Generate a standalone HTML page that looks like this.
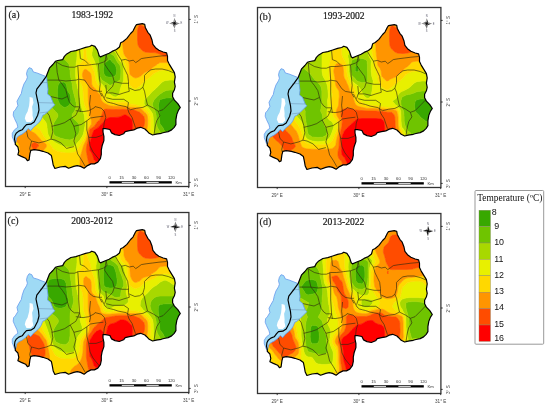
<!DOCTYPE html>
<html><head><meta charset="utf-8"><style>
html,body{margin:0;padding:0;background:#fff;}
svg{display:block;}
</style></head><body>
<svg width="550" height="407" viewBox="0 0 550 407">
<rect width="550" height="407" fill="#fff"/>
<g transform="translate(0,0)">
<clipPath id="clipa"><polygon points="136.5,24.6 138.0,24.3 142.3,23.7 144.7,24.3 145.3,27.4 147.8,32.3 150.0,34.8 152.0,40.0 152.9,44.3 155.5,47.7 158.9,50.3 163.2,52.0 166.6,52.9 167.5,56.3 167.5,60.6 169.2,64.1 171.8,68.4 174.4,72.6 175.2,76.9 174.4,82.1 175.2,86.4 174.4,89.8 172.6,93.3 172.6,96.7 174.4,100.1 177.8,103.6 180.3,107.5 178.5,110.1 176.8,114.4 175.9,119.6 175.9,124.7 174.2,127.3 171.6,129.9 168.2,131.6 163.9,132.5 161.3,133.3 156.1,134.2 152.7,135.0 149.2,133.3 146.7,130.7 144.9,129.0 140.6,127.3 137.2,128.2 133.8,129.9 129.5,130.7 125.2,131.6 123.6,133.8 119.3,135.5 115.0,134.6 111.6,132.9 109.9,129.5 105.6,128.6 103.0,128.6 103.0,132.0 103.9,136.3 103.9,140.6 102.1,145.8 101.3,150.1 101.3,154.4 100.4,158.7 97.8,162.1 94.4,163.9 91.0,163.9 87.5,165.6 84.1,168.2 80.6,166.4 77.2,165.6 73.8,166.4 68.6,168.2 65.2,166.4 60.0,167.0 54.9,168.5 53.2,165.0 52.3,159.9 51.4,155.6 48.0,153.0 42.8,151.3 39.4,150.4 34.2,149.6 30.8,150.4 29.9,153.9 29.1,159.9 27.4,160.7 25.6,158.2 21.3,156.4 17.9,154.7 18.8,151.3 17.9,147.0 15.3,144.4 15.3,142.7 14.5,139.2 14.9,135.8 16.2,133.2 18.8,131.1 22.2,129.8 24.4,126.8 26.5,124.6 30.8,124.2 34.2,122.0 37.7,115.2 39.0,110.0 38.5,104.7 37.0,97.8 36.0,93.0 36.8,89.2 42.0,82.4 46.3,76.3 49.6,67.8 52.9,64.5 55.4,61.3 57.8,60.5 62.7,59.6 64.4,56.4 66.8,53.9 70.9,51.5 75.8,50.6 80.7,49.0 85.6,47.4 89.7,46.5 91.8,45.2 94.9,46.4 97.4,50.1 99.2,55.7 100.5,56.9 104.8,55.0 109.1,53.2 112.1,51.4 116.4,49.5 119.5,47.0 120.7,42.7 123.2,41.5 126.9,38.4 130.6,33.5 133.0,31.1 135.5,26.0"/></clipPath>
<g clip-path="url(#clipa)">
<path fill="#38a800" stroke="#38a800" stroke-width="0.6" d="M110.0 59.3L110.7 60.0L112.0 61.8L112.2 62.0L114.0 63.4L114.5 64.0L115.7 66.0L116.0 66.9L116.2 68.0L116.6 70.0L116.4 72.0L116.2 74.0L116.0 74.4L114.8 76.0L114.0 76.5L112.0 76.9L110.0 77.3L108.0 76.9L106.0 76.4L105.4 76.0L104.0 74.0L104.0 74.0L103.7 72.0L103.5 70.0L103.6 68.0L103.8 66.0L104.0 65.0L104.4 64.0L106.0 62.1L106.1 62.0L108.0 60.6L108.6 60.0ZM60.0 82.3L62.0 82.2L64.0 82.0L66.0 83.8L66.1 84.0L66.7 86.0L67.0 88.0L67.4 90.0L68.0 91.5L68.3 92.0L69.7 94.0L70.0 94.5L70.4 96.0L70.6 98.0L70.9 100.0L70.5 102.0L70.0 104.0L70.0 104.0L68.0 105.9L67.9 106.0L66.0 107.3L64.0 107.4L62.0 106.0L62.0 106.0L60.0 104.4L59.7 104.0L58.8 102.0L58.0 100.2L57.9 100.0L57.8 98.0L57.6 96.0L57.5 94.0L57.5 92.0L57.5 90.0L57.7 88.0L57.9 86.0L58.0 85.7L58.6 84.0ZM166.0 98.0L168.0 97.9L170.0 97.8L172.0 97.9L174.0 98.0L174.0 98.0L176.0 98.3L178.0 98.8L180.0 99.5L182.0 99.7L184.0 99.9L185.9 100.0L186.0 100.0L188.0 100.0L190.0 100.0L192.0 100.0L192.0 102.0L192.0 104.0L192.0 106.0L192.0 108.0L192.0 110.0L192.0 112.0L192.0 114.0L192.0 116.0L192.0 118.0L192.0 120.0L190.0 120.0L190.0 120.0L188.0 120.0L186.0 120.0L184.0 120.2L182.0 120.7L180.0 121.2L179.4 122.0L178.3 124.0L178.0 124.8L177.6 126.0L177.2 128.0L176.7 130.0L176.0 130.7L174.0 131.6L172.0 131.7L170.0 131.8L168.0 131.9L166.7 132.0L166.0 132.1L165.9 132.0L164.1 130.0L164.0 129.9L163.2 128.0L162.0 126.4L161.7 126.0L160.0 124.0L160.0 124.0L159.7 122.0L159.5 120.0L159.5 118.0L159.4 116.0L159.3 114.0L159.2 112.0L158.9 110.0L158.7 108.0L158.5 106.0L158.6 104.0L159.2 102.0L159.7 100.0L160.0 99.7L162.0 99.1L164.0 98.4L166.0 98.0Z"/>
<path fill="#6fc400" stroke="#6fc400" stroke-width="0.6" d="M10.0 18.0L12.0 18.0L14.0 18.0L16.0 18.0L18.0 18.0L20.0 18.0L22.0 18.0L24.0 18.0L26.0 18.0L28.0 18.0L30.0 18.0L30.0 18.0L30.0 20.0L30.2 22.0L30.4 24.0L31.2 26.0L32.0 27.1L32.7 28.0L34.0 29.2L35.0 30.0L36.0 30.8L37.4 32.0L38.0 32.6L39.2 34.0L40.0 35.0L40.8 36.0L42.0 37.4L42.6 38.0L44.0 39.2L45.0 40.0L46.0 40.8L47.4 42.0L48.0 42.6L49.2 44.0L50.0 45.0L50.8 46.0L52.0 47.4L52.6 48.0L54.0 49.2L55.0 50.0L56.0 50.8L57.4 52.0L58.0 52.6L59.2 54.0L60.0 55.0L60.8 56.0L62.0 57.4L62.6 58.0L64.0 59.2L65.0 60.0L66.0 60.8L67.2 62.0L68.0 62.9L68.8 64.0L69.5 66.0L69.7 68.0L69.9 70.0L70.0 70.6L70.1 72.0L70.2 74.0L70.5 76.0L70.9 78.0L71.3 80.0L71.7 82.0L72.0 83.3L72.1 84.0L72.4 86.0L72.7 88.0L72.9 90.0L73.5 92.0L73.9 94.0L74.0 94.3L74.4 96.0L75.0 98.0L75.5 100.0L75.9 102.0L76.0 102.5L76.3 104.0L76.3 106.0L76.0 107.4L75.8 108.0L75.0 110.0L74.0 111.7L73.8 112.0L72.4 114.0L72.0 116.0L73.2 118.0L74.0 119.0L75.0 120.0L76.0 120.8L77.2 122.0L78.0 122.9L78.8 124.0L79.5 126.0L79.7 128.0L79.8 130.0L79.1 132.0L78.5 134.0L78.0 134.5L76.9 136.0L76.0 136.9L74.6 138.0L74.0 138.5L72.0 139.2L70.0 139.9L68.0 139.8L66.0 139.6L64.0 139.1L62.0 138.5L60.2 138.0L60.0 138.0L58.0 137.1L56.0 136.4L55.3 136.0L54.0 134.5L53.7 134.0L53.4 132.0L53.0 130.0L53.1 128.0L53.2 126.0L53.5 124.0L54.0 122.7L54.4 122.0L55.8 120.0L56.0 119.6L57.0 118.0L58.0 116.0L58.0 116.0L58.0 116.0L57.6 114.0L56.0 112.1L55.9 112.0L54.2 110.0L54.0 109.8L52.1 108.0L52.0 107.9L50.6 106.0L50.0 105.0L49.2 104.0L48.0 102.7L47.2 102.0L46.0 101.2L44.0 100.4L42.0 100.2L40.1 100.0L40.0 100.0L38.0 99.8L36.0 99.6L34.0 99.1L32.0 98.5L30.1 98.0L30.0 98.0L28.0 97.2L26.0 96.6L25.0 96.0L24.0 95.1L23.1 94.0L22.0 92.1L21.9 92.0L20.0 90.0L20.0 90.0L18.0 88.5L17.0 88.0L16.0 87.6L14.0 87.2L12.0 87.1L10.0 87.0L8.0 87.0L8.0 86.0L8.0 84.0L8.0 82.0L8.0 80.0L8.0 78.0L8.0 76.0L8.0 74.0L8.0 72.0L8.0 70.0L8.0 68.0L8.0 66.0L8.0 64.0L8.0 62.0L8.0 60.0L8.0 58.0L8.0 56.0L8.0 54.0L8.0 52.0L8.0 50.0L8.0 48.0L8.0 46.0L8.0 44.0L8.0 42.0L8.0 40.0L8.0 38.0L8.0 36.0L8.0 34.0L8.0 32.0L8.0 30.0L8.0 28.0L8.0 26.0L8.0 24.0L8.0 22.0L8.0 20.0L8.0 18.0ZM58.6 84.0L58.0 85.7L57.9 86.0L57.7 88.0L57.5 90.0L57.5 92.0L57.5 94.0L57.6 96.0L57.8 98.0L57.9 100.0L58.0 100.2L58.8 102.0L59.7 104.0L60.0 104.4L62.0 106.0L62.0 106.0L64.0 107.4L66.0 107.3L67.9 106.0L68.0 105.9L70.0 104.0L70.0 104.0L70.5 102.0L70.9 100.0L70.6 98.0L70.4 96.0L70.0 94.5L69.7 94.0L68.3 92.0L68.0 91.5L67.4 90.0L67.0 88.0L66.7 86.0L66.1 84.0L66.0 83.8L64.0 82.0L62.0 82.2L60.0 82.3ZM98.0 54.0L100.0 52.7L102.0 52.7L104.0 52.7L106.0 52.9L108.0 53.2L110.0 53.4L111.2 54.0L112.0 54.5L114.0 55.9L114.1 56.0L115.2 58.0L116.0 59.5L116.2 60.0L117.4 62.0L118.0 62.8L119.0 64.0L120.0 65.5L120.2 66.0L120.6 68.0L120.9 70.0L120.9 72.0L120.8 74.0L120.7 76.0L120.4 78.0L120.0 79.9L119.9 80.0L118.0 81.2L116.7 82.0L116.0 82.4L114.0 83.5L112.7 84.0L112.0 84.4L110.0 85.4L108.2 84.0L108.0 83.8L106.0 82.7L104.9 82.0L104.0 81.5L102.0 80.0L101.9 80.0L100.7 78.0L100.0 76.7L99.9 76.0L99.6 74.0L99.5 72.0L99.4 70.0L99.3 68.0L99.1 66.0L99.0 64.0L98.8 62.0L98.6 60.0L98.2 58.0L98.0 57.3L97.5 56.0L97.9 54.0ZM108.6 60.0L108.0 60.6L106.1 62.0L106.0 62.1L104.4 64.0L104.0 65.0L103.8 66.0L103.6 68.0L103.5 70.0L103.7 72.0L104.0 74.0L104.0 74.0L105.4 76.0L106.0 76.4L108.0 76.9L110.0 77.3L112.0 76.9L114.0 76.5L114.8 76.0L116.0 74.4L116.2 74.0L116.4 72.0L116.6 70.0L116.2 68.0L116.0 66.9L115.7 66.0L114.5 64.0L114.0 63.4L112.2 62.0L112.0 61.8L110.7 60.0L110.0 59.3ZM170.0 90.0L172.0 90.0L174.0 90.0L176.0 90.0L178.0 90.0L180.0 90.0L182.0 90.0L184.0 90.0L186.0 90.0L188.0 90.0L190.0 90.0L192.0 90.0L192.0 90.0L192.0 92.0L192.0 94.0L192.0 96.0L192.0 98.0L192.0 100.0L192.0 100.0L190.0 100.0L188.0 100.0L186.0 100.0L185.9 100.0L184.0 99.9L182.0 99.7L180.0 99.5L178.0 98.8L176.0 98.3L174.0 98.0L174.0 98.0L172.0 97.9L170.0 97.8L168.0 97.9L166.0 98.0L166.0 98.0L164.0 98.4L162.0 99.1L160.0 99.7L159.7 100.0L159.2 102.0L158.6 104.0L158.5 106.0L158.7 108.0L158.9 110.0L159.2 112.0L159.3 114.0L159.4 116.0L159.5 118.0L159.5 120.0L159.7 122.0L160.0 124.0L160.0 124.0L161.7 126.0L162.0 126.4L163.2 128.0L164.0 129.9L164.1 130.0L165.9 132.0L166.0 132.1L166.7 132.0L168.0 131.9L170.0 131.8L172.0 131.7L174.0 131.6L176.0 130.7L176.7 130.0L177.2 128.0L177.6 126.0L178.0 124.8L178.3 124.0L179.4 122.0L180.0 121.2L182.0 120.7L184.0 120.2L186.0 120.0L188.0 120.0L190.0 120.0L190.0 120.0L192.0 120.0L192.0 120.0L192.0 122.0L192.0 124.0L192.0 126.0L192.0 128.0L192.0 130.0L192.0 132.0L192.0 134.0L192.0 136.0L192.0 138.0L192.0 140.0L192.0 142.0L192.0 144.0L192.0 146.0L192.0 148.0L192.0 150.0L192.0 152.0L192.0 154.0L192.0 156.0L192.0 158.0L192.0 160.0L192.0 162.0L192.0 164.0L192.0 166.0L192.0 168.0L192.0 170.0L190.0 170.0L188.0 169.8L186.0 169.6L184.0 168.8L183.0 168.0L182.0 167.0L181.2 166.0L180.4 164.0L180.2 162.0L180.0 160.0L180.0 160.0L179.8 158.0L179.6 156.0L178.8 154.0L178.0 152.9L177.3 152.0L176.0 150.8L175.0 150.0L174.0 149.2L172.7 148.0L172.0 147.1L171.2 146.0L170.3 144.0L170.0 142.9L169.7 142.0L168.8 140.0L168.0 139.7L166.0 139.1L164.0 138.5L163.3 138.0L162.0 136.7L161.5 136.0L160.6 134.0L160.0 132.3L159.9 132.0L159.0 130.0L158.0 128.5L157.7 128.0L156.9 126.0L156.6 124.0L156.5 122.0L156.3 120.0L156.2 118.0L156.2 116.0L156.0 114.8L155.9 114.0L155.3 112.0L154.6 110.0L154.0 108.4L153.8 108.0L152.7 106.0L152.3 104.0L153.1 102.0L154.0 100.0L154.0 100.0L155.7 98.0L156.0 97.7L157.6 96.0L158.0 95.7L160.0 94.0L160.0 94.0L162.0 92.7L163.1 92.0L164.0 91.4L166.0 90.6L168.0 90.3L170.0 90.0Z"/>
<path fill="#a8d800" stroke="#a8d800" stroke-width="0.6" d="M32.0 18.0L34.0 18.0L36.0 18.0L38.0 18.0L40.0 18.0L42.0 18.0L44.0 18.0L46.0 18.0L48.0 18.0L50.0 18.0L52.0 18.0L54.0 18.0L56.0 18.0L58.0 18.0L60.0 18.0L62.0 18.0L64.0 18.0L66.0 18.0L68.0 18.0L70.0 18.0L72.0 18.0L74.0 18.0L76.0 18.0L78.0 18.0L80.0 18.0L82.0 18.0L84.0 18.0L86.0 18.0L88.0 18.0L90.0 18.0L92.0 18.0L94.0 18.0L96.0 18.0L98.0 18.0L100.0 18.0L102.0 18.0L104.0 18.0L106.0 18.0L106.0 20.0L106.0 22.0L106.0 24.0L106.0 26.0L106.0 28.0L106.0 30.0L106.0 30.8L106.0 32.0L106.1 34.0L106.2 36.0L106.6 38.0L107.0 40.0L107.6 42.0L108.0 43.0L108.5 44.0L109.8 46.0L110.0 46.3L111.0 48.0L112.0 49.7L112.2 50.0L114.0 50.9L115.2 52.0L116.0 52.9L116.6 54.0L117.4 56.0L118.0 57.4L118.2 58.0L119.1 60.0L120.0 61.1L120.8 62.0L122.0 63.5L122.4 64.0L123.1 66.0L123.4 68.0L123.6 70.0L123.6 72.0L123.7 74.0L123.7 76.0L123.7 78.0L123.7 80.0L123.1 82.0L122.2 84.0L122.0 84.6L121.3 86.0L120.7 88.0L120.0 90.0L120.0 90.2L119.8 92.0L119.4 94.0L118.0 95.7L117.7 96.0L116.0 96.9L114.0 96.8L112.6 96.0L112.0 95.6L110.0 94.3L109.8 94.0L108.4 92.0L108.0 91.5L106.8 90.0L106.0 89.4L104.9 88.0L104.0 86.9L103.5 86.0L102.0 84.3L101.7 84.0L100.0 82.7L99.4 82.0L98.2 80.0L98.0 79.0L97.8 78.0L97.6 76.0L97.3 74.0L97.1 72.0L96.8 70.0L96.5 68.0L96.1 66.0L96.0 65.3L95.6 64.0L94.8 62.0L94.0 60.2L93.9 60.0L92.9 58.0L92.0 56.0L92.0 55.6L91.8 54.0L92.0 52.7L92.1 52.0L92.5 50.0L92.6 48.0L92.7 46.0L92.4 44.0L92.0 43.0L91.5 42.0L90.0 40.0L90.0 40.0L88.0 38.7L86.2 38.0L86.0 37.9L84.0 37.9L83.8 38.0L82.0 38.7L80.0 40.0L80.0 40.0L78.5 42.0L78.0 43.0L77.6 44.0L77.2 46.0L77.1 48.0L77.0 50.0L77.0 52.0L77.0 54.0L77.0 56.0L76.9 58.0L76.8 60.0L76.4 62.0L76.1 64.0L76.0 65.4L75.9 66.0L75.8 68.0L75.7 70.0L75.7 72.0L75.7 74.0L75.7 76.0L75.9 78.0L76.0 79.5L76.0 80.0L76.4 82.0L76.9 84.0L77.3 86.0L77.7 88.0L78.0 89.3L78.1 90.0L78.6 92.0L79.0 94.0L79.4 96.0L79.9 98.0L80.0 98.2L80.3 100.0L80.6 102.0L80.9 104.0L81.3 106.0L81.8 108.0L82.0 108.7L82.6 110.0L83.2 112.0L84.0 114.0L84.0 114.0L84.4 116.0L84.6 118.0L84.8 120.0L85.0 122.0L85.2 124.0L85.0 126.0L84.5 128.0L84.2 130.0L84.0 131.3L83.8 132.0L83.4 134.0L82.5 136.0L82.0 136.8L81.2 138.0L80.0 139.9L79.9 140.0L78.0 142.0L78.0 142.0L76.5 144.0L76.0 144.7L74.5 146.0L74.0 146.3L72.0 146.8L70.0 147.2L68.0 147.1L66.0 147.0L64.0 146.6L62.4 146.0L62.0 145.8L60.0 145.0L58.2 144.0L58.0 143.9L56.0 142.9L54.6 142.0L54.0 141.6L52.1 140.0L52.0 139.9L50.2 138.0L50.0 137.7L48.8 136.0L48.0 134.2L47.9 134.0L47.6 132.0L47.3 130.0L47.1 128.0L46.9 126.0L46.5 124.0L46.0 122.6L45.6 122.0L44.2 120.0L44.0 119.7L42.3 118.0L42.0 117.6L40.7 116.0L40.0 115.0L39.3 114.0L38.0 112.5L37.5 112.0L36.0 110.7L35.0 110.0L34.0 109.4L32.0 108.0L32.0 108.0L30.0 106.3L29.7 106.0L28.0 104.8L26.9 104.0L26.0 103.5L24.0 102.6L22.8 102.0L22.0 101.5L20.0 100.0L20.0 100.0L18.1 98.0L18.0 97.9L16.8 96.0L16.0 94.9L14.8 94.0L14.0 93.6L12.0 93.3L10.0 93.0L8.0 93.0L8.0 92.0L8.0 90.0L8.0 88.0L8.0 87.0L10.0 87.0L12.0 87.1L14.0 87.2L16.0 87.6L17.0 88.0L18.0 88.5L20.0 90.0L20.0 90.0L21.9 92.0L22.0 92.1L23.1 94.0L24.0 95.1L25.0 96.0L26.0 96.6L28.0 97.2L30.0 98.0L30.1 98.0L32.0 98.5L34.0 99.1L36.0 99.6L38.0 99.8L40.0 100.0L40.1 100.0L42.0 100.2L44.0 100.4L46.0 101.2L47.2 102.0L48.0 102.7L49.2 104.0L50.0 105.0L50.6 106.0L52.0 107.9L52.1 108.0L54.0 109.8L54.2 110.0L55.9 112.0L56.0 112.1L57.6 114.0L58.0 116.0L58.0 116.0L58.0 116.0L57.0 118.0L56.0 119.6L55.8 120.0L54.4 122.0L54.0 122.7L53.5 124.0L53.2 126.0L53.1 128.0L53.0 130.0L53.4 132.0L53.7 134.0L54.0 134.5L55.3 136.0L56.0 136.4L58.0 137.1L60.0 138.0L60.2 138.0L62.0 138.5L64.0 139.1L66.0 139.6L68.0 139.8L70.0 139.9L72.0 139.2L74.0 138.5L74.6 138.0L76.0 136.9L76.9 136.0L78.0 134.5L78.5 134.0L79.1 132.0L79.8 130.0L79.7 128.0L79.5 126.0L78.8 124.0L78.0 122.9L77.2 122.0L76.0 120.8L75.0 120.0L74.0 119.0L73.2 118.0L72.0 116.0L72.4 114.0L73.8 112.0L74.0 111.7L75.0 110.0L75.8 108.0L76.0 107.4L76.3 106.0L76.3 104.0L76.0 102.5L75.9 102.0L75.5 100.0L75.0 98.0L74.4 96.0L74.0 94.3L73.9 94.0L73.5 92.0L72.9 90.0L72.7 88.0L72.4 86.0L72.1 84.0L72.0 83.3L71.7 82.0L71.3 80.0L70.9 78.0L70.5 76.0L70.2 74.0L70.1 72.0L70.0 70.6L69.9 70.0L69.7 68.0L69.5 66.0L68.8 64.0L68.0 62.9L67.2 62.0L66.0 60.8L65.0 60.0L64.0 59.2L62.6 58.0L62.0 57.4L60.8 56.0L60.0 55.0L59.2 54.0L58.0 52.6L57.4 52.0L56.0 50.8L55.0 50.0L54.0 49.2L52.6 48.0L52.0 47.4L50.8 46.0L50.0 45.0L49.2 44.0L48.0 42.6L47.4 42.0L46.0 40.8L45.0 40.0L44.0 39.2L42.6 38.0L42.0 37.4L40.8 36.0L40.0 35.0L39.2 34.0L38.0 32.6L37.4 32.0L36.0 30.8L35.0 30.0L34.0 29.2L32.7 28.0L32.0 27.1L31.2 26.0L30.4 24.0L30.2 22.0L30.0 20.0L30.0 18.0ZM97.9 54.0L97.5 56.0L98.0 57.3L98.2 58.0L98.6 60.0L98.8 62.0L99.0 64.0L99.1 66.0L99.3 68.0L99.4 70.0L99.5 72.0L99.6 74.0L99.9 76.0L100.0 76.7L100.7 78.0L101.9 80.0L102.0 80.0L104.0 81.5L104.9 82.0L106.0 82.7L108.0 83.8L108.2 84.0L110.0 85.4L112.0 84.4L112.7 84.0L114.0 83.5L116.0 82.4L116.7 82.0L118.0 81.2L119.9 80.0L120.0 79.9L120.4 78.0L120.7 76.0L120.8 74.0L120.9 72.0L120.9 70.0L120.6 68.0L120.2 66.0L120.0 65.5L119.0 64.0L118.0 62.8L117.4 62.0L116.2 60.0L116.0 59.5L115.2 58.0L114.1 56.0L114.0 55.9L112.0 54.5L111.2 54.0L110.0 53.4L108.0 53.2L106.0 52.9L104.0 52.7L102.0 52.7L100.0 52.7L98.0 54.0ZM176.0 80.0L178.0 80.0L180.0 80.0L182.0 80.0L184.0 80.0L186.0 80.0L188.0 80.0L190.0 80.0L192.0 80.0L192.0 80.0L192.0 82.0L192.0 84.0L192.0 86.0L192.0 88.0L192.0 90.0L190.0 90.0L188.0 90.0L186.0 90.0L184.0 90.0L182.0 90.0L180.0 90.0L178.0 90.0L176.0 90.0L174.0 90.0L172.0 90.0L170.0 90.0L170.0 90.0L168.0 90.3L166.0 90.6L164.0 91.4L163.1 92.0L162.0 92.7L160.0 94.0L160.0 94.0L158.0 95.7L157.6 96.0L156.0 97.7L155.7 98.0L154.0 100.0L154.0 100.0L153.1 102.0L152.3 104.0L152.7 106.0L153.8 108.0L154.0 108.4L154.6 110.0L155.3 112.0L155.9 114.0L156.0 114.8L156.2 116.0L156.2 118.0L156.3 120.0L156.5 122.0L156.6 124.0L156.9 126.0L157.7 128.0L158.0 128.5L159.0 130.0L159.9 132.0L160.0 132.3L160.6 134.0L161.5 136.0L162.0 136.7L163.3 138.0L164.0 138.5L166.0 139.1L168.0 139.7L168.8 140.0L169.7 142.0L170.0 142.9L170.3 144.0L171.2 146.0L172.0 147.1L172.7 148.0L174.0 149.2L175.0 150.0L176.0 150.8L177.3 152.0L178.0 152.9L178.8 154.0L179.6 156.0L179.8 158.0L180.0 160.0L180.0 160.0L180.2 162.0L180.4 164.0L181.2 166.0L182.0 167.0L183.0 168.0L184.0 168.8L186.0 169.6L188.0 169.8L190.0 170.0L192.0 170.0L192.0 170.0L192.0 172.0L192.0 174.0L192.0 176.0L192.0 178.0L192.0 180.0L192.0 182.0L190.0 182.0L188.0 182.0L186.0 182.0L184.0 182.0L182.0 182.0L180.0 182.0L178.0 182.0L176.0 182.0L174.0 182.0L172.0 182.0L170.0 182.0L168.0 182.0L166.0 182.0L164.0 182.0L162.0 182.0L160.0 182.0L158.0 182.0L156.0 182.0L154.0 182.0L152.0 182.0L150.0 182.0L148.0 182.0L146.0 182.0L144.9 182.0L144.9 180.0L144.9 178.0L144.9 176.0L145.0 174.0L145.1 172.0L145.1 170.0L145.2 168.0L145.3 166.0L145.3 164.0L145.4 162.0L145.4 160.0L145.4 158.0L145.3 156.0L145.3 154.0L145.2 152.0L145.2 150.0L145.4 148.0L145.7 146.0L146.0 145.5L147.6 144.0L148.0 143.7L150.0 142.0L150.1 142.0L152.0 140.0L152.0 140.0L153.0 138.0L153.6 136.0L153.8 134.0L153.8 132.0L153.8 130.0L153.6 128.0L153.5 126.0L153.4 124.0L153.4 122.0L153.3 120.0L153.2 118.0L153.0 116.0L152.6 114.0L152.0 112.8L151.5 112.0L150.1 110.0L150.0 109.8L148.6 108.0L148.0 107.4L146.0 106.0L146.0 106.0L144.1 104.0L144.2 102.0L144.3 100.0L146.0 98.4L146.4 98.0L148.0 96.3L148.3 96.0L150.0 94.2L150.2 94.0L151.8 92.0L152.0 91.8L154.0 90.2L154.2 90.0L156.0 88.3L156.3 88.0L158.0 86.3L158.3 86.0L160.0 84.2L160.2 84.0L162.0 82.3L162.4 82.0L164.0 81.0L166.0 80.4L168.0 80.2L170.0 80.0L172.0 80.0L174.0 80.0L174.3 80.0Z"/>
<path fill="#e8f000" stroke="#e8f000" stroke-width="0.6" d="M106.0 18.0L108.0 18.0L110.0 18.0L110.0 20.0L110.0 22.0L110.0 24.0L110.0 24.0L110.0 26.0L110.0 28.0L110.0 30.0L110.1 32.0L110.3 34.0L110.7 36.0L111.6 38.0L112.0 38.7L112.7 40.0L114.0 41.8L114.2 42.0L115.9 44.0L116.0 44.2L117.0 46.0L117.5 48.0L118.0 49.9L118.0 50.0L118.9 52.0L119.5 54.0L120.0 55.5L120.3 56.0L121.6 58.0L122.0 58.5L122.9 60.0L124.0 61.4L124.4 62.0L125.6 64.0L126.0 65.4L126.2 66.0L126.3 68.0L126.5 70.0L126.6 72.0L126.7 74.0L126.9 76.0L127.5 78.0L128.0 79.5L128.2 80.0L128.7 82.0L129.4 84.0L130.0 85.2L130.8 86.0L132.0 87.1L133.2 88.0L134.0 88.5L136.0 88.5L136.9 88.0L138.0 87.3L139.7 86.0L140.0 85.8L141.7 84.0L142.0 83.8L143.8 82.0L144.0 81.8L146.0 80.0L146.0 80.0L148.0 78.7L148.9 78.0L150.0 77.0L151.0 76.0L152.0 75.2L153.3 74.0L154.0 73.4L156.0 72.2L156.5 72.0L158.0 71.4L160.0 70.3L162.0 70.2L164.0 70.1L166.0 70.0L168.0 70.0L170.0 70.0L170.1 70.0L172.0 69.9L174.0 69.7L176.0 69.2L178.0 68.3L178.5 68.0L180.0 67.0L181.4 66.0L182.0 65.7L184.0 64.9L186.0 64.4L188.0 64.2L190.0 64.0L192.0 64.0L192.0 66.0L192.0 68.0L192.0 70.0L192.0 72.0L192.0 74.0L192.0 76.0L192.0 78.0L192.0 80.0L190.0 80.0L188.0 80.0L186.0 80.0L184.0 80.0L182.0 80.0L180.0 80.0L178.0 80.0L176.0 80.0L174.3 80.0L174.0 80.0L172.0 80.0L170.0 80.0L168.0 80.2L166.0 80.4L164.0 81.0L162.4 82.0L162.0 82.3L160.2 84.0L160.0 84.2L158.3 86.0L158.0 86.3L156.3 88.0L156.0 88.3L154.2 90.0L154.0 90.2L152.0 91.8L151.8 92.0L150.2 94.0L150.0 94.2L148.3 96.0L148.0 96.3L146.4 98.0L146.0 98.4L144.3 100.0L144.2 102.0L144.1 104.0L146.0 106.0L146.0 106.0L148.0 107.4L148.6 108.0L150.0 109.8L150.1 110.0L151.5 112.0L152.0 112.8L152.6 114.0L153.0 116.0L153.2 118.0L153.3 120.0L153.4 122.0L153.4 124.0L153.5 126.0L153.6 128.0L153.8 130.0L153.8 132.0L153.8 134.0L153.6 136.0L153.0 138.0L152.0 140.0L152.0 140.0L150.1 142.0L150.0 142.0L148.0 143.7L147.6 144.0L146.0 145.5L145.7 146.0L145.4 148.0L145.2 150.0L145.2 152.0L145.3 154.0L145.3 156.0L145.4 158.0L145.4 160.0L145.4 162.0L145.3 164.0L145.3 166.0L145.2 168.0L145.1 170.0L145.1 172.0L145.0 174.0L144.9 176.0L144.9 178.0L144.9 180.0L144.9 182.0L144.0 182.0L142.0 182.0L141.5 182.0L141.5 180.0L141.5 178.0L141.6 176.0L141.7 174.0L141.9 172.0L142.0 170.1L142.0 170.0L142.2 168.0L142.3 166.0L142.4 164.0L142.4 162.0L142.4 160.0L142.4 158.0L142.4 156.0L142.3 154.0L142.2 152.0L142.0 150.0L142.0 148.0L142.1 146.0L142.6 144.0L143.8 142.0L144.0 141.7L145.6 140.0L146.0 139.6L147.5 138.0L148.0 137.4L148.9 136.0L149.6 134.0L149.9 132.0L150.0 130.9L150.1 130.0L150.2 128.0L150.4 126.0L150.4 124.0L150.4 122.0L150.5 120.0L150.2 118.0L150.0 116.0L150.0 116.0L149.3 114.0L148.0 112.1L148.0 112.0L146.1 110.0L146.0 109.9L144.0 108.2L143.7 108.0L142.0 107.0L140.0 106.1L139.7 106.0L138.0 105.5L136.0 104.9L134.0 104.5L132.0 104.2L130.0 104.0L130.0 104.0L128.0 103.0L126.0 102.3L124.0 102.2L122.0 102.3L120.0 102.4L118.0 102.5L116.0 102.6L114.0 102.5L112.0 102.1L111.6 102.0L110.0 101.6L108.0 100.5L107.2 100.0L106.0 98.6L105.6 98.0L104.5 96.0L104.0 95.1L103.6 94.0L102.7 92.0L102.0 90.5L101.8 90.0L100.5 88.0L100.0 87.3L98.9 86.0L98.0 85.0L97.3 84.0L96.3 82.0L96.0 81.3L95.5 80.0L95.3 78.0L95.0 76.0L94.7 74.0L94.2 72.0L94.0 71.3L93.4 70.0L92.6 68.0L92.0 66.4L91.8 66.0L90.9 64.0L90.0 62.3L89.7 62.0L88.0 60.5L87.6 60.0L86.8 58.0L86.3 56.0L86.1 54.0L86.1 52.0L86.1 50.0L86.0 49.2L84.0 49.1L83.8 50.0L83.8 52.0L83.8 54.0L83.6 56.0L83.4 58.0L83.1 60.0L82.0 61.7L81.8 62.0L80.1 64.0L80.0 64.2L79.5 66.0L79.2 68.0L79.0 70.0L78.9 72.0L78.8 74.0L78.8 76.0L79.0 78.0L79.3 80.0L80.0 81.8L80.1 82.0L81.3 84.0L82.0 85.7L82.1 86.0L82.6 88.0L83.0 90.0L83.1 92.0L83.3 94.0L83.4 96.0L83.6 98.0L83.7 100.0L84.0 101.9L84.0 102.0L84.3 104.0L85.0 106.0L85.9 108.0L86.0 108.2L86.7 110.0L87.0 112.0L87.3 114.0L87.5 116.0L87.7 118.0L87.8 120.0L88.0 122.0L88.0 122.0L88.2 124.0L88.0 124.7L87.7 126.0L86.9 128.0L86.4 130.0L86.2 132.0L86.0 133.5L85.9 134.0L85.4 136.0L84.6 138.0L84.0 139.3L83.5 140.0L82.2 142.0L82.0 142.3L80.9 144.0L80.0 145.8L79.8 146.0L78.6 148.0L78.0 148.8L77.0 150.0L76.0 151.2L74.7 152.0L74.0 152.4L72.0 152.7L70.0 153.0L68.0 153.0L66.0 152.9L64.0 152.7L62.0 152.4L60.0 152.0L59.9 152.0L58.0 151.4L56.0 150.6L55.1 150.0L54.0 149.4L52.6 148.0L52.0 147.2L51.4 146.0L50.0 144.3L49.9 144.0L48.4 142.0L48.0 141.5L46.5 140.0L46.0 139.3L45.0 138.0L44.0 136.7L43.5 136.0L42.3 134.0L42.0 133.2L41.4 132.0L40.0 130.0L40.0 130.0L38.0 128.2L37.7 128.0L36.0 127.0L34.7 126.0L34.0 125.3L33.0 124.0L32.0 122.3L31.8 122.0L30.0 120.0L30.0 120.0L28.0 118.2L27.7 118.0L26.0 117.0L24.7 116.0L24.0 115.3L23.0 114.0L22.0 112.3L21.8 112.0L20.0 110.0L20.0 110.0L18.0 108.6L16.7 108.0L16.0 107.7L14.0 107.2L12.0 107.1L10.0 107.0L8.0 107.0L8.0 106.0L8.0 104.0L8.0 102.0L8.0 100.0L8.0 98.0L8.0 96.0L8.0 94.0L8.0 93.0L10.0 93.0L12.0 93.3L14.0 93.6L14.8 94.0L16.0 94.9L16.8 96.0L18.0 97.9L18.1 98.0L20.0 100.0L20.0 100.0L22.0 101.5L22.8 102.0L24.0 102.6L26.0 103.5L26.9 104.0L28.0 104.8L29.7 106.0L30.0 106.3L32.0 108.0L32.0 108.0L34.0 109.4L35.0 110.0L36.0 110.7L37.5 112.0L38.0 112.5L39.3 114.0L40.0 115.0L40.7 116.0L42.0 117.6L42.3 118.0L44.0 119.7L44.2 120.0L45.6 122.0L46.0 122.6L46.5 124.0L46.9 126.0L47.1 128.0L47.3 130.0L47.6 132.0L47.9 134.0L48.0 134.2L48.8 136.0L50.0 137.7L50.2 138.0L52.0 139.9L52.1 140.0L54.0 141.6L54.6 142.0L56.0 142.9L58.0 143.9L58.2 144.0L60.0 145.0L62.0 145.8L62.4 146.0L64.0 146.6L66.0 147.0L68.0 147.1L70.0 147.2L72.0 146.8L74.0 146.3L74.5 146.0L76.0 144.7L76.5 144.0L78.0 142.0L78.0 142.0L79.9 140.0L80.0 139.9L81.2 138.0L82.0 136.8L82.5 136.0L83.4 134.0L83.8 132.0L84.0 131.3L84.2 130.0L84.5 128.0L85.0 126.0L85.2 124.0L85.0 122.0L84.8 120.0L84.6 118.0L84.4 116.0L84.0 114.0L84.0 114.0L83.2 112.0L82.6 110.0L82.0 108.7L81.8 108.0L81.3 106.0L80.9 104.0L80.6 102.0L80.3 100.0L80.0 98.2L79.9 98.0L79.4 96.0L79.0 94.0L78.6 92.0L78.1 90.0L78.0 89.3L77.7 88.0L77.3 86.0L76.9 84.0L76.4 82.0L76.0 80.0L76.0 79.5L75.9 78.0L75.7 76.0L75.7 74.0L75.7 72.0L75.7 70.0L75.8 68.0L75.9 66.0L76.0 65.4L76.1 64.0L76.4 62.0L76.8 60.0L76.9 58.0L77.0 56.0L77.0 54.0L77.0 52.0L77.0 50.0L77.1 48.0L77.2 46.0L77.6 44.0L78.0 43.0L78.5 42.0L80.0 40.0L80.0 40.0L82.0 38.7L83.8 38.0L84.0 37.9L86.0 37.9L86.2 38.0L88.0 38.7L90.0 40.0L90.0 40.0L91.5 42.0L92.0 43.0L92.4 44.0L92.7 46.0L92.6 48.0L92.5 50.0L92.1 52.0L92.0 52.7L91.8 54.0L92.0 55.6L92.0 56.0L92.9 58.0L93.9 60.0L94.0 60.2L94.8 62.0L95.6 64.0L96.0 65.3L96.1 66.0L96.5 68.0L96.8 70.0L97.1 72.0L97.3 74.0L97.6 76.0L97.8 78.0L98.0 79.0L98.2 80.0L99.4 82.0L100.0 82.7L101.7 84.0L102.0 84.3L103.5 86.0L104.0 86.9L104.9 88.0L106.0 89.4L106.8 90.0L108.0 91.5L108.4 92.0L109.8 94.0L110.0 94.3L112.0 95.6L112.6 96.0L114.0 96.8L116.0 96.9L117.7 96.0L118.0 95.7L119.4 94.0L119.8 92.0L120.0 90.2L120.0 90.0L120.7 88.0L121.3 86.0L122.0 84.6L122.2 84.0L123.1 82.0L123.7 80.0L123.7 78.0L123.7 76.0L123.7 74.0L123.6 72.0L123.6 70.0L123.4 68.0L123.1 66.0L122.4 64.0L122.0 63.5L120.8 62.0L120.0 61.1L119.1 60.0L118.2 58.0L118.0 57.4L117.4 56.0L116.6 54.0L116.0 52.9L115.2 52.0L114.0 50.9L112.2 50.0L112.0 49.7L111.0 48.0L110.0 46.3L109.8 46.0L108.5 44.0L108.0 43.0L107.6 42.0L107.0 40.0L106.6 38.0L106.2 36.0L106.1 34.0L106.0 32.0L106.0 30.8L106.0 30.0L106.0 28.0L106.0 26.0L106.0 24.0L106.0 22.0L106.0 20.0L106.0 18.0Z"/>
<path fill="#ffd800" stroke="#ffd800" stroke-width="0.6" d="M110.0 18.0L112.0 18.0L114.0 18.0L114.0 18.0L114.0 20.0L114.0 22.0L114.0 24.0L114.0 26.0L114.0 28.0L114.0 30.0L114.4 32.0L114.7 34.0L115.7 36.0L116.0 36.3L118.0 37.7L118.3 38.0L120.0 40.0L120.0 40.0L121.5 42.0L122.0 43.0L122.4 44.0L122.8 46.0L123.0 48.0L123.2 50.0L123.6 52.0L124.0 54.0L124.0 54.1L125.1 56.0L126.0 57.1L126.9 58.0L128.0 59.9L128.0 60.0L128.8 62.0L129.2 64.0L129.4 66.0L129.5 68.0L129.5 70.0L129.7 72.0L129.9 74.0L130.0 74.4L131.6 76.0L132.0 76.2L134.0 77.6L136.0 78.0L136.0 78.0L136.0 78.0L138.0 77.3L140.0 76.6L140.8 76.0L142.0 74.7L142.8 74.0L144.0 73.0L145.9 72.0L146.0 72.0L148.0 71.1L150.0 70.4L150.5 70.0L152.0 68.0L152.0 68.0L154.0 66.5L154.9 66.0L156.0 65.2L157.7 64.0L158.0 63.7L160.0 62.5L162.0 62.6L164.0 62.6L166.0 62.6L168.0 62.7L170.0 62.7L172.0 62.6L174.0 62.5L176.0 62.1L176.5 62.0L178.0 61.6L180.0 61.2L182.0 60.7L184.0 60.4L186.0 60.1L188.0 60.1L190.0 60.0L192.0 60.0L192.0 62.0L192.0 64.0L192.0 64.0L190.0 64.0L188.0 64.2L186.0 64.4L184.0 64.9L182.0 65.7L181.4 66.0L180.0 67.0L178.5 68.0L178.0 68.3L176.0 69.2L174.0 69.7L172.0 69.9L170.1 70.0L170.0 70.0L168.0 70.0L166.0 70.0L164.0 70.1L162.0 70.2L160.0 70.3L158.0 71.4L156.5 72.0L156.0 72.2L154.0 73.4L153.3 74.0L152.0 75.2L151.0 76.0L150.0 77.0L148.9 78.0L148.0 78.7L146.0 80.0L146.0 80.0L144.0 81.8L143.8 82.0L142.0 83.8L141.7 84.0L140.0 85.8L139.7 86.0L138.0 87.3L136.9 88.0L136.0 88.5L134.0 88.5L133.2 88.0L132.0 87.1L130.8 86.0L130.0 85.2L129.4 84.0L128.7 82.0L128.2 80.0L128.0 79.5L127.5 78.0L126.9 76.0L126.7 74.0L126.6 72.0L126.5 70.0L126.3 68.0L126.2 66.0L126.0 65.4L125.6 64.0L124.4 62.0L124.0 61.4L122.9 60.0L122.0 58.5L121.6 58.0L120.3 56.0L120.0 55.5L119.5 54.0L118.9 52.0L118.0 50.0L118.0 49.9L117.5 48.0L117.0 46.0L116.0 44.2L115.9 44.0L114.2 42.0L114.0 41.8L112.7 40.0L112.0 38.7L111.6 38.0L110.7 36.0L110.3 34.0L110.1 32.0L110.0 30.0L110.0 28.0L110.0 26.0L110.0 24.0L110.0 24.0L110.0 22.0L110.0 20.0L110.0 18.0ZM84.0 49.1L86.0 49.2L86.1 50.0L86.1 52.0L86.1 54.0L86.3 56.0L86.8 58.0L87.6 60.0L88.0 60.5L89.7 62.0L90.0 62.3L90.9 64.0L91.8 66.0L92.0 66.4L92.6 68.0L93.4 70.0L94.0 71.3L94.2 72.0L94.7 74.0L95.0 76.0L95.3 78.0L95.5 80.0L96.0 81.3L96.3 82.0L97.3 84.0L98.0 85.0L98.9 86.0L100.0 87.3L100.5 88.0L101.8 90.0L102.0 90.5L102.7 92.0L103.6 94.0L104.0 95.1L104.5 96.0L105.6 98.0L106.0 98.6L107.2 100.0L108.0 100.5L110.0 101.6L111.6 102.0L112.0 102.1L114.0 102.5L116.0 102.6L118.0 102.5L120.0 102.4L122.0 102.3L124.0 102.2L126.0 102.3L128.0 103.0L130.0 104.0L130.0 104.0L132.0 104.2L134.0 104.5L136.0 104.9L138.0 105.5L139.7 106.0L140.0 106.1L142.0 107.0L143.7 108.0L144.0 108.2L146.0 109.9L146.1 110.0L148.0 112.0L148.0 112.1L149.3 114.0L150.0 116.0L150.0 116.0L150.2 118.0L150.5 120.0L150.4 122.0L150.4 124.0L150.4 126.0L150.2 128.0L150.1 130.0L150.0 130.9L149.9 132.0L149.6 134.0L148.9 136.0L148.0 137.4L147.5 138.0L146.0 139.6L145.6 140.0L144.0 141.7L143.8 142.0L142.6 144.0L142.1 146.0L142.0 148.0L142.0 150.0L142.2 152.0L142.3 154.0L142.4 156.0L142.4 158.0L142.4 160.0L142.4 162.0L142.4 164.0L142.3 166.0L142.2 168.0L142.0 170.0L142.0 170.1L141.9 172.0L141.7 174.0L141.6 176.0L141.5 178.0L141.5 180.0L141.5 182.0L140.0 182.0L138.5 182.0L138.5 180.0L138.6 178.0L138.6 176.0L138.8 174.0L139.1 172.0L139.3 170.0L139.6 168.0L139.8 166.0L139.9 164.0L140.0 162.0L140.0 160.0L140.0 158.0L139.9 156.0L139.8 154.0L139.6 152.0L139.4 150.0L139.2 148.0L139.1 146.0L139.3 144.0L140.0 142.2L140.1 142.0L141.1 140.0L142.0 138.7L142.6 138.0L144.0 136.5L144.5 136.0L145.7 134.0L146.0 133.2L146.3 132.0L146.7 130.0L147.1 128.0L147.5 126.0L147.7 124.0L147.7 122.0L147.8 120.0L147.5 118.0L147.3 116.0L146.4 114.0L146.0 113.5L144.3 112.0L144.0 111.7L142.3 110.0L142.0 109.8L140.0 108.5L138.0 108.1L137.3 108.0L136.0 107.8L134.0 107.5L132.0 107.4L130.0 107.3L128.0 106.9L126.0 106.5L124.0 106.3L122.0 106.3L120.0 106.2L118.0 106.2L116.0 106.3L114.0 106.2L112.1 106.0L112.0 106.0L110.0 105.8L108.0 105.0L106.0 104.0L105.9 104.0L104.0 103.0L102.7 102.0L102.0 101.1L101.4 100.0L100.8 98.0L100.4 96.0L100.0 94.9L99.3 94.0L98.0 92.7L97.5 92.0L96.4 90.0L96.0 89.5L94.4 88.0L94.0 87.5L92.4 86.0L92.0 84.9L91.7 84.0L91.6 82.0L91.5 80.0L91.4 78.0L91.3 76.0L90.8 74.0L90.0 72.5L89.3 72.0L88.0 71.0L86.8 70.0L86.0 69.3L84.0 69.9L83.9 70.0L83.0 72.0L82.4 74.0L82.4 76.0L83.0 78.0L83.6 80.0L84.0 80.6L85.4 82.0L86.0 82.7L87.5 84.0L88.0 85.3L88.2 86.0L88.2 88.0L88.2 90.0L88.2 92.0L88.2 94.0L88.2 96.0L88.3 98.0L88.3 100.0L88.5 102.0L88.6 104.0L89.0 106.0L89.4 108.0L89.7 110.0L89.8 112.0L89.9 114.0L90.0 115.0L90.3 116.0L90.8 118.0L91.2 120.0L91.4 122.0L91.5 124.0L90.3 126.0L90.0 126.2L88.9 128.0L88.0 130.0L88.0 130.1L87.8 132.0L87.5 134.0L87.2 136.0L86.7 138.0L86.2 140.0L86.0 140.5L85.3 142.0L84.3 144.0L84.0 144.7L83.4 146.0L82.9 148.0L82.2 150.0L82.0 151.0L81.7 152.0L81.1 154.0L80.5 156.0L80.3 158.0L80.0 160.0L80.0 160.0L80.0 162.0L80.0 164.0L80.0 166.0L80.0 168.0L80.0 170.0L80.0 172.0L80.0 174.0L80.0 176.0L80.0 178.0L80.0 180.0L80.0 182.0L78.0 182.0L76.0 182.0L74.0 182.0L72.0 182.0L70.0 182.0L68.0 182.0L66.0 182.0L64.0 182.0L62.0 182.0L60.0 182.0L58.0 182.0L56.0 182.0L54.0 182.0L52.0 182.0L50.0 182.0L48.0 182.0L46.0 182.0L44.0 182.0L42.0 182.0L40.0 182.0L40.0 182.0L40.0 180.0L40.0 178.0L40.0 176.0L40.0 174.0L40.0 172.0L40.0 170.0L40.0 168.0L40.0 166.0L40.0 166.0L40.0 164.0L40.0 162.0L40.0 160.0L40.3 158.0L40.5 156.0L41.4 154.0L42.0 153.1L42.7 152.0L43.7 150.0L44.0 149.7L45.5 148.0L46.0 147.2L46.5 146.0L46.0 144.2L45.9 144.0L44.0 142.4L43.4 142.0L42.0 140.9L40.9 140.0L40.0 138.8L39.3 138.0L38.0 136.6L37.5 136.0L36.0 134.2L35.7 134.0L34.0 132.8L32.4 132.0L32.0 131.7L30.0 130.0L30.0 130.0L28.1 128.0L28.0 127.9L26.9 126.0L26.0 124.8L25.2 124.0L24.0 123.1L22.1 122.0L22.0 121.9L20.0 120.0L20.0 120.0L18.1 118.0L18.0 117.9L16.8 116.0L16.0 114.9L14.8 114.0L14.0 113.6L12.0 113.3L10.0 113.0L8.0 113.0L8.0 112.0L8.0 110.0L8.0 108.0L8.0 107.0L10.0 107.0L12.0 107.1L14.0 107.2L16.0 107.7L16.7 108.0L18.0 108.6L20.0 110.0L20.0 110.0L21.8 112.0L22.0 112.3L23.0 114.0L24.0 115.3L24.7 116.0L26.0 117.0L27.7 118.0L28.0 118.2L30.0 120.0L30.0 120.0L31.8 122.0L32.0 122.3L33.0 124.0L34.0 125.3L34.7 126.0L36.0 127.0L37.7 128.0L38.0 128.2L40.0 130.0L40.0 130.0L41.4 132.0L42.0 133.2L42.3 134.0L43.5 136.0L44.0 136.7L45.0 138.0L46.0 139.3L46.5 140.0L48.0 141.5L48.4 142.0L49.9 144.0L50.0 144.3L51.4 146.0L52.0 147.2L52.6 148.0L54.0 149.4L55.1 150.0L56.0 150.6L58.0 151.4L59.9 152.0L60.0 152.0L62.0 152.4L64.0 152.7L66.0 152.9L68.0 153.0L70.0 153.0L72.0 152.7L74.0 152.4L74.7 152.0L76.0 151.2L77.0 150.0L78.0 148.8L78.6 148.0L79.8 146.0L80.0 145.8L80.9 144.0L82.0 142.3L82.2 142.0L83.5 140.0L84.0 139.3L84.6 138.0L85.4 136.0L85.9 134.0L86.0 133.5L86.2 132.0L86.4 130.0L86.9 128.0L87.7 126.0L88.0 124.7L88.2 124.0L88.0 122.0L88.0 122.0L87.8 120.0L87.7 118.0L87.5 116.0L87.3 114.0L87.0 112.0L86.7 110.0L86.0 108.2L85.9 108.0L85.0 106.0L84.3 104.0L84.0 102.0L84.0 101.9L83.7 100.0L83.6 98.0L83.4 96.0L83.3 94.0L83.1 92.0L83.0 90.0L82.6 88.0L82.1 86.0L82.0 85.7L81.3 84.0L80.1 82.0L80.0 81.8L79.3 80.0L79.0 78.0L78.8 76.0L78.8 74.0L78.9 72.0L79.0 70.0L79.2 68.0L79.5 66.0L80.0 64.2L80.1 64.0L81.8 62.0L82.0 61.7L83.1 60.0L83.4 58.0L83.6 56.0L83.8 54.0L83.8 52.0L83.8 50.0ZM10.0 140.0L12.0 140.2L14.0 140.4L16.0 141.2L17.0 142.0L18.0 143.0L18.8 144.0L19.5 146.0L19.8 148.0L20.0 150.0L19.8 152.0L19.6 154.0L18.8 156.0L18.0 157.0L17.0 158.0L16.0 158.8L14.0 159.6L12.0 159.8L10.0 160.0L8.0 160.0L8.0 158.0L8.0 156.0L8.0 154.0L8.0 152.0L8.0 150.0L8.0 148.0L8.0 146.0L8.0 144.0L8.0 142.0L8.0 140.0Z"/>
<path fill="#ff9500" stroke="#ff9500" stroke-width="0.6" d="M116.0 18.0L118.0 18.0L120.0 18.0L122.0 18.0L124.0 18.0L126.0 18.0L128.0 18.0L130.0 18.0L132.0 18.0L134.0 18.0L136.0 18.0L138.0 18.0L140.0 18.0L142.0 18.0L144.0 18.0L146.0 18.0L148.0 18.0L150.0 18.0L152.0 18.0L154.0 18.0L156.0 18.0L158.0 18.0L160.0 18.0L162.0 18.0L164.0 18.0L166.0 18.0L168.0 18.0L170.0 18.0L170.0 20.0L169.8 22.0L169.6 24.0L168.8 26.0L168.0 27.0L167.0 28.0L166.0 28.8L164.0 29.6L162.0 29.8L160.0 30.0L158.0 30.0L156.0 30.0L154.0 29.9L152.0 29.6L150.0 29.4L148.0 28.4L147.0 28.0L146.0 27.6L144.0 26.8L142.5 26.0L142.0 25.7L140.0 24.2L138.7 26.0L138.1 28.0L138.0 28.4L137.6 30.0L137.6 32.0L137.5 34.0L137.5 36.0L137.5 38.0L137.5 40.0L137.7 42.0L137.8 44.0L138.0 44.6L138.4 46.0L139.8 48.0L140.0 48.2L141.8 50.0L142.0 50.2L144.0 51.6L145.4 52.0L146.0 52.2L148.0 52.3L150.0 52.5L152.0 52.5L154.0 52.6L156.0 52.8L158.0 53.4L159.6 54.0L160.0 54.2L162.0 55.3L163.2 56.0L164.0 56.3L166.0 56.7L168.0 56.8L170.0 57.0L172.0 56.9L174.0 56.9L176.0 56.7L178.0 56.6L180.0 56.4L182.0 56.2L184.0 56.1L186.0 56.0L188.0 56.0L188.4 56.0L190.0 56.0L192.0 56.0L192.0 56.0L192.0 58.0L192.0 60.0L192.0 60.0L190.0 60.0L188.0 60.1L186.0 60.1L184.0 60.4L182.0 60.7L180.0 61.2L178.0 61.6L176.5 62.0L176.0 62.1L174.0 62.5L172.0 62.6L170.0 62.7L168.0 62.7L166.0 62.6L164.0 62.6L162.0 62.6L160.0 62.5L158.0 63.7L157.7 64.0L156.0 65.2L154.9 66.0L154.0 66.5L152.0 68.0L152.0 68.0L150.5 70.0L150.0 70.4L148.0 71.1L146.0 72.0L145.9 72.0L144.0 73.0L142.8 74.0L142.0 74.7L140.8 76.0L140.0 76.6L138.0 77.3L136.0 78.0L136.0 78.0L136.0 78.0L134.0 77.6L132.0 76.2L131.6 76.0L130.0 74.4L129.9 74.0L129.7 72.0L129.5 70.0L129.5 68.0L129.4 66.0L129.2 64.0L128.8 62.0L128.0 60.0L128.0 59.9L126.9 58.0L126.0 57.1L125.1 56.0L124.0 54.1L124.0 54.0L123.6 52.0L123.2 50.0L123.0 48.0L122.8 46.0L122.4 44.0L122.0 43.0L121.5 42.0L120.0 40.0L120.0 40.0L118.3 38.0L118.0 37.7L116.0 36.3L115.7 36.0L114.7 34.0L114.4 32.0L114.0 30.0L114.0 28.0L114.0 26.0L114.0 24.0L114.0 22.0L114.0 20.0L114.0 18.0ZM84.0 69.9L86.0 69.3L86.8 70.0L88.0 71.0L89.3 72.0L90.0 72.5L90.8 74.0L91.3 76.0L91.4 78.0L91.5 80.0L91.6 82.0L91.7 84.0L92.0 84.9L92.4 86.0L94.0 87.5L94.4 88.0L96.0 89.5L96.4 90.0L97.5 92.0L98.0 92.7L99.3 94.0L100.0 94.9L100.4 96.0L100.8 98.0L101.4 100.0L102.0 101.1L102.7 102.0L104.0 103.0L105.9 104.0L106.0 104.0L108.0 105.0L110.0 105.8L112.0 106.0L112.1 106.0L114.0 106.2L116.0 106.3L118.0 106.2L120.0 106.2L122.0 106.3L124.0 106.3L126.0 106.5L128.0 106.9L130.0 107.3L132.0 107.4L134.0 107.5L136.0 107.8L137.3 108.0L138.0 108.1L140.0 108.5L142.0 109.8L142.3 110.0L144.0 111.7L144.3 112.0L146.0 113.5L146.4 114.0L147.3 116.0L147.5 118.0L147.8 120.0L147.7 122.0L147.7 124.0L147.5 126.0L147.1 128.0L146.7 130.0L146.3 132.0L146.0 133.2L145.7 134.0L144.5 136.0L144.0 136.5L142.6 138.0L142.0 138.7L141.1 140.0L140.1 142.0L140.0 142.2L139.3 144.0L139.1 146.0L139.2 148.0L139.4 150.0L139.6 152.0L139.8 154.0L139.9 156.0L140.0 158.0L140.0 160.0L140.0 162.0L139.9 164.0L139.8 166.0L139.6 168.0L139.3 170.0L139.1 172.0L138.8 174.0L138.6 176.0L138.6 178.0L138.5 180.0L138.5 182.0L138.0 182.0L136.0 182.0L135.1 182.0L135.1 180.0L135.3 178.0L135.4 176.0L135.8 174.0L136.0 173.5L136.3 172.0L136.7 170.0L137.0 168.0L137.3 166.0L137.5 164.0L137.5 162.0L137.6 160.0L137.5 158.0L137.5 156.0L137.3 154.0L137.0 152.0L136.7 150.0L136.5 148.0L136.2 146.0L136.1 144.0L136.3 142.0L136.7 140.0L137.4 138.0L138.0 136.7L138.5 136.0L140.0 134.0L140.0 134.0L140.9 132.0L141.9 130.0L142.0 129.7L142.7 128.0L143.9 126.0L144.0 125.7L144.4 124.0L144.5 122.0L144.7 120.0L144.2 118.0L144.0 117.0L143.6 116.0L142.0 114.5L141.6 114.0L140.0 112.4L138.9 112.0L138.0 111.7L136.0 110.8L134.0 110.1L133.6 110.0L132.0 109.9L130.0 109.9L128.0 109.6L126.0 109.4L124.0 109.3L122.0 109.3L120.0 109.4L118.0 109.4L116.0 109.5L114.0 109.4L112.0 109.4L110.0 109.3L108.0 109.2L106.0 109.1L104.0 109.6L103.4 110.0L102.7 112.0L102.2 114.0L102.0 114.4L101.4 116.0L100.5 118.0L100.0 119.5L99.7 120.0L98.0 121.2L97.2 122.0L96.0 123.9L96.0 124.0L94.5 126.0L94.0 126.4L92.0 128.0L92.0 128.0L90.0 129.3L89.6 130.0L89.3 132.0L89.1 134.0L88.8 136.0L88.5 138.0L88.2 140.0L88.0 140.8L87.7 142.0L87.1 144.0L86.7 146.0L86.5 148.0L86.3 150.0L86.5 152.0L86.9 154.0L87.2 156.0L87.6 158.0L88.0 160.0L88.0 160.0L88.5 162.0L89.1 164.0L89.6 166.0L89.8 168.0L90.0 170.0L90.0 170.0L90.0 172.0L90.0 174.0L90.0 176.0L90.0 178.0L90.0 180.0L90.0 182.0L90.0 182.0L88.0 182.0L86.0 182.0L84.0 182.0L82.0 182.0L80.0 182.0L80.0 182.0L80.0 180.0L80.0 178.0L80.0 176.0L80.0 174.0L80.0 172.0L80.0 170.0L80.0 168.0L80.0 166.0L80.0 164.0L80.0 162.0L80.0 160.0L80.0 160.0L80.3 158.0L80.5 156.0L81.1 154.0L81.7 152.0L82.0 151.0L82.2 150.0L82.9 148.0L83.4 146.0L84.0 144.7L84.3 144.0L85.3 142.0L86.0 140.5L86.2 140.0L86.7 138.0L87.2 136.0L87.5 134.0L87.8 132.0L88.0 130.1L88.0 130.0L88.9 128.0L90.0 126.2L90.3 126.0L91.5 124.0L91.4 122.0L91.2 120.0L90.8 118.0L90.3 116.0L90.0 115.0L89.9 114.0L89.8 112.0L89.7 110.0L89.4 108.0L89.0 106.0L88.6 104.0L88.5 102.0L88.3 100.0L88.3 98.0L88.2 96.0L88.2 94.0L88.2 92.0L88.2 90.0L88.2 88.0L88.2 86.0L88.0 85.3L87.5 84.0L86.0 82.7L85.4 82.0L84.0 80.6L83.6 80.0L83.0 78.0L82.4 76.0L82.4 74.0L83.0 72.0L83.9 70.0ZM10.0 113.0L12.0 113.3L14.0 113.6L14.8 114.0L16.0 114.9L16.8 116.0L18.0 117.9L18.1 118.0L20.0 120.0L20.0 120.0L22.0 121.9L22.1 122.0L24.0 123.1L25.2 124.0L26.0 124.8L26.9 126.0L28.0 127.9L28.1 128.0L30.0 130.0L30.0 130.0L32.0 131.7L32.4 132.0L34.0 132.8L35.7 134.0L36.0 134.2L37.5 136.0L38.0 136.6L39.3 138.0L40.0 138.8L40.9 140.0L42.0 140.9L43.4 142.0L44.0 142.4L45.9 144.0L46.0 144.2L46.5 146.0L46.0 147.2L45.5 148.0L44.0 149.7L43.7 150.0L42.7 152.0L42.0 153.1L41.4 154.0L40.5 156.0L40.3 158.0L40.0 160.0L40.0 162.0L40.0 164.0L40.0 166.0L40.0 166.0L40.0 168.0L40.0 170.0L40.0 172.0L40.0 174.0L40.0 176.0L40.0 178.0L40.0 180.0L40.0 182.0L38.0 182.0L36.0 182.0L34.0 182.0L32.0 182.0L30.0 182.0L28.0 182.0L26.0 182.0L24.0 182.0L22.0 182.0L20.0 182.0L18.0 182.0L16.0 182.0L14.0 182.0L12.0 182.0L10.0 182.0L8.0 182.0L8.0 180.0L8.0 178.0L8.0 176.0L8.0 174.0L8.0 172.0L8.0 170.0L8.0 168.0L8.0 166.0L8.0 164.0L8.0 162.0L8.0 160.0L8.0 160.0L10.0 160.0L12.0 159.8L14.0 159.6L16.0 158.8L17.0 158.0L18.0 157.0L18.8 156.0L19.6 154.0L19.8 152.0L20.0 150.0L19.8 148.0L19.5 146.0L18.8 144.0L18.0 143.0L17.0 142.0L16.0 141.2L14.0 140.4L12.0 140.2L10.0 140.0L8.0 140.0L8.0 140.0L8.0 138.0L8.0 136.0L8.0 134.0L8.0 132.0L8.0 130.0L8.0 128.0L8.0 126.0L8.0 124.0L8.0 122.0L8.0 120.0L8.0 118.0L8.0 116.0L8.0 114.0L8.0 113.0ZM31.9 144.0L31.5 146.0L32.0 147.0L32.5 148.0L33.6 150.0L34.0 150.2L34.6 150.0L36.0 149.1L36.7 148.0L38.0 146.6L38.8 146.0L38.0 144.4L37.8 144.0L36.0 143.0L34.0 142.5L32.0 143.9Z"/>
<path fill="#ff4c00" stroke="#ff4c00" stroke-width="0.6" d="M170.0 18.0L172.0 18.0L174.0 18.0L176.0 18.0L178.0 18.0L180.0 18.0L182.0 18.0L184.0 18.0L186.0 18.0L188.0 18.0L190.0 18.0L192.0 18.0L192.0 20.0L192.0 22.0L192.0 24.0L192.0 26.0L192.0 28.0L192.0 30.0L192.0 32.0L192.0 34.0L192.0 36.0L192.0 38.0L192.0 40.0L192.0 42.0L192.0 44.0L192.0 46.0L192.0 48.0L192.0 50.0L192.0 52.0L192.0 54.0L192.0 56.0L190.0 56.0L188.4 56.0L188.0 56.0L186.0 56.0L184.0 56.1L182.0 56.2L180.0 56.4L178.0 56.6L176.0 56.7L174.0 56.9L172.0 56.9L170.0 57.0L168.0 56.8L166.0 56.7L164.0 56.3L163.2 56.0L162.0 55.3L160.0 54.2L159.6 54.0L158.0 53.4L156.0 52.8L154.0 52.6L152.0 52.5L150.0 52.5L148.0 52.3L146.0 52.2L145.4 52.0L144.0 51.6L142.0 50.2L141.8 50.0L140.0 48.2L139.8 48.0L138.4 46.0L138.0 44.6L137.8 44.0L137.7 42.0L137.5 40.0L137.5 38.0L137.5 36.0L137.5 34.0L137.6 32.0L137.6 30.0L138.0 28.4L138.1 28.0L138.7 26.0L140.0 24.2L142.0 25.7L142.5 26.0L144.0 26.8L146.0 27.6L147.0 28.0L148.0 28.4L150.0 29.4L152.0 29.6L154.0 29.9L156.0 30.0L158.0 30.0L160.0 30.0L162.0 29.8L164.0 29.6L166.0 28.8L167.0 28.0L168.0 27.0L168.8 26.0L169.6 24.0L169.8 22.0L170.0 20.0L170.0 18.0ZM104.0 109.6L106.0 109.1L108.0 109.2L110.0 109.3L112.0 109.4L114.0 109.4L116.0 109.5L118.0 109.4L120.0 109.4L122.0 109.3L124.0 109.3L126.0 109.4L128.0 109.6L130.0 109.9L132.0 109.9L133.6 110.0L134.0 110.1L136.0 110.8L138.0 111.7L138.9 112.0L140.0 112.4L141.6 114.0L142.0 114.5L143.6 116.0L144.0 117.0L144.2 118.0L144.7 120.0L144.5 122.0L144.4 124.0L144.0 125.7L143.9 126.0L142.7 128.0L142.0 129.7L141.9 130.0L140.9 132.0L140.0 134.0L140.0 134.0L138.5 136.0L138.0 136.7L137.4 138.0L136.7 140.0L136.3 142.0L136.1 144.0L136.2 146.0L136.5 148.0L136.7 150.0L137.0 152.0L137.3 154.0L137.5 156.0L137.5 158.0L137.6 160.0L137.5 162.0L137.5 164.0L137.3 166.0L137.0 168.0L136.7 170.0L136.3 172.0L136.0 173.5L135.8 174.0L135.4 176.0L135.3 178.0L135.1 180.0L135.1 182.0L134.0 182.0L132.0 182.0L130.0 182.0L128.0 182.0L126.0 182.0L124.0 182.0L122.0 182.0L120.0 182.0L118.0 182.0L116.0 182.0L114.0 182.0L112.0 182.0L110.0 182.0L108.0 182.0L106.0 182.0L104.0 182.0L102.0 182.0L100.0 182.0L98.0 182.0L96.0 182.0L94.0 182.0L92.0 182.0L90.0 182.0L90.0 180.0L90.0 178.0L90.0 176.0L90.0 174.0L90.0 172.0L90.0 170.0L90.0 170.0L89.8 168.0L89.6 166.0L89.1 164.0L88.5 162.0L88.0 160.0L88.0 160.0L87.6 158.0L87.2 156.0L86.9 154.0L86.5 152.0L86.3 150.0L86.5 148.0L86.7 146.0L87.1 144.0L87.7 142.0L88.0 140.8L88.2 140.0L88.5 138.0L88.8 136.0L89.1 134.0L89.3 132.0L89.6 130.0L90.0 129.3L92.0 128.0L92.0 128.0L94.0 126.4L94.5 126.0L96.0 124.0L96.0 123.9L97.2 122.0L98.0 121.2L99.7 120.0L100.0 119.5L100.5 118.0L101.4 116.0L102.0 114.4L102.2 114.0L102.7 112.0L103.4 110.0ZM122.0 116.0L120.0 116.9L118.0 117.2L116.0 117.4L114.0 117.5L112.0 117.5L110.0 117.5L108.6 118.0L108.0 118.2L106.0 119.0L105.0 120.0L104.0 121.4L103.6 122.0L102.0 123.8L101.8 124.0L100.0 125.4L99.6 126.0L98.0 127.9L97.8 128.0L96.0 129.0L94.2 130.0L94.0 130.3L93.3 132.0L92.4 134.0L92.0 135.3L91.8 136.0L91.3 138.0L90.8 140.0L90.1 142.0L90.0 142.2L89.8 144.0L89.7 146.0L89.8 148.0L89.8 150.0L90.0 150.5L91.2 152.0L92.0 153.3L92.3 154.0L93.0 156.0L93.6 158.0L94.0 159.5L94.2 160.0L96.0 161.5L98.0 161.8L98.9 162.0L100.0 162.2L100.8 162.0L102.0 161.7L104.0 161.0L106.0 160.5L108.0 160.3L110.0 160.0L112.0 160.2L114.0 160.4L116.0 161.2L117.1 162.0L118.0 162.7L119.2 164.0L120.0 165.0L120.8 166.0L122.0 167.3L122.9 168.0L124.0 168.8L126.0 169.5L128.0 169.7L130.0 169.9L132.0 168.0L132.0 168.0L134.0 166.0L134.0 166.0L134.4 164.0L134.5 162.0L134.6 160.0L134.5 158.0L134.4 156.0L134.1 154.0L134.0 153.5L133.1 152.0L132.1 150.0L132.0 149.8L131.3 148.0L130.6 146.0L130.2 144.0L130.1 142.0L130.0 140.2L130.0 140.0L130.0 139.8L130.2 138.0L130.4 136.0L130.9 134.0L131.6 132.0L132.0 130.6L132.2 130.0L132.3 128.0L132.4 126.0L132.4 124.0L132.2 122.0L132.0 120.8L131.9 120.0L130.3 118.0L130.0 117.7L128.0 116.3L127.6 116.0L126.0 115.1L124.0 115.0L122.0 116.0ZM32.0 143.9L34.0 142.5L36.0 143.0L37.8 144.0L38.0 144.4L38.8 146.0L38.0 146.6L36.7 148.0L36.0 149.1L34.6 150.0L34.0 150.2L33.6 150.0L32.5 148.0L32.0 147.0L31.5 146.0L31.9 144.0Z"/>
<path fill="#ff0000" stroke="#ff0000" stroke-width="0.6" d="M122.0 116.0L124.0 115.0L126.0 115.1L127.6 116.0L128.0 116.3L130.0 117.7L130.3 118.0L131.9 120.0L132.0 120.8L132.2 122.0L132.4 124.0L132.4 126.0L132.3 128.0L132.2 130.0L132.0 130.6L131.6 132.0L130.9 134.0L130.4 136.0L130.2 138.0L130.0 139.8L130.0 140.0L130.0 140.2L130.1 142.0L130.2 144.0L130.6 146.0L131.3 148.0L132.0 149.8L132.1 150.0L133.1 152.0L134.0 153.5L134.1 154.0L134.4 156.0L134.5 158.0L134.6 160.0L134.5 162.0L134.4 164.0L134.0 166.0L134.0 166.0L132.0 168.0L132.0 168.0L130.0 169.9L128.0 169.7L126.0 169.5L124.0 168.8L122.9 168.0L122.0 167.3L120.8 166.0L120.0 165.0L119.2 164.0L118.0 162.7L117.1 162.0L116.0 161.2L114.0 160.4L112.0 160.2L110.0 160.0L108.0 160.3L106.0 160.5L104.0 161.0L102.0 161.7L100.8 162.0L100.0 162.2L98.9 162.0L98.0 161.8L96.0 161.5L94.2 160.0L94.0 159.5L93.6 158.0L93.0 156.0L92.3 154.0L92.0 153.3L91.2 152.0L90.0 150.5L89.8 150.0L89.8 148.0L89.7 146.0L89.8 144.0L90.0 142.2L90.1 142.0L90.8 140.0L91.3 138.0L91.8 136.0L92.0 135.3L92.4 134.0L93.3 132.0L94.0 130.3L94.2 130.0L96.0 129.0L97.8 128.0L98.0 127.9L99.6 126.0L100.0 125.4L101.8 124.0L102.0 123.8L103.6 122.0L104.0 121.4L105.0 120.0L106.0 119.0L108.0 118.2L108.6 118.0L110.0 117.5L112.0 117.5L114.0 117.5L116.0 117.4L118.0 117.2L120.0 116.9L122.0 116.0Z"/>
<path d="M56.3 62.0 L62.4 65.5 L69.2 67.2 L74.4 67.2 L78.7 65.5 L84.7 65.5 L91.6 64.6 L98.5 63.8 L103.6 62.0 L107.1 59.5 L106.2 54.6 M79.6 50.0 L80.4 58.6 L84.7 60.3 L88.2 63.8 M56.3 62.0 L57.2 72.4 L58.9 80.1 M46.9 80.1 L58.9 80.1 L65.8 81.0 L76.1 80.1 L78.7 79.2 M77.8 65.5 L78.7 79.2 L78.7 93.0 L79.6 106.8 L80.4 112.0 M58.9 80.1 L62.4 84.4 L65.8 89.6 L67.5 96.4 L69.2 101.6 L71.8 105.0 L74.4 106.8 L79.6 106.8 M78.7 79.2 L84.7 80.1 L89.9 87.8 L93.3 90.4 L98.5 91.3 L101.9 91.3 M98.5 63.8 L99.3 75.8 L100.2 84.4 L99.3 91.3 L101.9 96.4 M50.6 96.5 L57.2 98.0 L62.0 99.0 L67.5 96.4 M115.5 50.5 L118.0 55.0 L121.4 60.2 L125.4 59.4 L129.3 61.0 L133.3 60.2 L135.7 62.6 L138.1 61.0 L141.3 58.6 L146.1 57.8 L152.5 57.0 L158.9 56.2 L166.5 55.5 M121.4 60.2 L123.0 65.8 L125.4 70.6 L127.7 75.4 L128.5 81.7 L128.5 86.5 L129.3 91.3 M129.3 88.1 L134.9 90.5 L139.7 89.7 L142.9 87.3 L144.5 81.7 L144.5 75.4 L147.7 72.2 L150.9 69.8 L155.7 69.0 L162.1 69.0 L168.5 70.6 L174.0 73.0 M142.9 87.3 L144.5 91.2 L146.0 98.9 L147.5 105.1 L153.7 108.2 L158.4 111.3 L163.0 109.7 L169.2 103.5 L173.6 98.9 M158.4 111.3 L159.9 115.9 L156.8 120.5 L155.3 126.0 L154.0 134.5 M106.2 54.6 L104.6 64.2 L107.8 69.0 L112.6 75.4 L114.2 81.7 L112.6 86.5 L109.4 89.7 L106.2 92.9 L104.6 97.7 M114.2 81.7 L122.2 83.3 L128.5 83.3 M106.2 92.9 L112.6 92.9 L119.0 94.5 L123.8 92.9 L129.3 91.3 M106.2 97.7 L112.6 99.3 L123.8 99.3 L128.5 102.5 L127.5 108.2 M95.0 106.6 L101.2 108.2 L104.3 111.3 L105.8 117.5 L104.3 122.1 L103.5 128.6 M107.4 102.0 L110.5 102.8 L113.5 103.5 L118.2 105.1 L125.9 106.6 L130.5 109.7 L136.7 108.2 L142.9 107.4 L147.5 105.1 M127.5 108.2 L129.0 112.8 L132.1 117.5 L133.6 122.1 L135.2 126.7 L136.7 128.5 M105.8 85.0 L106.6 92.7 M101.4 92.9 L105.0 100.0 L107.4 102.0 M46.3 111.6 L49.1 115.3 L51.8 124.5 L52.8 131.8 L50.9 139.2 M51.8 126.3 L59.2 124.5 L64.7 122.6 L70.2 119.0 L75.8 115.3 L77.6 111.6 L79.6 106.8 M75.8 110.7 L83.1 111.6 L88.7 110.7 L94.2 107.9 L95.0 106.6 M90.5 95.0 L89.6 104.2 L90.5 111.6 L89.5 116.0 M70.2 119.0 L73.9 126.3 L75.8 133.7 L73.9 141.0 L75.8 146.6 L77.6 153.9 L81.3 159.5 L85.0 166.0 M73.9 126.3 L81.3 124.5 L86.8 120.8 L90.5 118.0 L96.0 117.1 L103.4 116.2 M50.9 139.2 L55.0 140.0 L61.0 142.9 L66.6 148.4 L73.9 146.6 M26.0 128.1 L27.9 137.4 L31.6 141.0 L38.9 142.9 L46.3 141.0 L50.9 139.2 M31.6 141.0 L29.7 148.4 L30.3 151.0 M88.7 137.4 L96.0 137.4 L101.6 135.5 L103.5 134.0 M88.7 137.4 L86.8 130.0 L86.8 120.8 M88.7 137.4 L90.0 146.0 L93.0 152.0 L97.0 157.0 L99.5 160.0" fill="none" stroke="#2e2a10" stroke-opacity="0.85" stroke-width="0.75" stroke-linejoin="round"/>
</g>
<polygon points="29.1,67.7 31.7,68.6 33.4,72.0 36.8,72.9 41.1,74.6 45.4,76.3 46.6,76.5 47.1,82.4 48.0,89.2 47.5,93.9 50.6,96.5 53.2,103.0 54.9,104.7 51.4,108.2 48.0,111.6 44.6,114.5 42.8,115.2 41.1,119.3 39.4,122.0 36.8,124.6 33.4,127.2 30.8,130.6 28.2,128.4 25.6,131.5 22.2,134.1 18.8,135.8 16.5,138.0 15.8,142.7 14.5,142.7 13.6,140.1 12.3,136.7 12.3,133.2 14.5,129.8 17.9,127.2 17.0,123.8 14.5,118.6 13.2,115.2 13.6,111.7 15.3,109.9 17.9,105.6 17.0,101.3 18.8,97.8 21.3,93.5 22.2,89.2 23.9,84.1 26.5,79.8 27.4,77.2 26.5,73.8 27.4,70.3" fill="#9fdaf5" stroke="#6499ee" stroke-width="0.8"/>
<polygon points="29.6,96.9 32.6,97.8 33.5,102.7 32.1,106.7 32.6,112.6 32.5,115.2 33.4,119.5 30.8,122.0 26.5,122.0 24.8,118.6 25.6,115.2 26.2,114.0 27.6,111.6 29.1,105.7 29.6,100.8" fill="#ffffff"/>
<path d="M40.0 82.8 L47.0 82.5 M38.4 102.6 L53.0 103.0 M39.0 113.0 L47.0 112.0" fill="none" stroke="#6a8fb0" stroke-width="0.5"/>
<polygon points="136.5,24.6 138.0,24.3 142.3,23.7 144.7,24.3 145.3,27.4 147.8,32.3 150.0,34.8 152.0,40.0 152.9,44.3 155.5,47.7 158.9,50.3 163.2,52.0 166.6,52.9 167.5,56.3 167.5,60.6 169.2,64.1 171.8,68.4 174.4,72.6 175.2,76.9 174.4,82.1 175.2,86.4 174.4,89.8 172.6,93.3 172.6,96.7 174.4,100.1 177.8,103.6 180.3,107.5 178.5,110.1 176.8,114.4 175.9,119.6 175.9,124.7 174.2,127.3 171.6,129.9 168.2,131.6 163.9,132.5 161.3,133.3 156.1,134.2 152.7,135.0 149.2,133.3 146.7,130.7 144.9,129.0 140.6,127.3 137.2,128.2 133.8,129.9 129.5,130.7 125.2,131.6 123.6,133.8 119.3,135.5 115.0,134.6 111.6,132.9 109.9,129.5 105.6,128.6 103.0,128.6 103.0,132.0 103.9,136.3 103.9,140.6 102.1,145.8 101.3,150.1 101.3,154.4 100.4,158.7 97.8,162.1 94.4,163.9 91.0,163.9 87.5,165.6 84.1,168.2 80.6,166.4 77.2,165.6 73.8,166.4 68.6,168.2 65.2,166.4 60.0,167.0 54.9,168.5 53.2,165.0 52.3,159.9 51.4,155.6 48.0,153.0 42.8,151.3 39.4,150.4 34.2,149.6 30.8,150.4 29.9,153.9 29.1,159.9 27.4,160.7 25.6,158.2 21.3,156.4 17.9,154.7 18.8,151.3 17.9,147.0 15.3,144.4 15.3,142.7 14.5,139.2 14.9,135.8 16.2,133.2 18.8,131.1 22.2,129.8 24.4,126.8 26.5,124.6 30.8,124.2 34.2,122.0 37.7,115.2 39.0,110.0 38.5,104.7 37.0,97.8 36.0,93.0 36.8,89.2 42.0,82.4 46.3,76.3 49.6,67.8 52.9,64.5 55.4,61.3 57.8,60.5 62.7,59.6 64.4,56.4 66.8,53.9 70.9,51.5 75.8,50.6 80.7,49.0 85.6,47.4 89.7,46.5 91.8,45.2 94.9,46.4 97.4,50.1 99.2,55.7 100.5,56.9 104.8,55.0 109.1,53.2 112.1,51.4 116.4,49.5 119.5,47.0 120.7,42.7 123.2,41.5 126.9,38.4 130.6,33.5 133.0,31.1 135.5,26.0" fill="none" stroke="#000" stroke-width="1.2" stroke-linejoin="round"/>
<rect x="5.5" y="6.5" width="183.4" height="180" fill="none" stroke="#333" stroke-width="1.3"/>
<text x="8.5" y="18.0" font-family="Liberation Serif, serif" font-size="10" fill="#1a1a1a" stroke="#1a1a1a" stroke-width="0.15">(a)</text>
<text x="92.3" y="17.5" font-family="Liberation Serif, serif" font-size="9.6" fill="#1a1a1a" stroke="#1a1a1a" stroke-width="0.2" text-anchor="middle">1983-1992</text>
<g>
<polygon points="174.5,18.1 175.9,22.0 174.5,23.4" fill="#222"/>
<polygon points="174.5,18.1 173.1,22.0 174.5,23.4" fill="#999"/>
<polygon points="179.8,23.4 175.9,24.8 174.5,23.4" fill="#222"/>
<polygon points="179.8,23.4 175.9,22.0 174.5,23.4" fill="#888"/>
<polygon points="174.5,28.7 173.1,24.8 174.5,23.4" fill="#222"/>
<polygon points="174.5,28.7 175.9,24.8 174.5,23.4" fill="#888"/>
<polygon points="169.2,23.4 173.1,22.0 174.5,23.4" fill="#222"/>
<polygon points="169.2,23.4 173.1,24.8 174.5,23.4" fill="#999"/>
<circle cx="174.5" cy="23.4" r="1.3" fill="#111"/>
</g>
<text x="174.5" y="17.1" font-family="Liberation Sans, sans-serif" font-size="2.6" fill="#556" text-anchor="middle">N</text>
<text x="174.5" y="32.0" font-family="Liberation Sans, sans-serif" font-size="2.6" fill="#556" text-anchor="middle">S</text>
<text x="167.2" y="24.4" font-family="Liberation Sans, sans-serif" font-size="2.6" fill="#556" text-anchor="middle">W</text>
<text x="181.3" y="24.4" font-family="Liberation Sans, sans-serif" font-size="2.6" fill="#556" text-anchor="middle">E</text>
<g transform="translate(0,0)">
<rect x="109.5" y="181.2" width="62.3" height="2.3" fill="#000"/>
<rect x="121.8" y="181.9" width="12.2" height="0.9" fill="#fff"/>
<rect x="146.4" y="181.9" width="12.3" height="0.9" fill="#fff"/>
<text x="109.6" y="179.2" font-family="Liberation Sans, sans-serif" font-size="4.2" fill="#333" text-anchor="middle">0</text>
<text x="121.6" y="179.2" font-family="Liberation Sans, sans-serif" font-size="4.2" fill="#333" text-anchor="middle">15</text>
<text x="134.0" y="179.2" font-family="Liberation Sans, sans-serif" font-size="4.2" fill="#333" text-anchor="middle">30</text>
<text x="146.4" y="179.2" font-family="Liberation Sans, sans-serif" font-size="4.2" fill="#333" text-anchor="middle">60</text>
<text x="158.7" y="179.2" font-family="Liberation Sans, sans-serif" font-size="4.2" fill="#333" text-anchor="middle">90</text>
<text x="171.4" y="179.2" font-family="Liberation Sans, sans-serif" font-size="4.2" fill="#333" text-anchor="middle">120</text>
<text x="175.4" y="183.8" font-family="Liberation Sans, sans-serif" font-size="4.2" fill="#333">Km</text>
</g>
<path d="M188.9 19.4 h1.8 M188.9 101 h1.8 M188.9 182.4 h1.8 M25.2 186.5 v1.6 M106.9 186.5 v1.6 M188.7 186.5 v1.6" stroke="#222" stroke-width="0.9"/>
<text x="0" y="0" font-family="Liberation Sans, sans-serif" font-size="4.6" fill="#444" text-anchor="middle" transform="translate(197.6,19.2) rotate(-90)">1° S</text>
<text x="0" y="0" font-family="Liberation Sans, sans-serif" font-size="4.6" fill="#444" text-anchor="middle" transform="translate(197.6,101.2) rotate(-90)">2° S</text>
<text x="0" y="0" font-family="Liberation Sans, sans-serif" font-size="4.6" fill="#444" text-anchor="middle" transform="translate(197.6,182.6) rotate(-90)">3° S</text>
<text x="25.2" y="195.8" font-family="Liberation Sans, sans-serif" font-size="4.6" fill="#444" text-anchor="middle">29° E</text>
<text x="106.9" y="195.8" font-family="Liberation Sans, sans-serif" font-size="4.6" fill="#444" text-anchor="middle">30° E</text>
<text x="188.7" y="195.8" font-family="Liberation Sans, sans-serif" font-size="4.6" fill="#444" text-anchor="middle">31° E</text>
</g>
<g transform="translate(252,1)">
<clipPath id="clipb"><polygon points="136.5,24.6 138.0,24.3 142.3,23.7 144.7,24.3 145.3,27.4 147.8,32.3 150.0,34.8 152.0,40.0 152.9,44.3 155.5,47.7 158.9,50.3 163.2,52.0 166.6,52.9 167.5,56.3 167.5,60.6 169.2,64.1 171.8,68.4 174.4,72.6 175.2,76.9 174.4,82.1 175.2,86.4 174.4,89.8 172.6,93.3 172.6,96.7 174.4,100.1 177.8,103.6 180.3,107.5 178.5,110.1 176.8,114.4 175.9,119.6 175.9,124.7 174.2,127.3 171.6,129.9 168.2,131.6 163.9,132.5 161.3,133.3 156.1,134.2 152.7,135.0 149.2,133.3 146.7,130.7 144.9,129.0 140.6,127.3 137.2,128.2 133.8,129.9 129.5,130.7 125.2,131.6 123.6,133.8 119.3,135.5 115.0,134.6 111.6,132.9 109.9,129.5 105.6,128.6 103.0,128.6 103.0,132.0 103.9,136.3 103.9,140.6 102.1,145.8 101.3,150.1 101.3,154.4 100.4,158.7 97.8,162.1 94.4,163.9 91.0,163.9 87.5,165.6 84.1,168.2 80.6,166.4 77.2,165.6 73.8,166.4 68.6,168.2 65.2,166.4 60.0,167.0 54.9,168.5 53.2,165.0 52.3,159.9 51.4,155.6 48.0,153.0 42.8,151.3 39.4,150.4 34.2,149.6 30.8,150.4 29.9,153.9 29.1,159.9 27.4,160.7 25.6,158.2 21.3,156.4 17.9,154.7 18.8,151.3 17.9,147.0 15.3,144.4 15.3,142.7 14.5,139.2 14.9,135.8 16.2,133.2 18.8,131.1 22.2,129.8 24.4,126.8 26.5,124.6 30.8,124.2 34.2,122.0 37.7,115.2 39.0,110.0 38.5,104.7 37.0,97.8 36.0,93.0 36.8,89.2 42.0,82.4 46.3,76.3 49.6,67.8 52.9,64.5 55.4,61.3 57.8,60.5 62.7,59.6 64.4,56.4 66.8,53.9 70.9,51.5 75.8,50.6 80.7,49.0 85.6,47.4 89.7,46.5 91.8,45.2 94.9,46.4 97.4,50.1 99.2,55.7 100.5,56.9 104.8,55.0 109.1,53.2 112.1,51.4 116.4,49.5 119.5,47.0 120.7,42.7 123.2,41.5 126.9,38.4 130.6,33.5 133.0,31.1 135.5,26.0"/></clipPath>
<g clip-path="url(#clipb)">
<path fill="#38a800" stroke="#38a800" stroke-width="0.6" d="M104.0 64.8L106.0 64.9L106.6 66.0L106.6 68.0L106.6 70.0L106.0 70.7L104.0 70.7L103.2 70.0L103.2 68.0L103.2 66.0ZM170.0 97.8L172.0 97.9L174.0 98.0L174.0 98.0L176.0 98.3L178.0 98.8L180.0 99.5L182.0 99.7L184.0 99.9L185.9 100.0L186.0 100.0L188.0 100.0L190.0 100.0L192.0 100.0L192.0 102.0L192.0 104.0L192.0 106.0L192.0 108.0L192.0 110.0L192.0 112.0L192.0 114.0L192.0 116.0L192.0 118.0L192.0 120.0L190.0 120.0L188.0 119.7L186.0 119.5L184.0 119.2L182.0 118.8L180.0 118.5L178.0 119.4L177.0 120.0L176.0 120.6L174.0 120.4L173.5 120.0L172.0 118.8L170.9 118.0L170.0 117.5L168.3 116.0L168.0 115.6L166.7 114.0L166.0 113.2L164.7 112.0L164.0 111.3L163.1 110.0L162.9 108.0L162.6 106.0L162.6 104.0L162.9 102.0L163.3 100.0L164.0 99.3L166.0 98.4L168.0 98.1L168.5 98.0Z"/>
<path fill="#6fc400" stroke="#6fc400" stroke-width="0.6" d="M10.0 30.0L12.0 30.2L14.0 30.4L16.0 31.2L17.1 32.0L18.0 32.7L19.2 34.0L20.0 35.0L20.8 36.0L22.0 37.4L22.6 38.0L24.0 39.2L25.0 40.0L26.0 40.8L27.4 42.0L28.0 42.6L29.2 44.0L30.0 45.0L30.8 46.0L32.0 47.4L32.6 48.0L34.0 49.2L35.0 50.0L36.0 50.8L37.4 52.0L38.0 52.6L39.2 54.0L40.0 55.0L40.8 56.0L42.0 57.4L42.6 58.0L44.0 59.2L45.0 60.0L46.0 60.8L47.4 62.0L48.0 62.6L49.2 64.0L50.0 65.0L50.8 66.0L52.0 67.4L52.6 68.0L54.0 69.2L55.0 70.0L56.0 70.8L57.4 72.0L58.0 72.6L59.2 74.0L60.0 75.0L60.6 76.0L62.0 77.8L62.1 78.0L64.0 79.8L64.2 80.0L66.0 81.7L66.2 82.0L68.0 84.0L68.0 84.0L69.1 86.0L69.5 88.0L69.9 90.0L69.9 92.0L69.9 94.0L69.9 96.0L69.9 98.0L69.9 100.0L69.7 102.0L69.6 104.0L69.3 106.0L68.9 108.0L68.6 110.0L69.5 112.0L70.0 112.8L70.3 114.0L70.6 116.0L70.9 118.0L71.2 120.0L71.7 122.0L72.0 123.2L72.3 124.0L73.1 126.0L74.0 127.4L74.4 128.0L75.5 130.0L74.9 132.0L74.3 134.0L74.0 134.4L72.0 135.4L70.9 136.0L70.0 136.3L68.0 136.3L66.0 136.4L64.0 136.3L62.0 136.1L60.5 136.0L60.0 135.9L58.0 134.6L57.0 134.0L56.0 132.5L55.9 132.0L55.3 130.0L55.1 128.0L54.9 126.0L54.6 124.0L54.2 122.0L54.0 120.9L53.9 120.0L53.6 118.0L53.3 116.0L53.1 114.0L53.1 112.0L53.2 110.0L52.0 108.1L51.9 108.0L50.6 106.0L50.0 105.1L49.3 104.0L48.0 102.7L47.2 102.0L46.0 101.1L44.0 100.4L42.0 100.2L40.4 100.0L40.0 100.0L38.0 99.4L36.0 98.9L34.1 98.0L34.0 98.0L32.0 97.0L30.0 96.4L29.2 96.0L28.0 95.3L26.0 94.3L25.7 94.0L24.4 92.0L24.0 91.5L23.0 90.0L22.0 88.5L21.5 88.0L20.0 87.0L18.0 86.2L17.1 86.0L16.0 85.6L14.0 85.3L12.0 85.2L10.0 85.1L8.0 85.1L8.0 84.0L8.0 82.0L8.0 80.0L8.0 78.0L8.0 76.0L8.0 74.0L8.0 72.0L8.0 70.0L8.0 68.0L8.0 66.0L8.0 64.0L8.0 62.0L8.0 60.0L8.0 58.0L8.0 56.0L8.0 54.0L8.0 52.0L8.0 50.0L8.0 48.0L8.0 46.0L8.0 44.0L8.0 42.0L8.0 40.0L8.0 38.0L8.0 36.0L8.0 34.0L8.0 32.0L8.0 30.0ZM104.0 57.4L106.0 57.2L108.0 57.3L110.0 57.4L111.7 58.0L112.0 58.1L114.0 58.8L115.1 60.0L115.2 62.0L115.4 64.0L115.4 66.0L115.4 68.0L115.4 70.0L115.5 72.0L115.6 74.0L115.6 76.0L115.6 78.0L115.7 80.0L114.0 81.4L112.0 81.6L110.0 81.8L108.0 81.0L106.0 80.4L105.2 80.0L104.0 78.8L103.4 78.0L102.0 76.5L101.5 76.0L100.0 74.8L99.7 74.0L99.2 72.0L98.7 70.0L98.7 68.0L98.7 66.0L98.8 64.0L99.2 62.0L99.7 60.0L100.0 59.1L102.0 58.2L102.4 58.0ZM103.2 66.0L103.2 68.0L103.2 70.0L104.0 70.7L106.0 70.7L106.6 70.0L106.6 68.0L106.6 66.0L106.0 64.9L104.0 64.8ZM170.0 90.0L172.0 90.0L174.0 90.0L176.0 90.0L178.0 90.0L180.0 90.0L182.0 90.0L184.0 90.0L186.0 90.0L188.0 90.0L190.0 90.0L192.0 90.0L192.0 90.0L192.0 92.0L192.0 94.0L192.0 96.0L192.0 98.0L192.0 100.0L192.0 100.0L190.0 100.0L188.0 100.0L186.0 100.0L185.9 100.0L184.0 99.9L182.0 99.7L180.0 99.5L178.0 98.8L176.0 98.3L174.0 98.0L174.0 98.0L172.0 97.9L170.0 97.8L168.5 98.0L168.0 98.1L166.0 98.4L164.0 99.3L163.3 100.0L162.9 102.0L162.6 104.0L162.6 106.0L162.9 108.0L163.1 110.0L164.0 111.3L164.7 112.0L166.0 113.2L166.7 114.0L168.0 115.6L168.3 116.0L170.0 117.5L170.9 118.0L172.0 118.8L173.5 120.0L174.0 120.4L176.0 120.6L177.0 120.0L178.0 119.4L180.0 118.5L182.0 118.8L184.0 119.2L186.0 119.5L188.0 119.7L190.0 120.0L192.0 120.0L192.0 120.0L192.0 122.0L192.0 124.0L192.0 126.0L192.0 128.0L192.0 130.0L192.0 132.0L192.0 134.0L192.0 136.0L192.0 138.0L192.0 140.0L192.0 142.0L192.0 144.0L192.0 146.0L192.0 148.0L192.0 150.0L192.0 152.0L192.0 154.0L192.0 156.0L192.0 158.0L192.0 160.0L192.0 162.0L192.0 164.0L192.0 166.0L192.0 167.0L190.0 167.0L188.0 166.7L186.0 166.3L185.4 166.0L184.0 164.6L183.7 164.0L183.3 162.0L183.0 160.0L182.9 158.0L182.8 156.0L182.4 154.0L182.0 153.0L181.5 152.0L180.0 150.0L180.0 150.0L178.0 148.1L177.9 148.0L176.0 146.8L174.9 146.0L174.0 144.9L173.5 144.0L173.0 142.0L172.4 140.0L172.0 139.4L170.7 138.0L170.0 137.5L168.0 136.6L166.1 136.0L166.0 136.0L164.0 135.3L162.0 134.8L160.0 134.2L159.8 134.0L158.5 132.0L158.0 131.5L156.1 130.0L156.0 129.9L155.1 128.0L154.0 126.4L153.7 126.0L152.9 124.0L152.5 122.0L152.1 120.0L152.1 118.0L152.1 116.0L152.0 114.7L152.0 114.0L151.8 112.0L151.6 110.0L150.5 108.0L150.0 107.4L149.6 106.0L149.1 104.0L148.9 102.0L148.8 100.0L149.4 98.0L150.0 96.0L150.0 96.0L152.0 95.1L154.0 94.1L154.4 94.0L156.0 93.6L158.0 93.2L160.0 92.7L161.9 92.0L162.0 92.0L164.0 91.1L166.0 90.5L168.0 90.2L170.0 90.0Z"/>
<path fill="#a8d800" stroke="#a8d800" stroke-width="0.6" d="M10.0 18.0L12.0 18.0L14.0 18.0L16.0 18.0L18.0 18.0L20.0 18.0L22.0 18.0L24.0 18.0L26.0 18.0L28.0 18.0L30.0 18.0L32.0 18.0L34.0 18.0L36.0 18.0L38.0 18.0L40.0 18.0L42.0 18.0L44.0 18.0L46.0 18.0L48.0 18.0L50.0 18.0L52.0 18.0L54.0 18.0L56.0 18.0L58.0 18.0L60.0 18.0L62.0 18.0L64.0 18.0L66.0 18.0L68.0 18.0L70.0 18.0L70.0 20.0L70.0 22.0L70.0 24.0L70.0 26.0L70.0 28.0L70.0 30.0L70.0 32.0L70.0 34.0L70.0 36.0L70.0 38.0L70.0 40.0L70.0 42.0L70.0 44.0L70.0 46.0L70.0 48.0L70.0 50.0L70.0 52.0L70.0 54.0L70.0 56.0L70.0 58.0L70.0 60.0L70.0 62.0L70.0 64.0L70.0 66.0L70.0 68.0L70.0 70.0L70.0 70.0L70.3 72.0L70.6 74.0L71.4 76.0L72.0 77.0L72.6 78.0L73.7 80.0L74.0 80.5L74.5 82.0L75.2 84.0L75.6 86.0L75.8 88.0L76.0 89.9L76.0 90.0L76.2 92.0L76.3 94.0L76.2 96.0L76.0 97.0L75.8 98.0L75.4 100.0L75.6 102.0L75.8 104.0L75.8 106.0L75.5 108.0L75.1 110.0L75.0 112.0L75.0 114.0L75.3 116.0L76.0 117.5L76.4 118.0L78.0 119.4L79.0 120.0L80.0 120.8L80.7 122.0L81.8 124.0L81.8 126.0L81.1 128.0L80.5 130.0L80.0 131.3L79.7 132.0L78.9 134.0L78.0 136.0L78.0 136.0L76.4 138.0L76.0 138.4L74.0 139.6L72.6 140.0L72.0 140.1L70.0 140.5L68.0 140.6L66.0 140.7L64.0 140.6L62.0 140.3L60.1 140.0L60.0 140.0L58.0 139.2L56.0 138.4L55.4 138.0L54.0 136.7L53.6 136.0L52.9 134.0L52.5 132.0L52.1 130.0L52.0 129.7L51.7 128.0L51.3 126.0L50.8 124.0L50.1 122.0L50.0 121.7L48.9 120.0L48.0 118.8L47.3 118.0L46.0 116.7L45.4 116.0L44.1 114.0L44.0 113.8L43.2 112.0L42.0 110.1L41.9 110.0L40.0 108.2L39.7 108.0L38.0 106.9L36.1 106.0L36.0 106.0L34.0 104.5L33.5 104.0L32.0 102.5L31.4 102.0L30.0 101.1L28.4 100.0L28.0 99.7L26.0 98.6L25.1 98.0L24.0 97.3L22.7 96.0L22.0 95.1L21.2 94.0L20.0 92.5L19.5 92.0L18.0 90.7L17.0 90.0L16.0 89.4L14.0 88.8L12.0 88.7L10.0 88.5L8.0 88.5L8.0 88.0L8.0 86.0L8.0 85.1L10.0 85.1L12.0 85.2L14.0 85.3L16.0 85.6L17.1 86.0L18.0 86.2L20.0 87.0L21.5 88.0L22.0 88.5L23.0 90.0L24.0 91.5L24.4 92.0L25.7 94.0L26.0 94.3L28.0 95.3L29.2 96.0L30.0 96.4L32.0 97.0L34.0 98.0L34.1 98.0L36.0 98.9L38.0 99.4L40.0 100.0L40.4 100.0L42.0 100.2L44.0 100.4L46.0 101.1L47.2 102.0L48.0 102.7L49.3 104.0L50.0 105.1L50.6 106.0L51.9 108.0L52.0 108.1L53.2 110.0L53.1 112.0L53.1 114.0L53.3 116.0L53.6 118.0L53.9 120.0L54.0 120.9L54.2 122.0L54.6 124.0L54.9 126.0L55.1 128.0L55.3 130.0L55.9 132.0L56.0 132.5L57.0 134.0L58.0 134.6L60.0 135.9L60.5 136.0L62.0 136.1L64.0 136.3L66.0 136.4L68.0 136.3L70.0 136.3L70.9 136.0L72.0 135.4L74.0 134.4L74.3 134.0L74.9 132.0L75.5 130.0L74.4 128.0L74.0 127.4L73.1 126.0L72.3 124.0L72.0 123.2L71.7 122.0L71.2 120.0L70.9 118.0L70.6 116.0L70.3 114.0L70.0 112.8L69.5 112.0L68.6 110.0L68.9 108.0L69.3 106.0L69.6 104.0L69.7 102.0L69.9 100.0L69.9 98.0L69.9 96.0L69.9 94.0L69.9 92.0L69.9 90.0L69.5 88.0L69.1 86.0L68.0 84.0L68.0 84.0L66.2 82.0L66.0 81.7L64.2 80.0L64.0 79.8L62.1 78.0L62.0 77.8L60.6 76.0L60.0 75.0L59.2 74.0L58.0 72.6L57.4 72.0L56.0 70.8L55.0 70.0L54.0 69.2L52.6 68.0L52.0 67.4L50.8 66.0L50.0 65.0L49.2 64.0L48.0 62.6L47.4 62.0L46.0 60.8L45.0 60.0L44.0 59.2L42.6 58.0L42.0 57.4L40.8 56.0L40.0 55.0L39.2 54.0L38.0 52.6L37.4 52.0L36.0 50.8L35.0 50.0L34.0 49.2L32.6 48.0L32.0 47.4L30.8 46.0L30.0 45.0L29.2 44.0L28.0 42.6L27.4 42.0L26.0 40.8L25.0 40.0L24.0 39.2L22.6 38.0L22.0 37.4L20.8 36.0L20.0 35.0L19.2 34.0L18.0 32.7L17.1 32.0L16.0 31.2L14.0 30.4L12.0 30.2L10.0 30.0L8.0 30.0L8.0 30.0L8.0 28.0L8.0 26.0L8.0 24.0L8.0 22.0L8.0 20.0L8.0 18.0ZM110.0 45.6L112.0 45.7L114.0 45.8L114.2 46.0L115.1 48.0L115.9 50.0L116.0 50.4L116.3 52.0L116.6 54.0L117.3 56.0L118.0 57.3L118.4 58.0L119.4 60.0L119.2 62.0L119.0 64.0L119.0 66.0L119.1 68.0L119.2 70.0L119.4 72.0L119.6 74.0L120.0 76.0L120.0 76.1L120.6 78.0L121.2 80.0L121.0 82.0L120.7 84.0L120.5 86.0L120.3 88.0L120.0 89.9L120.0 90.0L119.7 92.0L119.4 94.0L118.2 96.0L118.0 96.2L116.0 97.5L114.0 96.8L113.1 96.0L112.0 94.7L111.3 94.0L110.3 92.0L110.0 91.4L109.6 90.0L108.3 88.0L108.0 87.4L107.1 86.0L106.0 85.0L105.0 84.0L104.0 83.4L102.3 82.0L102.0 81.7L100.0 80.1L99.9 80.0L99.0 78.0L98.2 76.0L98.0 75.4L97.6 74.0L97.2 72.0L96.9 70.0L96.9 68.0L96.8 66.0L96.8 64.0L96.7 62.0L96.7 60.0L96.5 58.0L96.0 56.2L95.9 56.0L96.0 54.3L96.0 54.0L97.7 52.0L98.0 51.7L100.0 50.0L100.0 50.0L102.0 48.8L103.7 48.0L104.0 47.9L106.0 47.2L108.0 46.4L109.0 46.0ZM102.4 58.0L102.0 58.2L100.0 59.1L99.7 60.0L99.2 62.0L98.8 64.0L98.7 66.0L98.7 68.0L98.7 70.0L99.2 72.0L99.7 74.0L100.0 74.8L101.5 76.0L102.0 76.5L103.4 78.0L104.0 78.8L105.2 80.0L106.0 80.4L108.0 81.0L110.0 81.8L112.0 81.6L114.0 81.4L115.7 80.0L115.6 78.0L115.6 76.0L115.6 74.0L115.5 72.0L115.4 70.0L115.4 68.0L115.4 66.0L115.4 64.0L115.2 62.0L115.1 60.0L114.0 58.8L112.0 58.1L111.7 58.0L110.0 57.4L108.0 57.3L106.0 57.2L104.0 57.4ZM176.0 80.0L178.0 80.0L180.0 80.0L182.0 80.0L184.0 80.0L186.0 80.0L188.0 80.0L190.0 80.0L192.0 80.0L192.0 80.0L192.0 82.0L192.0 84.0L192.0 86.0L192.0 88.0L192.0 90.0L190.0 90.0L188.0 90.0L186.0 90.0L184.0 90.0L182.0 90.0L180.0 90.0L178.0 90.0L176.0 90.0L174.0 90.0L172.0 90.0L170.0 90.0L170.0 90.0L168.0 90.2L166.0 90.5L164.0 91.1L162.0 92.0L161.9 92.0L160.0 92.7L158.0 93.2L156.0 93.6L154.4 94.0L154.0 94.1L152.0 95.1L150.0 96.0L150.0 96.0L149.4 98.0L148.8 100.0L148.9 102.0L149.1 104.0L149.6 106.0L150.0 107.4L150.5 108.0L151.6 110.0L151.8 112.0L152.0 114.0L152.0 114.7L152.1 116.0L152.1 118.0L152.1 120.0L152.5 122.0L152.9 124.0L153.7 126.0L154.0 126.4L155.1 128.0L156.0 129.9L156.1 130.0L158.0 131.5L158.5 132.0L159.8 134.0L160.0 134.2L162.0 134.8L164.0 135.3L166.0 136.0L166.1 136.0L168.0 136.6L170.0 137.5L170.7 138.0L172.0 139.4L172.4 140.0L173.0 142.0L173.5 144.0L174.0 144.9L174.9 146.0L176.0 146.8L177.9 148.0L178.0 148.1L180.0 150.0L180.0 150.0L181.5 152.0L182.0 153.0L182.4 154.0L182.8 156.0L182.9 158.0L183.0 160.0L183.3 162.0L183.7 164.0L184.0 164.6L185.4 166.0L186.0 166.3L188.0 166.7L190.0 167.0L192.0 167.0L192.0 168.0L192.0 170.0L192.0 172.0L192.0 173.0L190.0 173.0L188.0 172.9L186.0 172.8L184.0 172.4L183.0 172.0L182.0 171.5L180.0 170.0L180.0 170.0L178.5 168.0L178.0 167.0L177.6 166.0L177.2 164.0L177.1 162.0L177.0 160.0L176.7 158.0L176.4 156.0L176.0 155.2L175.1 154.0L174.0 153.2L172.1 152.0L172.0 151.9L170.0 150.0L170.0 150.0L168.5 148.0L168.0 147.1L167.6 146.0L166.9 144.0L166.0 142.0L166.0 141.9L164.7 140.0L164.0 139.7L162.0 139.4L160.0 139.1L158.0 138.0L158.0 138.0L156.2 136.0L156.0 135.8L154.9 134.0L154.0 132.9L153.5 132.0L152.5 130.0L152.0 129.0L151.4 128.0L150.0 126.4L149.8 126.0L149.3 124.0L149.2 122.0L149.0 120.0L149.0 118.0L149.0 116.0L148.9 114.0L148.8 112.0L148.7 110.0L148.0 108.3L147.8 108.0L146.3 106.0L146.0 105.6L144.0 104.1L143.6 104.0L142.0 102.0L142.0 102.0L140.2 100.0L142.0 98.9L143.4 98.0L144.0 97.6L145.0 96.0L146.0 94.3L146.1 94.0L147.5 92.0L148.0 91.5L150.0 90.3L151.0 90.0L152.0 89.5L154.0 88.5L155.0 88.0L156.0 87.4L158.0 86.0L158.0 86.0L160.0 84.2L160.2 84.0L162.0 82.3L162.4 82.0L164.0 81.0L166.0 80.4L168.0 80.2L170.0 80.0L172.0 80.0L174.0 80.0L174.3 80.0Z"/>
<path fill="#e8f000" stroke="#e8f000" stroke-width="0.6" d="M70.0 18.0L72.0 18.0L74.0 18.0L76.0 18.0L78.0 18.0L80.0 18.0L82.0 18.0L84.0 18.0L86.0 18.0L88.0 18.0L90.0 18.0L92.0 18.0L94.0 18.0L96.0 18.0L98.0 18.0L100.0 18.0L102.0 18.0L104.0 18.0L106.0 18.0L107.0 18.0L107.0 20.0L107.0 22.0L107.0 24.0L107.0 26.0L107.0 28.0L107.0 30.0L107.2 32.0L107.3 34.0L108.0 36.0L108.0 36.0L110.0 38.0L110.0 38.0L112.0 39.3L113.7 40.0L114.0 40.1L116.0 41.1L117.0 42.0L118.0 43.1L118.7 44.0L119.5 46.0L119.8 48.0L120.0 50.0L120.0 50.0L120.3 52.0L120.6 54.0L121.1 56.0L121.7 58.0L122.0 59.0L122.2 60.0L122.2 62.0L122.1 64.0L122.4 66.0L123.2 68.0L124.0 69.2L124.6 70.0L125.0 72.0L125.4 74.0L125.7 76.0L126.0 77.8L126.0 78.0L126.4 80.0L127.3 82.0L128.0 83.2L128.6 84.0L130.0 85.9L130.1 86.0L132.0 87.6L132.7 88.0L134.0 88.7L136.0 88.7L137.3 88.0L138.0 87.6L139.9 86.0L140.0 85.9L142.0 84.1L142.1 84.0L144.0 82.5L144.7 82.0L146.0 81.0L147.2 80.0L148.0 79.5L149.8 78.0L150.0 77.8L151.7 76.0L152.0 75.7L153.5 74.0L154.0 73.6L156.0 72.2L156.5 72.0L158.0 71.4L160.0 70.3L162.0 70.2L164.0 70.1L166.0 70.0L167.3 70.0L168.0 70.0L170.0 70.0L172.0 69.8L174.0 69.6L176.0 69.1L177.8 68.0L178.0 67.9L180.0 66.3L180.3 66.0L182.0 64.9L183.4 64.0L184.0 63.8L186.0 63.3L188.0 63.2L190.0 63.0L192.0 63.0L192.0 64.0L192.0 66.0L192.0 68.0L192.0 70.0L192.0 72.0L192.0 74.0L192.0 76.0L192.0 78.0L192.0 80.0L190.0 80.0L188.0 80.0L186.0 80.0L184.0 80.0L182.0 80.0L180.0 80.0L178.0 80.0L176.0 80.0L174.3 80.0L174.0 80.0L172.0 80.0L170.0 80.0L168.0 80.2L166.0 80.4L164.0 81.0L162.4 82.0L162.0 82.3L160.2 84.0L160.0 84.2L158.0 86.0L158.0 86.0L156.0 87.4L155.0 88.0L154.0 88.5L152.0 89.5L151.0 90.0L150.0 90.3L148.0 91.5L147.5 92.0L146.1 94.0L146.0 94.3L145.0 96.0L144.0 97.6L143.4 98.0L142.0 98.9L140.2 100.0L142.0 102.0L142.0 102.0L143.6 104.0L144.0 104.1L146.0 105.6L146.3 106.0L147.8 108.0L148.0 108.3L148.7 110.0L148.8 112.0L148.9 114.0L149.0 116.0L149.0 118.0L149.0 120.0L149.2 122.0L149.3 124.0L149.8 126.0L150.0 126.4L151.4 128.0L152.0 129.0L152.5 130.0L153.5 132.0L154.0 132.9L154.9 134.0L156.0 135.8L156.2 136.0L158.0 138.0L158.0 138.0L160.0 139.1L162.0 139.4L164.0 139.7L164.7 140.0L166.0 141.9L166.0 142.0L166.9 144.0L167.6 146.0L168.0 147.1L168.5 148.0L170.0 150.0L170.0 150.0L172.0 151.9L172.1 152.0L174.0 153.2L175.1 154.0L176.0 155.2L176.4 156.0L176.7 158.0L177.0 160.0L177.1 162.0L177.2 164.0L177.6 166.0L178.0 167.0L178.5 168.0L180.0 170.0L180.0 170.0L182.0 171.5L183.0 172.0L184.0 172.4L186.0 172.8L188.0 172.9L190.0 173.0L192.0 173.0L192.0 174.0L192.0 176.0L192.0 178.0L192.0 180.0L192.0 182.0L190.0 182.0L188.0 182.0L186.0 182.0L184.0 182.0L182.0 182.0L180.0 182.0L178.0 182.0L176.0 182.0L174.0 182.0L172.0 182.0L170.0 182.0L168.0 182.0L166.0 182.0L164.0 182.0L162.0 182.0L160.0 182.0L158.0 182.0L156.0 182.0L154.0 182.0L152.0 182.0L150.0 182.0L148.0 182.0L146.0 182.0L144.0 182.0L144.0 180.0L144.1 178.0L144.1 176.0L144.2 174.0L144.4 172.0L144.5 170.0L144.6 168.0L144.8 166.0L144.8 164.0L144.8 162.0L144.9 160.0L144.8 158.0L144.8 156.0L144.8 154.0L144.6 152.0L144.5 150.0L144.7 148.0L144.9 146.0L145.8 144.0L146.0 143.7L148.0 142.3L148.3 142.0L150.0 140.0L150.0 140.0L150.9 138.0L151.3 136.0L151.0 134.0L150.3 132.0L150.0 131.0L149.8 130.0L148.8 128.0L148.1 126.0L148.0 125.5L147.7 124.0L147.6 122.0L147.5 120.0L147.5 118.0L147.5 116.0L147.4 114.0L147.2 112.0L146.9 110.0L146.0 108.5L145.3 108.0L144.0 107.2L142.0 106.8L140.0 106.5L138.0 106.4L136.0 106.4L134.0 106.2L132.0 106.0L131.7 106.0L130.0 105.7L128.0 105.3L126.0 104.9L124.0 104.7L122.0 104.7L120.0 104.7L118.0 104.6L116.0 104.5L114.0 104.0L113.9 104.0L112.0 102.8L110.7 102.0L110.0 101.6L108.1 100.0L108.0 99.9L106.4 98.0L106.0 97.5L105.1 96.0L104.3 94.0L104.0 93.0L103.7 92.0L103.1 90.0L102.3 88.0L102.0 87.3L101.5 86.0L100.0 84.2L99.9 84.0L98.3 82.0L98.0 81.4L97.3 80.0L96.6 78.0L96.0 76.3L95.9 76.0L95.3 74.0L95.0 72.0L94.7 70.0L94.6 68.0L94.5 66.0L94.3 64.0L94.0 62.8L93.7 62.0L92.7 60.0L92.0 58.7L91.6 58.0L90.4 56.0L90.0 54.5L89.7 54.0L89.6 52.0L89.6 50.0L89.5 48.0L89.3 46.0L88.4 44.0L88.0 43.5L86.2 42.0L86.0 41.9L84.0 41.9L83.8 42.0L82.0 43.5L81.6 44.0L80.6 46.0L80.3 48.0L80.0 50.0L80.0 50.3L79.9 52.0L79.7 54.0L79.3 56.0L78.7 58.0L78.2 60.0L78.0 61.1L77.8 62.0L77.5 64.0L77.3 66.0L77.1 68.0L77.0 70.0L77.2 72.0L77.4 74.0L77.6 76.0L78.0 77.9L78.0 78.0L78.3 80.0L78.6 82.0L78.8 84.0L79.1 86.0L79.4 88.0L79.7 90.0L80.0 91.7L80.1 92.0L80.8 94.0L80.3 96.0L80.0 96.4L79.3 98.0L78.6 100.0L79.1 102.0L79.6 104.0L80.0 105.8L80.1 106.0L80.3 108.0L80.4 110.0L80.7 112.0L81.0 114.0L81.7 116.0L82.0 116.4L83.5 118.0L84.0 118.5L85.2 120.0L85.6 122.0L86.0 123.8L86.0 124.0L86.0 124.3L85.8 126.0L85.1 128.0L84.5 130.0L84.0 131.3L83.6 132.0L82.7 134.0L82.0 135.7L81.9 136.0L81.1 138.0L80.1 140.0L80.0 140.2L78.0 142.0L78.0 142.0L76.0 143.0L74.0 143.4L72.0 143.6L70.0 143.8L68.0 143.8L66.0 143.9L64.0 143.8L62.0 143.7L60.0 143.5L58.0 143.2L56.0 142.8L54.4 142.0L54.0 141.8L52.4 140.0L52.0 139.3L51.3 138.0L50.6 136.0L50.2 134.0L50.0 133.1L49.6 132.0L48.9 130.0L48.1 128.0L48.0 127.8L47.2 126.0L46.0 124.0L46.0 124.0L44.3 122.0L44.0 121.6L42.7 120.0L42.0 118.9L41.4 118.0L40.3 116.0L40.0 115.5L39.1 114.0L38.0 112.7L37.4 112.0L36.0 110.8L35.0 110.0L34.0 109.3L32.4 108.0L32.0 107.7L30.4 106.0L30.0 105.6L28.4 104.0L28.0 103.7L26.0 102.2L25.6 102.0L24.0 101.0L22.6 100.0L22.0 99.5L20.4 98.0L20.0 97.5L18.8 96.0L18.0 95.0L17.2 94.0L16.0 92.9L14.0 92.0L13.8 92.0L12.0 91.8L10.0 91.5L8.0 91.5L8.0 90.0L8.0 88.5L10.0 88.5L12.0 88.7L14.0 88.8L16.0 89.4L17.0 90.0L18.0 90.7L19.5 92.0L20.0 92.5L21.2 94.0L22.0 95.1L22.7 96.0L24.0 97.3L25.1 98.0L26.0 98.6L28.0 99.7L28.4 100.0L30.0 101.1L31.4 102.0L32.0 102.5L33.5 104.0L34.0 104.5L36.0 106.0L36.1 106.0L38.0 106.9L39.7 108.0L40.0 108.2L41.9 110.0L42.0 110.1L43.2 112.0L44.0 113.8L44.1 114.0L45.4 116.0L46.0 116.7L47.3 118.0L48.0 118.8L48.9 120.0L50.0 121.7L50.1 122.0L50.8 124.0L51.3 126.0L51.7 128.0L52.0 129.7L52.1 130.0L52.5 132.0L52.9 134.0L53.6 136.0L54.0 136.7L55.4 138.0L56.0 138.4L58.0 139.2L60.0 140.0L60.1 140.0L62.0 140.3L64.0 140.6L66.0 140.7L68.0 140.6L70.0 140.5L72.0 140.1L72.6 140.0L74.0 139.6L76.0 138.4L76.4 138.0L78.0 136.0L78.0 136.0L78.9 134.0L79.7 132.0L80.0 131.3L80.5 130.0L81.1 128.0L81.8 126.0L81.8 124.0L80.7 122.0L80.0 120.8L79.0 120.0L78.0 119.4L76.4 118.0L76.0 117.5L75.3 116.0L75.0 114.0L75.0 112.0L75.1 110.0L75.5 108.0L75.8 106.0L75.8 104.0L75.6 102.0L75.4 100.0L75.8 98.0L76.0 97.0L76.2 96.0L76.3 94.0L76.2 92.0L76.0 90.0L76.0 89.9L75.8 88.0L75.6 86.0L75.2 84.0L74.5 82.0L74.0 80.5L73.7 80.0L72.6 78.0L72.0 77.0L71.4 76.0L70.6 74.0L70.3 72.0L70.0 70.0L70.0 70.0L70.0 68.0L70.0 66.0L70.0 64.0L70.0 62.0L70.0 60.0L70.0 58.0L70.0 56.0L70.0 54.0L70.0 52.0L70.0 50.0L70.0 48.0L70.0 46.0L70.0 44.0L70.0 42.0L70.0 40.0L70.0 38.0L70.0 36.0L70.0 34.0L70.0 32.0L70.0 30.0L70.0 28.0L70.0 26.0L70.0 24.0L70.0 22.0L70.0 20.0L70.0 18.0ZM109.0 46.0L108.0 46.4L106.0 47.2L104.0 47.9L103.7 48.0L102.0 48.8L100.0 50.0L100.0 50.0L98.0 51.7L97.7 52.0L96.0 54.0L96.0 54.3L95.9 56.0L96.0 56.2L96.5 58.0L96.7 60.0L96.7 62.0L96.8 64.0L96.8 66.0L96.9 68.0L96.9 70.0L97.2 72.0L97.6 74.0L98.0 75.4L98.2 76.0L99.0 78.0L99.9 80.0L100.0 80.1L102.0 81.7L102.3 82.0L104.0 83.4L105.0 84.0L106.0 85.0L107.1 86.0L108.0 87.4L108.3 88.0L109.6 90.0L110.0 91.4L110.3 92.0L111.3 94.0L112.0 94.7L113.1 96.0L114.0 96.8L116.0 97.5L118.0 96.2L118.2 96.0L119.4 94.0L119.7 92.0L120.0 90.0L120.0 89.9L120.3 88.0L120.5 86.0L120.7 84.0L121.0 82.0L121.2 80.0L120.6 78.0L120.0 76.1L120.0 76.0L119.6 74.0L119.4 72.0L119.2 70.0L119.1 68.0L119.0 66.0L119.0 64.0L119.2 62.0L119.4 60.0L118.4 58.0L118.0 57.3L117.3 56.0L116.6 54.0L116.3 52.0L116.0 50.4L115.9 50.0L115.1 48.0L114.2 46.0L114.0 45.8L112.0 45.7L110.0 45.6Z"/>
<path fill="#ffd800" stroke="#ffd800" stroke-width="0.6" d="M108.0 18.0L110.0 18.0L112.0 18.0L113.0 18.0L113.0 20.0L113.0 22.0L113.0 24.0L113.0 26.0L113.0 28.0L113.0 30.0L113.5 32.0L114.0 34.0L114.0 34.1L116.0 35.8L116.3 36.0L118.0 36.7L120.0 38.0L120.0 38.0L122.0 40.0L122.0 40.0L123.0 42.0L123.6 44.0L123.9 46.0L123.9 48.0L124.0 49.4L124.0 50.0L124.2 52.0L124.4 54.0L124.7 56.0L125.1 58.0L125.4 60.0L125.6 62.0L125.8 64.0L126.0 64.5L127.0 66.0L128.0 67.4L128.3 68.0L129.1 70.0L129.3 72.0L129.6 74.0L130.0 75.5L130.4 76.0L132.0 77.4L132.5 78.0L134.0 79.7L136.0 79.9L138.0 78.3L138.6 78.0L140.0 77.4L142.0 76.5L143.4 76.0L144.0 75.7L146.0 74.1L146.1 74.0L147.9 72.0L148.0 71.9L150.0 70.6L150.7 70.0L152.0 68.1L152.1 68.0L154.0 66.5L154.8 66.0L156.0 65.1L157.2 64.0L158.0 62.9L158.8 62.0L160.0 60.9L162.0 60.5L164.0 60.2L166.0 60.0L167.4 60.0L168.0 60.0L170.0 60.0L172.0 59.8L174.0 59.6L176.0 59.1L178.0 58.5L179.9 58.0L180.0 58.0L182.0 57.6L184.0 57.3L186.0 57.1L188.0 57.0L190.0 57.0L192.0 57.0L192.0 58.0L192.0 60.0L192.0 62.0L192.0 63.0L190.0 63.0L188.0 63.2L186.0 63.3L184.0 63.8L183.4 64.0L182.0 64.9L180.3 66.0L180.0 66.3L178.0 67.9L177.8 68.0L176.0 69.1L174.0 69.6L172.0 69.8L170.0 70.0L168.0 70.0L167.3 70.0L166.0 70.0L164.0 70.1L162.0 70.2L160.0 70.3L158.0 71.4L156.5 72.0L156.0 72.2L154.0 73.6L153.5 74.0L152.0 75.7L151.7 76.0L150.0 77.8L149.8 78.0L148.0 79.5L147.2 80.0L146.0 81.0L144.7 82.0L144.0 82.5L142.1 84.0L142.0 84.1L140.0 85.9L139.9 86.0L138.0 87.6L137.3 88.0L136.0 88.7L134.0 88.7L132.7 88.0L132.0 87.6L130.1 86.0L130.0 85.9L128.6 84.0L128.0 83.2L127.3 82.0L126.4 80.0L126.0 78.0L126.0 77.8L125.7 76.0L125.4 74.0L125.0 72.0L124.6 70.0L124.0 69.2L123.2 68.0L122.4 66.0L122.1 64.0L122.2 62.0L122.2 60.0L122.0 59.0L121.7 58.0L121.1 56.0L120.6 54.0L120.3 52.0L120.0 50.0L120.0 50.0L119.8 48.0L119.5 46.0L118.7 44.0L118.0 43.1L117.0 42.0L116.0 41.1L114.0 40.1L113.7 40.0L112.0 39.3L110.0 38.0L110.0 38.0L108.0 36.0L108.0 36.0L107.3 34.0L107.2 32.0L107.0 30.0L107.0 28.0L107.0 26.0L107.0 24.0L107.0 22.0L107.0 20.0L107.0 18.0ZM84.0 41.9L86.0 41.9L86.2 42.0L88.0 43.5L88.4 44.0L89.3 46.0L89.5 48.0L89.6 50.0L89.6 52.0L89.7 54.0L90.0 54.5L90.4 56.0L91.6 58.0L92.0 58.7L92.7 60.0L93.7 62.0L94.0 62.8L94.3 64.0L94.5 66.0L94.6 68.0L94.7 70.0L95.0 72.0L95.3 74.0L95.9 76.0L96.0 76.3L96.6 78.0L97.3 80.0L98.0 81.4L98.3 82.0L99.9 84.0L100.0 84.2L101.5 86.0L102.0 87.3L102.3 88.0L103.1 90.0L103.7 92.0L104.0 93.0L104.3 94.0L105.1 96.0L106.0 97.5L106.4 98.0L108.0 99.9L108.1 100.0L110.0 101.6L110.7 102.0L112.0 102.8L113.9 104.0L114.0 104.0L116.0 104.5L118.0 104.6L120.0 104.7L122.0 104.7L124.0 104.7L126.0 104.9L128.0 105.3L130.0 105.7L131.7 106.0L132.0 106.0L134.0 106.2L136.0 106.4L138.0 106.4L140.0 106.5L142.0 106.8L144.0 107.2L145.3 108.0L146.0 108.5L146.9 110.0L147.2 112.0L147.4 114.0L147.5 116.0L147.5 118.0L147.5 120.0L147.6 122.0L147.7 124.0L148.0 125.5L148.1 126.0L148.8 128.0L149.8 130.0L150.0 131.0L150.3 132.0L151.0 134.0L151.3 136.0L150.9 138.0L150.0 140.0L150.0 140.0L148.3 142.0L148.0 142.3L146.0 143.7L145.8 144.0L144.9 146.0L144.7 148.0L144.5 150.0L144.6 152.0L144.8 154.0L144.8 156.0L144.8 158.0L144.9 160.0L144.8 162.0L144.8 164.0L144.8 166.0L144.6 168.0L144.5 170.0L144.4 172.0L144.2 174.0L144.1 176.0L144.1 178.0L144.0 180.0L144.0 182.0L144.0 182.0L142.0 182.0L140.0 182.0L140.0 180.0L140.1 178.0L140.1 176.0L140.3 174.0L140.6 172.0L140.9 170.0L141.1 168.0L141.3 166.0L141.4 164.0L141.5 162.0L141.5 160.0L141.5 158.0L141.4 156.0L141.3 154.0L141.1 152.0L140.9 150.0L140.7 148.0L140.6 146.0L140.9 144.0L141.7 142.0L142.0 141.4L142.7 140.0L144.0 138.4L144.4 138.0L146.0 136.3L146.2 136.0L147.0 134.0L147.2 132.0L147.3 130.0L146.7 128.0L146.3 126.0L146.1 124.0L146.1 122.0L146.0 120.1L146.0 120.0L146.0 118.0L146.0 116.0L145.7 114.0L145.2 112.0L144.7 110.0L144.0 109.5L142.0 108.9L140.0 108.4L138.0 108.4L136.0 108.3L134.0 108.3L132.0 108.1L130.0 108.0L130.0 108.0L128.0 107.8L126.0 107.7L124.0 107.6L122.0 107.6L120.0 107.5L118.0 107.5L116.0 107.4L114.0 107.2L112.0 106.8L110.0 106.3L108.4 106.0L108.0 105.9L106.0 105.3L104.0 104.1L103.9 104.0L102.9 102.0L102.2 100.0L102.0 99.5L101.5 98.0L101.0 96.0L100.4 94.0L100.0 93.1L99.2 92.0L98.0 90.3L97.8 90.0L97.1 88.0L96.5 86.0L96.0 84.6L95.7 84.0L94.7 82.0L94.1 80.0L94.0 79.8L92.8 78.0L92.0 76.0L92.0 76.0L91.7 74.0L91.6 72.0L91.5 70.0L91.3 68.0L91.0 66.0L90.3 64.0L90.0 63.5L88.0 62.9L86.0 62.2L84.0 63.2L83.5 64.0L82.7 66.0L82.1 68.0L82.0 68.5L81.7 70.0L82.0 71.9L82.0 72.0L82.4 74.0L82.8 76.0L83.0 78.0L83.2 80.0L83.4 82.0L83.7 84.0L84.0 85.1L84.4 86.0L85.7 88.0L86.0 88.4L87.0 90.0L87.2 92.0L87.3 94.0L87.3 96.0L87.0 98.0L86.8 100.0L86.7 102.0L86.6 104.0L86.0 105.8L85.9 106.0L84.9 108.0L84.2 110.0L84.5 112.0L84.8 114.0L85.7 116.0L86.0 116.4L87.0 118.0L87.8 120.0L87.9 122.0L88.0 123.9L88.0 124.0L88.0 124.1L87.8 126.0L87.3 128.0L86.8 130.0L86.3 132.0L86.0 133.3L85.8 134.0L85.2 136.0L84.8 138.0L84.3 140.0L84.1 142.0L84.0 142.9L83.8 144.0L82.4 146.0L82.0 146.3L80.0 147.7L78.0 147.9L77.2 148.0L76.0 148.1L74.0 148.2L72.0 148.2L70.0 148.3L68.0 148.3L66.0 148.3L64.0 148.3L62.0 148.3L60.0 148.2L58.0 148.1L56.0 148.0L55.8 148.0L54.0 147.7L52.0 147.1L50.0 146.1L49.9 146.0L49.1 144.0L48.3 142.0L48.0 141.1L47.6 140.0L47.1 138.0L46.6 136.0L46.0 134.0L46.0 133.9L45.1 132.0L44.2 130.0L44.0 129.8L42.4 128.0L42.0 127.5L40.8 126.0L40.0 125.0L39.2 124.0L38.0 122.0L38.0 122.0L37.1 120.0L36.3 118.0L36.0 117.3L35.3 116.0L34.0 114.5L33.2 114.0L32.0 113.4L30.1 112.0L30.0 111.9L28.0 110.1L28.0 110.0L26.3 108.0L26.0 107.5L24.9 106.0L24.0 105.3L22.0 104.2L21.7 104.0L20.0 103.0L18.4 102.0L18.0 101.6L17.0 100.0L16.0 98.6L15.5 98.0L14.1 96.0L14.0 95.9L12.0 95.4L10.0 94.9L8.0 94.9L8.0 94.0L8.0 92.0L8.0 91.5L10.0 91.5L12.0 91.8L13.8 92.0L14.0 92.0L16.0 92.9L17.2 94.0L18.0 95.0L18.8 96.0L20.0 97.5L20.4 98.0L22.0 99.5L22.6 100.0L24.0 101.0L25.6 102.0L26.0 102.2L28.0 103.7L28.4 104.0L30.0 105.6L30.4 106.0L32.0 107.7L32.4 108.0L34.0 109.3L35.0 110.0L36.0 110.8L37.4 112.0L38.0 112.7L39.1 114.0L40.0 115.5L40.3 116.0L41.4 118.0L42.0 118.9L42.7 120.0L44.0 121.6L44.3 122.0L46.0 124.0L46.0 124.0L47.2 126.0L48.0 127.8L48.1 128.0L48.9 130.0L49.6 132.0L50.0 133.1L50.2 134.0L50.6 136.0L51.3 138.0L52.0 139.3L52.4 140.0L54.0 141.8L54.4 142.0L56.0 142.8L58.0 143.2L60.0 143.5L62.0 143.7L64.0 143.8L66.0 143.9L68.0 143.8L70.0 143.8L72.0 143.6L74.0 143.4L76.0 143.0L78.0 142.0L78.0 142.0L80.0 140.2L80.1 140.0L81.1 138.0L81.9 136.0L82.0 135.7L82.7 134.0L83.6 132.0L84.0 131.3L84.5 130.0L85.1 128.0L85.8 126.0L86.0 124.3L86.0 124.0L86.0 123.8L85.6 122.0L85.2 120.0L84.0 118.5L83.5 118.0L82.0 116.4L81.7 116.0L81.0 114.0L80.7 112.0L80.4 110.0L80.3 108.0L80.1 106.0L80.0 105.8L79.6 104.0L79.1 102.0L78.6 100.0L79.3 98.0L80.0 96.4L80.3 96.0L80.8 94.0L80.1 92.0L80.0 91.7L79.7 90.0L79.4 88.0L79.1 86.0L78.8 84.0L78.6 82.0L78.3 80.0L78.0 78.0L78.0 77.9L77.6 76.0L77.4 74.0L77.2 72.0L77.0 70.0L77.1 68.0L77.3 66.0L77.5 64.0L77.8 62.0L78.0 61.1L78.2 60.0L78.7 58.0L79.3 56.0L79.7 54.0L79.9 52.0L80.0 50.3L80.0 50.0L80.3 48.0L80.6 46.0L81.6 44.0L82.0 43.5L83.8 42.0Z"/>
<path fill="#ff9500" stroke="#ff9500" stroke-width="0.6" d="M114.0 18.0L116.0 18.0L118.0 18.0L120.0 18.0L122.0 18.0L124.0 18.0L126.0 18.0L128.0 18.0L130.0 18.0L132.0 18.0L134.0 18.0L136.0 18.0L138.0 18.0L140.0 18.0L142.0 18.0L144.0 18.0L146.0 18.0L148.0 18.0L150.0 18.0L152.0 18.0L154.0 18.0L156.0 18.0L158.0 18.0L160.0 18.0L162.0 18.0L164.0 18.0L166.0 18.0L168.0 18.0L170.0 18.0L170.0 20.0L169.8 22.0L169.6 24.0L168.8 26.0L168.0 27.0L167.0 28.0L166.0 28.8L164.0 29.6L162.0 29.8L160.0 30.0L158.0 30.0L156.0 30.0L154.0 29.9L152.0 29.6L150.0 29.4L148.0 28.4L147.0 28.0L146.0 27.6L144.0 26.8L142.5 26.0L142.0 25.7L140.0 24.2L138.7 26.0L138.1 28.0L138.0 28.4L137.6 30.0L137.6 32.0L137.5 34.0L137.5 36.0L137.5 38.0L137.5 40.0L137.7 42.0L137.8 44.0L138.0 44.6L138.4 46.0L139.8 48.0L140.0 48.2L141.8 50.0L142.0 50.2L144.0 51.6L145.4 52.0L146.0 52.2L148.0 52.3L150.0 52.5L152.0 52.4L154.0 52.2L155.4 52.0L156.0 51.9L158.0 51.3L160.0 50.5L162.0 50.2L162.8 50.0L164.0 49.7L166.0 48.8L167.1 48.0L168.0 47.3L169.2 46.0L170.0 45.0L170.7 44.0L172.0 42.6L172.6 42.0L174.0 40.7L175.0 40.0L176.0 39.2L177.4 38.0L178.0 37.4L179.2 36.0L180.0 35.0L180.8 34.0L182.0 32.7L182.9 32.0L184.0 31.2L186.0 30.4L188.0 30.2L190.0 30.0L192.0 30.0L192.0 32.0L192.0 34.0L192.0 36.0L192.0 38.0L192.0 40.0L192.0 42.0L192.0 44.0L192.0 46.0L192.0 48.0L192.0 50.0L192.0 52.0L192.0 54.0L192.0 56.0L192.0 57.0L190.0 57.0L188.0 57.0L186.0 57.1L184.0 57.3L182.0 57.6L180.0 58.0L179.9 58.0L178.0 58.5L176.0 59.1L174.0 59.6L172.0 59.8L170.0 60.0L168.0 60.0L167.4 60.0L166.0 60.0L164.0 60.2L162.0 60.5L160.0 60.9L158.8 62.0L158.0 62.9L157.2 64.0L156.0 65.1L154.8 66.0L154.0 66.5L152.1 68.0L152.0 68.1L150.7 70.0L150.0 70.6L148.0 71.9L147.9 72.0L146.1 74.0L146.0 74.1L144.0 75.7L143.4 76.0L142.0 76.5L140.0 77.4L138.6 78.0L138.0 78.3L136.0 79.9L134.0 79.7L132.5 78.0L132.0 77.4L130.4 76.0L130.0 75.5L129.6 74.0L129.3 72.0L129.1 70.0L128.3 68.0L128.0 67.4L127.0 66.0L126.0 64.5L125.8 64.0L125.6 62.0L125.4 60.0L125.1 58.0L124.7 56.0L124.4 54.0L124.2 52.0L124.0 50.0L124.0 49.4L123.9 48.0L123.9 46.0L123.6 44.0L123.0 42.0L122.0 40.0L122.0 40.0L120.0 38.0L120.0 38.0L118.0 36.7L116.3 36.0L116.0 35.8L114.0 34.1L114.0 34.0L113.5 32.0L113.0 30.0L113.0 28.0L113.0 26.0L113.0 24.0L113.0 22.0L113.0 20.0L113.0 18.0ZM84.0 63.2L86.0 62.2L88.0 62.9L90.0 63.5L90.3 64.0L91.0 66.0L91.3 68.0L91.5 70.0L91.6 72.0L91.7 74.0L92.0 76.0L92.0 76.0L92.8 78.0L94.0 79.8L94.1 80.0L94.7 82.0L95.7 84.0L96.0 84.6L96.5 86.0L97.1 88.0L97.8 90.0L98.0 90.3L99.2 92.0L100.0 93.1L100.4 94.0L101.0 96.0L101.5 98.0L102.0 99.5L102.2 100.0L102.9 102.0L103.9 104.0L104.0 104.1L106.0 105.3L108.0 105.9L108.4 106.0L110.0 106.3L112.0 106.8L114.0 107.2L116.0 107.4L118.0 107.5L120.0 107.5L122.0 107.6L124.0 107.6L126.0 107.7L128.0 107.8L130.0 108.0L130.0 108.0L132.0 108.1L134.0 108.3L136.0 108.3L138.0 108.4L140.0 108.4L142.0 108.9L144.0 109.5L144.7 110.0L145.2 112.0L145.7 114.0L146.0 116.0L146.0 118.0L146.0 120.0L146.0 120.1L146.1 122.0L146.1 124.0L146.3 126.0L146.7 128.0L147.3 130.0L147.2 132.0L147.0 134.0L146.2 136.0L146.0 136.3L144.4 138.0L144.0 138.4L142.7 140.0L142.0 141.4L141.7 142.0L140.9 144.0L140.6 146.0L140.7 148.0L140.9 150.0L141.1 152.0L141.3 154.0L141.4 156.0L141.5 158.0L141.5 160.0L141.5 162.0L141.4 164.0L141.3 166.0L141.1 168.0L140.9 170.0L140.6 172.0L140.3 174.0L140.1 176.0L140.1 178.0L140.0 180.0L140.0 182.0L140.0 182.0L138.0 182.0L136.0 182.0L136.0 182.0L136.0 180.0L136.0 179.7L136.1 178.0L136.2 176.0L136.5 174.0L137.0 172.0L137.4 170.0L137.8 168.0L138.0 166.9L138.2 166.0L138.4 164.0L138.4 162.0L138.5 160.0L138.4 158.0L138.4 156.0L138.2 154.0L138.0 152.9L137.8 152.0L137.5 150.0L137.2 148.0L136.8 146.0L136.7 144.0L137.0 142.0L137.3 140.0L138.0 138.2L138.1 138.0L139.2 136.0L140.0 134.9L140.7 134.0L142.0 132.3L142.3 132.0L144.0 130.2L144.1 130.0L144.0 129.4L143.7 128.0L143.4 126.0L143.2 124.0L143.1 122.0L143.0 120.0L142.9 118.0L142.9 116.0L142.1 114.0L142.0 113.8L140.5 112.0L140.0 111.4L138.0 111.3L136.0 111.2L134.0 111.0L132.0 110.8L130.0 110.6L128.0 110.4L126.0 110.2L124.0 110.1L122.0 110.1L120.0 110.0L119.6 110.0L118.0 110.0L116.0 110.0L114.0 109.9L112.0 109.7L110.0 109.6L108.0 109.4L106.0 109.3L104.0 109.1L102.0 108.6L100.1 108.0L100.0 108.0L98.0 107.7L96.0 107.3L94.0 107.4L92.3 108.0L92.0 108.1L90.0 108.7L89.1 110.0L89.1 112.0L89.0 114.0L89.3 116.0L89.8 118.0L90.0 119.5L90.3 120.0L90.1 122.0L90.0 123.5L90.0 124.0L89.7 126.0L89.2 128.0L88.7 130.0L88.4 132.0L88.0 134.0L88.0 134.0L87.7 136.0L87.5 138.0L87.3 140.0L87.2 142.0L87.2 144.0L87.0 146.0L86.6 148.0L86.1 150.0L86.0 152.0L86.0 153.0L86.0 154.0L86.0 154.2L86.3 156.0L87.3 158.0L88.0 158.9L89.4 160.0L90.0 161.1L90.2 162.0L90.7 164.0L91.3 166.0L92.0 167.4L92.4 168.0L94.0 169.2L96.0 169.8L97.1 170.0L96.0 170.5L94.0 171.9L93.9 172.0L92.0 174.0L92.0 174.1L90.9 176.0L90.4 178.0L90.0 180.0L90.0 182.0L90.0 182.0L88.0 182.0L86.0 182.0L84.0 182.0L82.0 182.0L80.0 182.0L78.0 182.0L76.0 182.0L74.0 182.0L72.0 182.0L70.0 182.0L68.0 182.0L66.0 182.0L64.0 182.0L62.0 182.0L60.0 182.0L58.0 182.0L56.0 182.0L54.0 182.0L52.0 182.0L50.0 182.0L48.0 182.0L46.0 182.0L44.0 182.0L42.0 182.0L40.0 182.0L38.0 182.0L36.0 182.0L34.0 182.0L32.0 182.0L30.0 182.0L28.0 182.0L26.0 182.0L24.0 182.0L22.0 182.0L20.0 182.0L18.0 182.0L16.0 182.0L14.0 182.0L12.0 182.0L10.0 182.0L8.0 182.0L8.0 180.0L8.0 178.0L8.0 176.0L8.0 174.0L8.0 172.0L8.0 170.0L8.0 168.0L8.0 166.0L8.0 164.0L8.0 162.0L8.0 160.0L8.0 158.0L8.0 156.0L8.0 154.0L8.0 152.0L8.0 150.0L8.0 148.0L8.0 146.0L8.0 144.0L8.0 142.0L8.0 140.0L8.0 138.0L8.0 136.0L8.0 134.0L8.0 132.0L8.0 130.0L8.0 128.0L8.0 126.0L8.0 124.0L8.0 122.0L8.0 120.0L8.0 118.0L8.0 116.0L8.0 114.0L8.0 112.0L8.0 110.0L8.0 108.0L8.0 106.0L8.0 104.0L8.0 102.0L8.0 100.0L8.0 98.0L8.0 96.0L8.0 94.9L10.0 94.9L12.0 95.4L14.0 95.9L14.1 96.0L15.5 98.0L16.0 98.6L17.0 100.0L18.0 101.6L18.4 102.0L20.0 103.0L21.7 104.0L22.0 104.2L24.0 105.3L24.9 106.0L26.0 107.5L26.3 108.0L28.0 110.0L28.0 110.1L30.0 111.9L30.1 112.0L32.0 113.4L33.2 114.0L34.0 114.5L35.3 116.0L36.0 117.3L36.3 118.0L37.1 120.0L38.0 122.0L38.0 122.0L39.2 124.0L40.0 125.0L40.8 126.0L42.0 127.5L42.4 128.0L44.0 129.8L44.2 130.0L45.1 132.0L46.0 133.9L46.0 134.0L46.6 136.0L47.1 138.0L47.6 140.0L48.0 141.1L48.3 142.0L49.1 144.0L49.9 146.0L50.0 146.1L52.0 147.1L54.0 147.7L55.8 148.0L56.0 148.0L58.0 148.1L60.0 148.2L62.0 148.3L64.0 148.3L66.0 148.3L68.0 148.3L70.0 148.3L72.0 148.2L74.0 148.2L76.0 148.1L77.2 148.0L78.0 147.9L80.0 147.7L82.0 146.3L82.4 146.0L83.8 144.0L84.0 142.9L84.1 142.0L84.3 140.0L84.8 138.0L85.2 136.0L85.8 134.0L86.0 133.3L86.3 132.0L86.8 130.0L87.3 128.0L87.8 126.0L88.0 124.1L88.0 124.0L88.0 123.9L87.9 122.0L87.8 120.0L87.0 118.0L86.0 116.4L85.7 116.0L84.8 114.0L84.5 112.0L84.2 110.0L84.9 108.0L85.9 106.0L86.0 105.8L86.6 104.0L86.7 102.0L86.8 100.0L87.0 98.0L87.3 96.0L87.3 94.0L87.2 92.0L87.0 90.0L86.0 88.4L85.7 88.0L84.4 86.0L84.0 85.1L83.7 84.0L83.4 82.0L83.2 80.0L83.0 78.0L82.8 76.0L82.4 74.0L82.0 72.0L82.0 71.9L81.7 70.0L82.0 68.5L82.1 68.0L82.7 66.0L83.5 64.0ZM23.8 122.0L22.0 123.5L21.5 124.0L20.5 126.0L20.3 128.0L20.0 130.0L20.2 132.0L20.5 134.0L21.2 136.0L22.0 137.1L22.8 138.0L24.0 139.2L25.0 140.0L26.0 140.8L27.4 142.0L28.0 142.6L29.1 144.0L30.0 145.4L30.4 146.0L31.6 148.0L32.0 148.7L32.8 150.0L34.0 150.9L36.0 151.0L37.8 150.0L38.0 149.9L40.0 148.6L40.9 148.0L42.0 147.1L43.2 146.0L43.2 144.0L42.0 142.4L41.8 142.0L40.7 140.0L40.1 138.0L40.0 137.6L39.3 136.0L38.0 134.0L38.0 134.0L36.2 132.0L36.0 131.8L34.2 130.0L34.0 129.8L32.1 128.0L32.0 127.9L30.6 126.0L30.0 125.1L28.9 124.0L28.0 123.2L26.3 122.0L26.0 121.8L24.0 121.8Z"/>
<path fill="#ff4c00" stroke="#ff4c00" stroke-width="0.6" d="M170.0 18.0L172.0 18.0L174.0 18.0L176.0 18.0L178.0 18.0L180.0 18.0L182.0 18.0L184.0 18.0L186.0 18.0L188.0 18.0L190.0 18.0L192.0 18.0L192.0 20.0L192.0 22.0L192.0 24.0L192.0 26.0L192.0 28.0L192.0 30.0L192.0 30.0L190.0 30.0L188.0 30.2L186.0 30.4L184.0 31.2L182.9 32.0L182.0 32.7L180.8 34.0L180.0 35.0L179.2 36.0L178.0 37.4L177.4 38.0L176.0 39.2L175.0 40.0L174.0 40.7L172.6 42.0L172.0 42.6L170.7 44.0L170.0 45.0L169.2 46.0L168.0 47.3L167.1 48.0L166.0 48.8L164.0 49.7L162.8 50.0L162.0 50.2L160.0 50.5L158.0 51.3L156.0 51.9L155.4 52.0L154.0 52.2L152.0 52.4L150.0 52.5L148.0 52.3L146.0 52.2L145.4 52.0L144.0 51.6L142.0 50.2L141.8 50.0L140.0 48.2L139.8 48.0L138.4 46.0L138.0 44.6L137.8 44.0L137.7 42.0L137.5 40.0L137.5 38.0L137.5 36.0L137.5 34.0L137.6 32.0L137.6 30.0L138.0 28.4L138.1 28.0L138.7 26.0L140.0 24.2L142.0 25.7L142.5 26.0L144.0 26.8L146.0 27.6L147.0 28.0L148.0 28.4L150.0 29.4L152.0 29.6L154.0 29.9L156.0 30.0L158.0 30.0L160.0 30.0L162.0 29.8L164.0 29.6L166.0 28.8L167.0 28.0L168.0 27.0L168.8 26.0L169.6 24.0L169.8 22.0L170.0 20.0L170.0 18.0ZM94.0 107.4L96.0 107.3L98.0 107.7L100.0 108.0L100.1 108.0L102.0 108.6L104.0 109.1L106.0 109.3L108.0 109.4L110.0 109.6L112.0 109.7L114.0 109.9L116.0 110.0L118.0 110.0L119.6 110.0L120.0 110.0L122.0 110.1L124.0 110.1L126.0 110.2L128.0 110.4L130.0 110.6L132.0 110.8L134.0 111.0L136.0 111.2L138.0 111.3L140.0 111.4L140.5 112.0L142.0 113.8L142.1 114.0L142.9 116.0L142.9 118.0L143.0 120.0L143.1 122.0L143.2 124.0L143.4 126.0L143.7 128.0L144.0 129.4L144.1 130.0L144.0 130.2L142.3 132.0L142.0 132.3L140.7 134.0L140.0 134.9L139.2 136.0L138.1 138.0L138.0 138.2L137.3 140.0L137.0 142.0L136.7 144.0L136.8 146.0L137.2 148.0L137.5 150.0L137.8 152.0L138.0 152.9L138.2 154.0L138.4 156.0L138.4 158.0L138.5 160.0L138.4 162.0L138.4 164.0L138.2 166.0L138.0 166.9L137.8 168.0L137.4 170.0L137.0 172.0L136.5 174.0L136.2 176.0L136.1 178.0L136.0 179.7L136.0 180.0L136.0 182.0L134.0 182.0L132.0 182.0L130.0 182.0L128.0 182.0L126.0 182.0L124.0 182.0L122.0 182.0L120.0 182.0L118.0 182.0L116.0 182.0L114.0 182.0L112.0 182.0L110.0 182.0L108.0 182.0L106.0 182.0L104.0 182.0L102.0 182.0L100.0 182.0L98.0 182.0L96.0 182.0L94.0 182.0L92.0 182.0L90.0 182.0L90.0 180.0L90.4 178.0L90.9 176.0L92.0 174.1L92.0 174.0L93.9 172.0L94.0 171.9L96.0 170.5L97.1 170.0L96.0 169.8L94.0 169.2L92.4 168.0L92.0 167.4L91.3 166.0L90.7 164.0L90.2 162.0L90.0 161.1L89.4 160.0L88.0 158.9L87.3 158.0L86.3 156.0L86.0 154.2L86.0 154.0L86.0 153.0L86.0 152.0L86.1 150.0L86.6 148.0L87.0 146.0L87.2 144.0L87.2 142.0L87.3 140.0L87.5 138.0L87.7 136.0L88.0 134.0L88.0 134.0L88.4 132.0L88.7 130.0L89.2 128.0L89.7 126.0L90.0 124.0L90.0 123.5L90.1 122.0L90.3 120.0L90.0 119.5L89.8 118.0L89.3 116.0L89.0 114.0L89.1 112.0L89.1 110.0L90.0 108.7L92.0 108.1L92.3 108.0ZM106.0 118.0L104.0 118.8L102.7 120.0L102.0 120.8L100.7 122.0L100.0 122.5L98.3 124.0L98.0 124.3L96.4 126.0L96.0 126.3L94.2 128.0L94.0 128.2L92.4 130.0L92.0 131.0L91.6 132.0L90.7 134.0L90.1 136.0L90.0 136.6L90.0 138.0L89.9 140.0L89.9 142.0L89.9 144.0L89.8 146.0L89.7 148.0L89.5 150.0L89.8 152.0L90.0 153.4L90.2 154.0L91.9 156.0L92.0 156.1L93.3 158.0L94.0 159.8L94.1 160.0L95.1 162.0L96.0 163.8L96.3 164.0L98.0 164.5L100.0 165.0L101.8 164.0L102.0 163.8L103.9 162.0L104.0 161.9L106.0 160.8L108.0 160.4L110.0 160.0L112.0 160.2L114.0 160.4L116.0 161.2L117.1 162.0L118.0 162.7L119.2 164.0L120.0 165.0L120.8 166.0L122.0 167.3L122.9 168.0L124.0 168.8L126.0 169.6L128.0 169.8L130.0 169.9L132.0 168.5L132.6 168.0L134.0 166.9L134.4 166.0L134.8 164.0L135.0 162.0L135.1 160.0L135.0 158.0L134.9 156.0L134.5 154.0L134.0 152.5L133.7 152.0L132.4 150.0L132.0 149.1L131.5 148.0L130.7 146.0L130.3 144.0L130.4 142.0L130.4 140.0L131.1 138.0L131.7 136.0L132.0 134.2L132.0 134.0L132.2 132.0L132.4 130.0L132.5 128.0L132.5 126.0L132.4 124.0L132.1 122.0L132.0 121.5L131.7 120.0L130.0 118.3L128.3 118.0L128.0 118.0L126.0 117.7L124.0 117.5L122.0 117.5L120.0 117.5L118.0 117.5L116.0 117.5L114.0 117.5L112.0 117.5L110.0 117.5L108.0 117.7L106.0 118.0ZM24.0 121.8L26.0 121.8L26.3 122.0L28.0 123.2L28.9 124.0L30.0 125.1L30.6 126.0L32.0 127.9L32.1 128.0L34.0 129.8L34.2 130.0L36.0 131.8L36.2 132.0L38.0 134.0L38.0 134.0L39.3 136.0L40.0 137.6L40.1 138.0L40.7 140.0L41.8 142.0L42.0 142.4L43.2 144.0L43.2 146.0L42.0 147.1L40.9 148.0L40.0 148.6L38.0 149.9L37.8 150.0L36.0 151.0L34.0 150.9L32.8 150.0L32.0 148.7L31.6 148.0L30.4 146.0L30.0 145.4L29.1 144.0L28.0 142.6L27.4 142.0L26.0 140.8L25.0 140.0L24.0 139.2L22.8 138.0L22.0 137.1L21.2 136.0L20.5 134.0L20.2 132.0L20.0 130.0L20.3 128.0L20.5 126.0L21.5 124.0L22.0 123.5L23.8 122.0Z"/>
<path fill="#ff0000" stroke="#ff0000" stroke-width="0.6" d="M106.0 118.0L108.0 117.7L110.0 117.5L112.0 117.5L114.0 117.5L116.0 117.5L118.0 117.5L120.0 117.5L122.0 117.5L124.0 117.5L126.0 117.7L128.0 118.0L128.3 118.0L130.0 118.3L131.7 120.0L132.0 121.5L132.1 122.0L132.4 124.0L132.5 126.0L132.5 128.0L132.4 130.0L132.2 132.0L132.0 134.0L132.0 134.2L131.7 136.0L131.1 138.0L130.4 140.0L130.4 142.0L130.3 144.0L130.7 146.0L131.5 148.0L132.0 149.1L132.4 150.0L133.7 152.0L134.0 152.5L134.5 154.0L134.9 156.0L135.0 158.0L135.1 160.0L135.0 162.0L134.8 164.0L134.4 166.0L134.0 166.9L132.6 168.0L132.0 168.5L130.0 169.9L128.0 169.8L126.0 169.6L124.0 168.8L122.9 168.0L122.0 167.3L120.8 166.0L120.0 165.0L119.2 164.0L118.0 162.7L117.1 162.0L116.0 161.2L114.0 160.4L112.0 160.2L110.0 160.0L108.0 160.4L106.0 160.8L104.0 161.9L103.9 162.0L102.0 163.8L101.8 164.0L100.0 165.0L98.0 164.5L96.3 164.0L96.0 163.8L95.1 162.0L94.1 160.0L94.0 159.8L93.3 158.0L92.0 156.1L91.9 156.0L90.2 154.0L90.0 153.4L89.8 152.0L89.5 150.0L89.7 148.0L89.8 146.0L89.9 144.0L89.9 142.0L89.9 140.0L90.0 138.0L90.0 136.6L90.1 136.0L90.7 134.0L91.6 132.0L92.0 131.0L92.4 130.0L94.0 128.2L94.2 128.0L96.0 126.3L96.4 126.0L98.0 124.3L98.3 124.0L100.0 122.5L100.7 122.0L102.0 120.8L102.7 120.0L104.0 118.8L106.0 118.0Z"/>
<path d="M56.3 62.0 L62.4 65.5 L69.2 67.2 L74.4 67.2 L78.7 65.5 L84.7 65.5 L91.6 64.6 L98.5 63.8 L103.6 62.0 L107.1 59.5 L106.2 54.6 M79.6 50.0 L80.4 58.6 L84.7 60.3 L88.2 63.8 M56.3 62.0 L57.2 72.4 L58.9 80.1 M46.9 80.1 L58.9 80.1 L65.8 81.0 L76.1 80.1 L78.7 79.2 M77.8 65.5 L78.7 79.2 L78.7 93.0 L79.6 106.8 L80.4 112.0 M58.9 80.1 L62.4 84.4 L65.8 89.6 L67.5 96.4 L69.2 101.6 L71.8 105.0 L74.4 106.8 L79.6 106.8 M78.7 79.2 L84.7 80.1 L89.9 87.8 L93.3 90.4 L98.5 91.3 L101.9 91.3 M98.5 63.8 L99.3 75.8 L100.2 84.4 L99.3 91.3 L101.9 96.4 M50.6 96.5 L57.2 98.0 L62.0 99.0 L67.5 96.4 M115.5 50.5 L118.0 55.0 L121.4 60.2 L125.4 59.4 L129.3 61.0 L133.3 60.2 L135.7 62.6 L138.1 61.0 L141.3 58.6 L146.1 57.8 L152.5 57.0 L158.9 56.2 L166.5 55.5 M121.4 60.2 L123.0 65.8 L125.4 70.6 L127.7 75.4 L128.5 81.7 L128.5 86.5 L129.3 91.3 M129.3 88.1 L134.9 90.5 L139.7 89.7 L142.9 87.3 L144.5 81.7 L144.5 75.4 L147.7 72.2 L150.9 69.8 L155.7 69.0 L162.1 69.0 L168.5 70.6 L174.0 73.0 M142.9 87.3 L144.5 91.2 L146.0 98.9 L147.5 105.1 L153.7 108.2 L158.4 111.3 L163.0 109.7 L169.2 103.5 L173.6 98.9 M158.4 111.3 L159.9 115.9 L156.8 120.5 L155.3 126.0 L154.0 134.5 M106.2 54.6 L104.6 64.2 L107.8 69.0 L112.6 75.4 L114.2 81.7 L112.6 86.5 L109.4 89.7 L106.2 92.9 L104.6 97.7 M114.2 81.7 L122.2 83.3 L128.5 83.3 M106.2 92.9 L112.6 92.9 L119.0 94.5 L123.8 92.9 L129.3 91.3 M106.2 97.7 L112.6 99.3 L123.8 99.3 L128.5 102.5 L127.5 108.2 M95.0 106.6 L101.2 108.2 L104.3 111.3 L105.8 117.5 L104.3 122.1 L103.5 128.6 M107.4 102.0 L110.5 102.8 L113.5 103.5 L118.2 105.1 L125.9 106.6 L130.5 109.7 L136.7 108.2 L142.9 107.4 L147.5 105.1 M127.5 108.2 L129.0 112.8 L132.1 117.5 L133.6 122.1 L135.2 126.7 L136.7 128.5 M105.8 85.0 L106.6 92.7 M101.4 92.9 L105.0 100.0 L107.4 102.0 M46.3 111.6 L49.1 115.3 L51.8 124.5 L52.8 131.8 L50.9 139.2 M51.8 126.3 L59.2 124.5 L64.7 122.6 L70.2 119.0 L75.8 115.3 L77.6 111.6 L79.6 106.8 M75.8 110.7 L83.1 111.6 L88.7 110.7 L94.2 107.9 L95.0 106.6 M90.5 95.0 L89.6 104.2 L90.5 111.6 L89.5 116.0 M70.2 119.0 L73.9 126.3 L75.8 133.7 L73.9 141.0 L75.8 146.6 L77.6 153.9 L81.3 159.5 L85.0 166.0 M73.9 126.3 L81.3 124.5 L86.8 120.8 L90.5 118.0 L96.0 117.1 L103.4 116.2 M50.9 139.2 L55.0 140.0 L61.0 142.9 L66.6 148.4 L73.9 146.6 M26.0 128.1 L27.9 137.4 L31.6 141.0 L38.9 142.9 L46.3 141.0 L50.9 139.2 M31.6 141.0 L29.7 148.4 L30.3 151.0 M88.7 137.4 L96.0 137.4 L101.6 135.5 L103.5 134.0 M88.7 137.4 L86.8 130.0 L86.8 120.8 M88.7 137.4 L90.0 146.0 L93.0 152.0 L97.0 157.0 L99.5 160.0" fill="none" stroke="#2e2a10" stroke-opacity="0.85" stroke-width="0.75" stroke-linejoin="round"/>
</g>
<polygon points="29.1,67.7 31.7,68.6 33.4,72.0 36.8,72.9 41.1,74.6 45.4,76.3 46.6,76.5 47.1,82.4 48.0,89.2 47.5,93.9 50.6,96.5 53.2,103.0 54.9,104.7 51.4,108.2 48.0,111.6 44.6,114.5 42.8,115.2 41.1,119.3 39.4,122.0 36.8,124.6 33.4,127.2 30.8,130.6 28.2,128.4 25.6,131.5 22.2,134.1 18.8,135.8 16.5,138.0 15.8,142.7 14.5,142.7 13.6,140.1 12.3,136.7 12.3,133.2 14.5,129.8 17.9,127.2 17.0,123.8 14.5,118.6 13.2,115.2 13.6,111.7 15.3,109.9 17.9,105.6 17.0,101.3 18.8,97.8 21.3,93.5 22.2,89.2 23.9,84.1 26.5,79.8 27.4,77.2 26.5,73.8 27.4,70.3" fill="#9fdaf5" stroke="#6499ee" stroke-width="0.8"/>
<polygon points="29.6,96.9 32.6,97.8 33.5,102.7 32.1,106.7 32.6,112.6 32.5,115.2 33.4,119.5 30.8,122.0 26.5,122.0 24.8,118.6 25.6,115.2 26.2,114.0 27.6,111.6 29.1,105.7 29.6,100.8" fill="#ffffff"/>
<path d="M40.0 82.8 L47.0 82.5 M38.4 102.6 L53.0 103.0 M39.0 113.0 L47.0 112.0" fill="none" stroke="#6a8fb0" stroke-width="0.5"/>
<polygon points="136.5,24.6 138.0,24.3 142.3,23.7 144.7,24.3 145.3,27.4 147.8,32.3 150.0,34.8 152.0,40.0 152.9,44.3 155.5,47.7 158.9,50.3 163.2,52.0 166.6,52.9 167.5,56.3 167.5,60.6 169.2,64.1 171.8,68.4 174.4,72.6 175.2,76.9 174.4,82.1 175.2,86.4 174.4,89.8 172.6,93.3 172.6,96.7 174.4,100.1 177.8,103.6 180.3,107.5 178.5,110.1 176.8,114.4 175.9,119.6 175.9,124.7 174.2,127.3 171.6,129.9 168.2,131.6 163.9,132.5 161.3,133.3 156.1,134.2 152.7,135.0 149.2,133.3 146.7,130.7 144.9,129.0 140.6,127.3 137.2,128.2 133.8,129.9 129.5,130.7 125.2,131.6 123.6,133.8 119.3,135.5 115.0,134.6 111.6,132.9 109.9,129.5 105.6,128.6 103.0,128.6 103.0,132.0 103.9,136.3 103.9,140.6 102.1,145.8 101.3,150.1 101.3,154.4 100.4,158.7 97.8,162.1 94.4,163.9 91.0,163.9 87.5,165.6 84.1,168.2 80.6,166.4 77.2,165.6 73.8,166.4 68.6,168.2 65.2,166.4 60.0,167.0 54.9,168.5 53.2,165.0 52.3,159.9 51.4,155.6 48.0,153.0 42.8,151.3 39.4,150.4 34.2,149.6 30.8,150.4 29.9,153.9 29.1,159.9 27.4,160.7 25.6,158.2 21.3,156.4 17.9,154.7 18.8,151.3 17.9,147.0 15.3,144.4 15.3,142.7 14.5,139.2 14.9,135.8 16.2,133.2 18.8,131.1 22.2,129.8 24.4,126.8 26.5,124.6 30.8,124.2 34.2,122.0 37.7,115.2 39.0,110.0 38.5,104.7 37.0,97.8 36.0,93.0 36.8,89.2 42.0,82.4 46.3,76.3 49.6,67.8 52.9,64.5 55.4,61.3 57.8,60.5 62.7,59.6 64.4,56.4 66.8,53.9 70.9,51.5 75.8,50.6 80.7,49.0 85.6,47.4 89.7,46.5 91.8,45.2 94.9,46.4 97.4,50.1 99.2,55.7 100.5,56.9 104.8,55.0 109.1,53.2 112.1,51.4 116.4,49.5 119.5,47.0 120.7,42.7 123.2,41.5 126.9,38.4 130.6,33.5 133.0,31.1 135.5,26.0" fill="none" stroke="#000" stroke-width="1.2" stroke-linejoin="round"/>
<rect x="5.5" y="6.5" width="183.4" height="180" fill="none" stroke="#333" stroke-width="1.3"/>
<text x="7.4" y="18.6" font-family="Liberation Serif, serif" font-size="10" fill="#1a1a1a" stroke="#1a1a1a" stroke-width="0.15">(b)</text>
<text x="91.8" y="17.5" font-family="Liberation Serif, serif" font-size="9.6" fill="#1a1a1a" stroke="#1a1a1a" stroke-width="0.2" text-anchor="middle">1993-2002</text>
<g>
<polygon points="174.7,17.3 176.1,21.2 174.7,22.6" fill="#222"/>
<polygon points="174.7,17.3 173.3,21.2 174.7,22.6" fill="#999"/>
<polygon points="180.0,22.6 176.1,24.0 174.7,22.6" fill="#222"/>
<polygon points="180.0,22.6 176.1,21.2 174.7,22.6" fill="#888"/>
<polygon points="174.7,27.9 173.3,24.0 174.7,22.6" fill="#222"/>
<polygon points="174.7,27.9 176.1,24.0 174.7,22.6" fill="#888"/>
<polygon points="169.4,22.6 173.3,21.2 174.7,22.6" fill="#222"/>
<polygon points="169.4,22.6 173.3,24.0 174.7,22.6" fill="#999"/>
<circle cx="174.7" cy="22.6" r="1.3" fill="#111"/>
</g>
<text x="174.7" y="16.3" font-family="Liberation Sans, sans-serif" font-size="2.6" fill="#556" text-anchor="middle">N</text>
<text x="174.7" y="31.2" font-family="Liberation Sans, sans-serif" font-size="2.6" fill="#556" text-anchor="middle">S</text>
<text x="167.4" y="23.6" font-family="Liberation Sans, sans-serif" font-size="2.6" fill="#556" text-anchor="middle">W</text>
<text x="181.5" y="23.6" font-family="Liberation Sans, sans-serif" font-size="2.6" fill="#556" text-anchor="middle">E</text>
<g transform="translate(0,0)">
<rect x="109.5" y="181.2" width="62.3" height="2.3" fill="#000"/>
<rect x="121.8" y="181.9" width="12.2" height="0.9" fill="#fff"/>
<rect x="146.4" y="181.9" width="12.3" height="0.9" fill="#fff"/>
<text x="109.6" y="179.2" font-family="Liberation Sans, sans-serif" font-size="4.2" fill="#333" text-anchor="middle">0</text>
<text x="121.6" y="179.2" font-family="Liberation Sans, sans-serif" font-size="4.2" fill="#333" text-anchor="middle">15</text>
<text x="134.0" y="179.2" font-family="Liberation Sans, sans-serif" font-size="4.2" fill="#333" text-anchor="middle">30</text>
<text x="146.4" y="179.2" font-family="Liberation Sans, sans-serif" font-size="4.2" fill="#333" text-anchor="middle">60</text>
<text x="158.7" y="179.2" font-family="Liberation Sans, sans-serif" font-size="4.2" fill="#333" text-anchor="middle">90</text>
<text x="171.4" y="179.2" font-family="Liberation Sans, sans-serif" font-size="4.2" fill="#333" text-anchor="middle">120</text>
<text x="175.4" y="183.8" font-family="Liberation Sans, sans-serif" font-size="4.2" fill="#333">Km</text>
</g>
<path d="M188.9 19.4 h1.8 M188.9 101 h1.8 M188.9 182.4 h1.8 M25.2 186.5 v1.6 M106.9 186.5 v1.6 M188.7 186.5 v1.6" stroke="#222" stroke-width="0.9"/>
<text x="0" y="0" font-family="Liberation Sans, sans-serif" font-size="4.6" fill="#444" text-anchor="middle" transform="translate(197.6,19.2) rotate(-90)">1° S</text>
<text x="0" y="0" font-family="Liberation Sans, sans-serif" font-size="4.6" fill="#444" text-anchor="middle" transform="translate(197.6,101.2) rotate(-90)">2° S</text>
<text x="0" y="0" font-family="Liberation Sans, sans-serif" font-size="4.6" fill="#444" text-anchor="middle" transform="translate(197.6,182.6) rotate(-90)">3° S</text>
<text x="25.2" y="195.8" font-family="Liberation Sans, sans-serif" font-size="4.6" fill="#444" text-anchor="middle">29° E</text>
<text x="106.9" y="195.8" font-family="Liberation Sans, sans-serif" font-size="4.6" fill="#444" text-anchor="middle">30° E</text>
<text x="188.7" y="195.8" font-family="Liberation Sans, sans-serif" font-size="4.6" fill="#444" text-anchor="middle">31° E</text>
</g>
<g transform="translate(0,206)">
<clipPath id="clipc"><polygon points="136.5,24.6 138.0,24.3 142.3,23.7 144.7,24.3 145.3,27.4 147.8,32.3 150.0,34.8 152.0,40.0 152.9,44.3 155.5,47.7 158.9,50.3 163.2,52.0 166.6,52.9 167.5,56.3 167.5,60.6 169.2,64.1 171.8,68.4 174.4,72.6 175.2,76.9 174.4,82.1 175.2,86.4 174.4,89.8 172.6,93.3 172.6,96.7 174.4,100.1 177.8,103.6 180.3,107.5 178.5,110.1 176.8,114.4 175.9,119.6 175.9,124.7 174.2,127.3 171.6,129.9 168.2,131.6 163.9,132.5 161.3,133.3 156.1,134.2 152.7,135.0 149.2,133.3 146.7,130.7 144.9,129.0 140.6,127.3 137.2,128.2 133.8,129.9 129.5,130.7 125.2,131.6 123.6,133.8 119.3,135.5 115.0,134.6 111.6,132.9 109.9,129.5 105.6,128.6 103.0,128.6 103.0,132.0 103.9,136.3 103.9,140.6 102.1,145.8 101.3,150.1 101.3,154.4 100.4,158.7 97.8,162.1 94.4,163.9 91.0,163.9 87.5,165.6 84.1,168.2 80.6,166.4 77.2,165.6 73.8,166.4 68.6,168.2 65.2,166.4 60.0,167.0 54.9,168.5 53.2,165.0 52.3,159.9 51.4,155.6 48.0,153.0 42.8,151.3 39.4,150.4 34.2,149.6 30.8,150.4 29.9,153.9 29.1,159.9 27.4,160.7 25.6,158.2 21.3,156.4 17.9,154.7 18.8,151.3 17.9,147.0 15.3,144.4 15.3,142.7 14.5,139.2 14.9,135.8 16.2,133.2 18.8,131.1 22.2,129.8 24.4,126.8 26.5,124.6 30.8,124.2 34.2,122.0 37.7,115.2 39.0,110.0 38.5,104.7 37.0,97.8 36.0,93.0 36.8,89.2 42.0,82.4 46.3,76.3 49.6,67.8 52.9,64.5 55.4,61.3 57.8,60.5 62.7,59.6 64.4,56.4 66.8,53.9 70.9,51.5 75.8,50.6 80.7,49.0 85.6,47.4 89.7,46.5 91.8,45.2 94.9,46.4 97.4,50.1 99.2,55.7 100.5,56.9 104.8,55.0 109.1,53.2 112.1,51.4 116.4,49.5 119.5,47.0 120.7,42.7 123.2,41.5 126.9,38.4 130.6,33.5 133.0,31.1 135.5,26.0"/></clipPath>
<g clip-path="url(#clipc)">
<path fill="#38a800" stroke="#38a800" stroke-width="0.6" d="M106.0 59.0L108.0 58.9L110.0 58.8L112.0 59.6L113.1 60.0L114.0 61.1L114.4 62.0L115.2 64.0L115.8 66.0L116.0 66.7L116.2 68.0L116.7 70.0L116.9 72.0L117.2 74.0L117.2 76.0L116.9 78.0L116.6 80.0L116.0 80.6L114.0 81.7L112.0 81.9L110.6 82.0L110.0 82.0L109.8 82.0L108.0 81.7L106.0 81.4L104.2 80.0L104.0 78.8L103.9 78.0L103.7 76.0L103.6 74.0L103.5 72.0L103.5 70.0L103.5 68.0L103.4 66.0L103.6 64.0L103.9 62.0L104.0 61.4L104.4 60.0ZM50.0 73.3L52.0 72.9L54.0 72.6L56.0 72.5L58.0 72.5L60.0 72.5L62.0 73.0L64.0 73.7L64.4 74.0L65.6 76.0L66.0 77.2L66.1 78.0L66.5 80.0L66.6 82.0L66.8 84.0L67.0 86.0L67.2 88.0L67.4 90.0L67.9 92.0L68.0 92.2L68.7 94.0L68.3 96.0L68.0 96.5L67.1 98.0L66.2 100.0L66.0 100.2L64.0 101.6L62.0 102.0L61.9 102.0L60.0 102.3L58.6 102.0L58.0 101.9L56.0 101.4L54.0 100.0L54.0 99.9L53.4 98.0L52.6 96.0L52.0 94.8L51.5 94.0L50.0 92.3L49.7 92.0L48.1 90.0L48.0 89.2L47.8 88.0L47.6 86.0L47.5 84.0L47.5 82.0L47.5 80.0L47.8 78.0L48.0 76.5L48.1 76.0L49.1 74.0ZM164.0 97.9L166.0 97.8L168.0 97.8L170.0 97.8L172.0 97.9L174.0 98.0L174.0 98.0L176.0 98.3L178.0 98.8L180.0 99.5L182.0 99.7L184.0 99.9L185.9 100.0L186.0 100.0L188.0 100.0L190.0 100.0L192.0 100.0L192.0 102.0L192.0 104.0L192.0 106.0L192.0 108.0L192.0 110.0L192.0 112.0L192.0 114.0L192.0 116.0L192.0 118.0L192.0 120.0L190.0 120.0L190.0 120.0L188.0 120.0L186.0 120.0L184.0 120.2L182.0 120.7L180.0 121.2L179.4 122.0L178.3 124.0L178.0 124.8L177.6 126.0L177.2 128.0L176.7 130.0L176.0 130.7L174.0 131.6L172.0 131.7L170.0 131.8L168.0 131.9L166.7 132.0L166.0 132.1L165.9 132.0L164.1 130.0L164.0 129.9L163.2 128.0L162.0 126.4L161.7 126.0L160.0 124.0L160.0 124.0L159.7 122.0L159.5 120.0L159.5 118.0L159.4 116.0L159.3 114.0L159.2 112.0L158.9 110.0L158.7 108.0L158.3 106.0L158.2 104.0L158.3 102.0L158.5 100.0L160.0 98.5L162.0 98.2L163.4 98.0Z"/>
<path fill="#6fc400" stroke="#6fc400" stroke-width="0.6" d="M10.0 18.0L12.0 18.0L14.0 18.0L16.0 18.0L18.0 18.0L20.0 18.0L22.0 18.0L24.0 18.0L26.0 18.0L28.0 18.0L30.0 18.0L30.0 18.0L30.0 20.0L30.2 22.0L30.4 24.0L31.2 26.0L32.0 27.1L32.7 28.0L34.0 29.2L35.0 30.0L36.0 30.8L37.4 32.0L38.0 32.6L39.2 34.0L40.0 35.0L40.8 36.0L42.0 37.4L42.6 38.0L44.0 39.2L45.0 40.0L46.0 40.8L47.4 42.0L48.0 42.6L49.2 44.0L50.0 45.0L50.8 46.0L52.0 47.4L52.6 48.0L54.0 49.2L55.0 50.0L56.0 50.8L57.4 52.0L58.0 52.6L59.2 54.0L60.0 55.0L60.8 56.0L62.0 57.4L62.6 58.0L64.0 59.2L65.0 60.0L66.0 60.8L67.2 62.0L68.0 62.9L68.8 64.0L69.6 66.0L69.9 68.0L70.0 68.4L70.1 70.0L70.5 72.0L70.8 74.0L71.1 76.0L71.4 78.0L71.6 80.0L71.9 82.0L72.0 82.6L72.2 84.0L72.5 86.0L72.7 88.0L72.9 90.0L73.3 92.0L73.6 94.0L73.5 96.0L73.1 98.0L72.4 100.0L72.0 101.6L71.9 102.0L71.1 104.0L70.4 106.0L70.2 108.0L70.0 109.9L70.0 110.0L70.0 112.0L70.0 114.0L70.0 116.0L70.0 118.0L70.0 120.0L70.0 122.0L70.0 124.0L70.0 126.0L70.0 128.0L70.0 130.0L69.7 132.0L69.5 134.0L68.7 136.0L68.0 136.8L66.6 138.0L66.0 138.4L64.0 138.7L62.0 138.3L60.4 138.0L60.0 137.9L58.0 136.9L56.0 136.0L56.0 136.0L54.9 134.0L54.3 132.0L54.0 131.2L53.7 130.0L53.6 128.0L53.5 126.0L53.7 124.0L54.0 122.9L54.5 122.0L55.8 120.0L56.0 119.6L57.1 118.0L58.0 116.6L58.3 116.0L58.3 114.0L58.0 113.6L56.9 112.0L56.0 111.0L54.9 110.0L54.0 109.5L52.1 108.0L52.0 107.9L50.3 106.0L50.0 105.6L48.7 104.0L48.0 103.3L46.6 102.0L46.0 101.4L44.0 100.4L42.0 100.2L40.3 100.0L40.0 100.0L38.0 99.4L36.0 99.0L34.1 98.0L34.0 98.0L32.0 97.0L30.0 96.4L29.2 96.0L28.0 95.3L26.0 94.3L25.7 94.0L24.4 92.0L24.0 91.5L23.0 90.0L22.0 88.5L21.5 88.0L20.0 87.0L18.0 86.2L17.1 86.0L16.0 85.6L14.0 85.3L12.0 85.2L10.0 85.1L8.0 85.1L8.0 84.0L8.0 82.0L8.0 80.0L8.0 78.0L8.0 76.0L8.0 74.0L8.0 72.0L8.0 70.0L8.0 68.0L8.0 66.0L8.0 64.0L8.0 62.0L8.0 60.0L8.0 58.0L8.0 56.0L8.0 54.0L8.0 52.0L8.0 50.0L8.0 48.0L8.0 46.0L8.0 44.0L8.0 42.0L8.0 40.0L8.0 38.0L8.0 36.0L8.0 34.0L8.0 32.0L8.0 30.0L8.0 28.0L8.0 26.0L8.0 24.0L8.0 22.0L8.0 20.0L8.0 18.0ZM49.1 74.0L48.1 76.0L48.0 76.5L47.8 78.0L47.5 80.0L47.5 82.0L47.5 84.0L47.6 86.0L47.8 88.0L48.0 89.2L48.1 90.0L49.7 92.0L50.0 92.3L51.5 94.0L52.0 94.8L52.6 96.0L53.4 98.0L54.0 99.9L54.0 100.0L56.0 101.4L58.0 101.9L58.6 102.0L60.0 102.3L61.9 102.0L62.0 102.0L64.0 101.6L66.0 100.2L66.2 100.0L67.1 98.0L68.0 96.5L68.3 96.0L68.7 94.0L68.0 92.2L67.9 92.0L67.4 90.0L67.2 88.0L67.0 86.0L66.8 84.0L66.6 82.0L66.5 80.0L66.1 78.0L66.0 77.2L65.6 76.0L64.4 74.0L64.0 73.7L62.0 73.0L60.0 72.5L58.0 72.5L56.0 72.5L54.0 72.6L52.0 72.9L50.0 73.3ZM106.0 51.6L107.5 52.0L108.0 52.2L110.0 52.8L111.0 54.0L112.0 54.7L113.8 56.0L114.0 56.1L116.0 57.6L116.4 58.0L118.0 59.8L118.2 60.0L118.8 62.0L119.4 64.0L120.0 65.7L120.2 66.0L121.0 68.0L121.8 70.0L122.0 70.8L122.4 72.0L123.1 74.0L123.6 76.0L123.7 78.0L123.7 80.0L122.4 82.0L122.0 82.8L121.5 84.0L121.0 86.0L120.8 88.0L120.6 90.0L120.0 90.9L118.0 91.3L116.0 91.5L114.0 91.1L112.5 90.0L112.0 89.6L110.0 88.5L108.5 88.0L108.0 87.8L106.0 87.3L104.0 86.2L103.7 86.0L102.0 84.4L101.5 84.0L100.3 82.0L100.0 81.4L99.7 80.0L99.7 78.0L99.6 76.0L99.6 74.0L99.5 72.0L99.4 70.0L99.3 68.0L99.1 66.0L99.1 64.0L99.2 62.0L99.4 60.0L100.0 58.3L100.2 58.0L101.6 56.0L102.0 55.4L103.0 54.0L104.0 52.4L104.9 52.0ZM104.4 60.0L104.0 61.4L103.9 62.0L103.6 64.0L103.4 66.0L103.5 68.0L103.5 70.0L103.5 72.0L103.6 74.0L103.7 76.0L103.9 78.0L104.0 78.8L104.2 80.0L106.0 81.4L108.0 81.7L109.8 82.0L110.0 82.0L110.6 82.0L112.0 81.9L114.0 81.7L116.0 80.6L116.6 80.0L116.9 78.0L117.2 76.0L117.2 74.0L116.9 72.0L116.7 70.0L116.2 68.0L116.0 66.7L115.8 66.0L115.2 64.0L114.4 62.0L114.0 61.1L113.1 60.0L112.0 59.6L110.0 58.8L108.0 58.9L106.0 59.0ZM160.0 90.0L162.0 90.0L164.0 90.0L166.0 90.0L168.0 90.0L170.0 90.0L172.0 90.0L174.0 90.0L176.0 90.0L178.0 90.0L180.0 90.0L182.0 90.0L184.0 90.0L186.0 90.0L188.0 90.0L190.0 90.0L192.0 90.0L192.0 90.0L192.0 92.0L192.0 94.0L192.0 96.0L192.0 98.0L192.0 100.0L192.0 100.0L190.0 100.0L188.0 100.0L186.0 100.0L185.9 100.0L184.0 99.9L182.0 99.7L180.0 99.5L178.0 98.8L176.0 98.3L174.0 98.0L174.0 98.0L172.0 97.9L170.0 97.8L168.0 97.8L166.0 97.8L164.0 97.9L163.4 98.0L162.0 98.2L160.0 98.5L158.5 100.0L158.3 102.0L158.2 104.0L158.3 106.0L158.7 108.0L158.9 110.0L159.2 112.0L159.3 114.0L159.4 116.0L159.5 118.0L159.5 120.0L159.7 122.0L160.0 124.0L160.0 124.0L161.7 126.0L162.0 126.4L163.2 128.0L164.0 129.9L164.1 130.0L165.9 132.0L166.0 132.1L166.7 132.0L168.0 131.9L170.0 131.8L172.0 131.7L174.0 131.6L176.0 130.7L176.7 130.0L177.2 128.0L177.6 126.0L178.0 124.8L178.3 124.0L179.4 122.0L180.0 121.2L182.0 120.7L184.0 120.2L186.0 120.0L188.0 120.0L190.0 120.0L190.0 120.0L192.0 120.0L192.0 120.0L192.0 122.0L192.0 124.0L192.0 126.0L192.0 128.0L192.0 130.0L192.0 132.0L192.0 134.0L192.0 136.0L192.0 138.0L192.0 140.0L192.0 142.0L192.0 144.0L192.0 146.0L192.0 148.0L192.0 150.0L192.0 152.0L192.0 154.0L192.0 156.0L192.0 158.0L192.0 160.0L192.0 162.0L192.0 164.0L192.0 166.0L192.0 168.0L192.0 170.0L190.0 170.0L188.0 169.8L186.0 169.6L184.0 168.8L183.0 168.0L182.0 167.0L181.2 166.0L180.4 164.0L180.2 162.0L180.0 160.0L180.0 160.0L179.8 158.0L179.6 156.0L178.8 154.0L178.0 152.9L177.3 152.0L176.0 150.8L175.0 150.0L174.0 149.2L172.7 148.0L172.0 147.1L171.2 146.0L170.3 144.0L170.0 142.9L169.7 142.0L168.8 140.0L168.0 139.7L166.0 139.1L164.0 138.5L163.3 138.0L162.0 136.7L161.5 136.0L160.6 134.0L160.0 132.3L159.9 132.0L159.0 130.0L158.0 128.5L157.7 128.0L156.9 126.0L156.6 124.0L156.5 122.0L156.3 120.0L156.2 118.0L156.2 116.0L156.0 114.8L155.9 114.0L155.3 112.0L154.6 110.0L154.0 108.6L153.7 108.0L152.3 106.0L152.0 105.5L151.1 104.0L150.6 102.0L150.0 100.0L150.4 98.0L150.7 96.0L151.9 94.0L152.0 93.9L153.9 92.0L154.0 91.9L156.0 90.7L158.0 90.3L160.0 90.0Z"/>
<path fill="#a8d800" stroke="#a8d800" stroke-width="0.6" d="M32.0 18.0L34.0 18.0L36.0 18.0L38.0 18.0L40.0 18.0L42.0 18.0L44.0 18.0L46.0 18.0L48.0 18.0L50.0 18.0L52.0 18.0L54.0 18.0L56.0 18.0L58.0 18.0L60.0 18.0L62.0 18.0L64.0 18.0L66.0 18.0L68.0 18.0L70.0 18.0L72.0 18.0L74.0 18.0L76.0 18.0L78.0 18.0L80.0 18.0L82.0 18.0L84.0 18.0L86.0 18.0L88.0 18.0L90.0 18.0L92.0 18.0L94.0 18.0L96.0 18.0L98.0 18.0L100.0 18.0L102.0 18.0L104.0 18.0L106.0 18.0L106.0 20.0L106.0 22.0L106.0 24.0L106.0 26.0L106.0 28.0L106.0 30.0L106.0 30.5L106.1 32.0L106.1 34.0L106.4 36.0L107.0 38.0L108.0 40.0L108.0 40.0L110.0 41.9L110.1 42.0L112.0 43.4L113.1 44.0L114.0 44.6L115.1 46.0L115.6 48.0L116.0 49.3L116.1 50.0L116.6 52.0L117.1 54.0L118.0 55.5L118.3 56.0L120.0 57.8L120.2 58.0L122.0 59.4L122.9 60.0L123.8 62.0L124.0 62.4L124.4 64.0L124.9 66.0L125.2 68.0L125.4 70.0L126.0 72.0L126.0 72.1L126.4 74.0L126.7 76.0L126.9 78.0L127.3 80.0L127.0 82.0L126.4 84.0L126.0 86.0L126.5 88.0L127.1 90.0L127.8 92.0L128.0 92.6L128.5 94.0L128.3 96.0L128.0 96.4L126.6 98.0L126.0 98.5L124.0 99.5L122.0 99.7L120.0 100.0L119.7 100.0L118.0 100.2L116.0 100.3L114.0 100.8L112.0 101.8L111.5 102.0L110.0 102.8L108.2 102.0L108.0 101.9L106.0 100.8L105.6 100.0L105.3 98.0L105.0 96.0L104.5 94.0L104.0 92.5L103.9 92.0L103.3 90.0L102.0 88.7L101.1 88.0L100.0 87.2L99.0 86.0L98.2 84.0L98.0 83.0L97.8 82.0L97.5 80.0L97.5 78.0L97.4 76.0L97.3 74.0L97.0 72.0L96.8 70.0L96.5 68.0L96.3 66.0L96.1 64.0L96.0 62.0L96.0 60.8L96.0 60.0L96.0 59.7L96.2 58.0L96.5 56.0L96.5 54.0L96.1 52.0L96.0 51.7L95.5 50.0L94.5 48.0L94.0 47.1L93.5 46.0L92.7 44.0L92.0 42.5L91.7 42.0L90.0 40.0L90.0 40.0L88.0 38.7L86.2 38.0L86.0 37.9L84.0 37.9L83.8 38.0L82.0 38.7L80.0 40.0L80.0 40.0L78.5 42.0L78.0 43.0L77.6 44.0L77.2 46.0L77.1 48.0L77.0 50.0L77.0 52.0L77.0 54.0L77.0 56.0L76.9 58.0L76.8 60.0L76.4 62.0L76.1 64.0L76.0 65.4L75.9 66.0L75.8 68.0L75.7 70.0L75.7 72.0L75.8 74.0L75.8 76.0L75.9 78.0L76.0 78.9L76.1 80.0L76.4 82.0L76.9 84.0L77.3 86.0L77.7 88.0L78.0 89.4L78.1 90.0L78.4 92.0L78.7 94.0L78.9 96.0L78.9 98.0L78.9 100.0L78.9 102.0L78.9 104.0L79.0 106.0L79.3 108.0L79.7 110.0L80.0 112.0L80.0 112.2L80.2 114.0L80.6 116.0L81.2 118.0L82.0 120.0L82.0 120.1L82.3 122.0L82.6 124.0L82.0 125.0L81.5 126.0L80.0 127.8L79.8 128.0L78.2 130.0L78.0 130.3L77.2 132.0L76.6 134.0L76.3 136.0L76.2 138.0L76.1 140.0L76.0 140.8L75.8 142.0L75.3 144.0L74.0 145.9L73.8 146.0L72.0 146.6L70.0 147.1L68.0 147.0L66.0 147.0L64.0 146.6L62.4 146.0L62.0 145.8L60.0 145.0L58.5 144.0L58.0 143.7L56.0 142.5L55.5 142.0L54.0 140.4L53.8 140.0L52.7 138.0L52.0 136.6L51.7 136.0L50.9 134.0L50.1 132.0L50.0 131.7L49.4 130.0L48.9 128.0L48.2 126.0L48.0 125.3L47.5 124.0L46.9 122.0L46.0 120.0L46.0 119.9L45.3 118.0L44.5 116.0L44.0 114.7L43.8 114.0L43.0 112.0L42.0 110.2L41.9 110.0L40.0 108.2L39.7 108.0L38.0 106.9L36.1 106.0L36.0 106.0L34.0 104.5L33.5 104.0L32.0 102.5L31.4 102.0L30.0 101.1L28.4 100.0L28.0 99.7L26.0 98.6L25.1 98.0L24.0 97.3L22.7 96.0L22.0 95.1L21.2 94.0L20.0 92.5L19.5 92.0L18.0 90.7L17.0 90.0L16.0 89.4L14.0 88.8L12.0 88.7L10.0 88.5L8.0 88.5L8.0 88.0L8.0 86.0L8.0 85.1L10.0 85.1L12.0 85.2L14.0 85.3L16.0 85.6L17.1 86.0L18.0 86.2L20.0 87.0L21.5 88.0L22.0 88.5L23.0 90.0L24.0 91.5L24.4 92.0L25.7 94.0L26.0 94.3L28.0 95.3L29.2 96.0L30.0 96.4L32.0 97.0L34.0 98.0L34.1 98.0L36.0 99.0L38.0 99.4L40.0 100.0L40.3 100.0L42.0 100.2L44.0 100.4L46.0 101.4L46.6 102.0L48.0 103.3L48.7 104.0L50.0 105.6L50.3 106.0L52.0 107.9L52.1 108.0L54.0 109.5L54.9 110.0L56.0 111.0L56.9 112.0L58.0 113.6L58.3 114.0L58.3 116.0L58.0 116.6L57.1 118.0L56.0 119.6L55.8 120.0L54.5 122.0L54.0 122.9L53.7 124.0L53.5 126.0L53.6 128.0L53.7 130.0L54.0 131.2L54.3 132.0L54.9 134.0L56.0 136.0L56.0 136.0L58.0 136.9L60.0 137.9L60.4 138.0L62.0 138.3L64.0 138.7L66.0 138.4L66.6 138.0L68.0 136.8L68.7 136.0L69.5 134.0L69.7 132.0L70.0 130.0L70.0 128.0L70.0 126.0L70.0 124.0L70.0 122.0L70.0 120.0L70.0 118.0L70.0 116.0L70.0 114.0L70.0 112.0L70.0 110.0L70.0 109.9L70.2 108.0L70.4 106.0L71.1 104.0L71.9 102.0L72.0 101.6L72.4 100.0L73.1 98.0L73.5 96.0L73.6 94.0L73.3 92.0L72.9 90.0L72.7 88.0L72.5 86.0L72.2 84.0L72.0 82.6L71.9 82.0L71.6 80.0L71.4 78.0L71.1 76.0L70.8 74.0L70.5 72.0L70.1 70.0L70.0 68.4L69.9 68.0L69.6 66.0L68.8 64.0L68.0 62.9L67.2 62.0L66.0 60.8L65.0 60.0L64.0 59.2L62.6 58.0L62.0 57.4L60.8 56.0L60.0 55.0L59.2 54.0L58.0 52.6L57.4 52.0L56.0 50.8L55.0 50.0L54.0 49.2L52.6 48.0L52.0 47.4L50.8 46.0L50.0 45.0L49.2 44.0L48.0 42.6L47.4 42.0L46.0 40.8L45.0 40.0L44.0 39.2L42.6 38.0L42.0 37.4L40.8 36.0L40.0 35.0L39.2 34.0L38.0 32.6L37.4 32.0L36.0 30.8L35.0 30.0L34.0 29.2L32.7 28.0L32.0 27.1L31.2 26.0L30.4 24.0L30.2 22.0L30.0 20.0L30.0 18.0ZM104.9 52.0L104.0 52.4L103.0 54.0L102.0 55.4L101.6 56.0L100.2 58.0L100.0 58.3L99.4 60.0L99.2 62.0L99.1 64.0L99.1 66.0L99.3 68.0L99.4 70.0L99.5 72.0L99.6 74.0L99.6 76.0L99.7 78.0L99.7 80.0L100.0 81.4L100.3 82.0L101.5 84.0L102.0 84.4L103.7 86.0L104.0 86.2L106.0 87.3L108.0 87.8L108.5 88.0L110.0 88.5L112.0 89.6L112.5 90.0L114.0 91.1L116.0 91.5L118.0 91.3L120.0 90.9L120.6 90.0L120.8 88.0L121.0 86.0L121.5 84.0L122.0 82.8L122.4 82.0L123.7 80.0L123.7 78.0L123.6 76.0L123.1 74.0L122.4 72.0L122.0 70.8L121.8 70.0L121.0 68.0L120.2 66.0L120.0 65.7L119.4 64.0L118.8 62.0L118.2 60.0L118.0 59.8L116.4 58.0L116.0 57.6L114.0 56.1L113.8 56.0L112.0 54.7L111.0 54.0L110.0 52.8L108.0 52.2L107.5 52.0L106.0 51.6ZM162.0 75.2L164.0 74.2L166.0 74.2L168.0 75.2L169.6 76.0L170.0 76.3L172.0 77.9L172.2 78.0L174.0 79.0L176.0 79.6L178.0 79.8L180.0 80.0L182.0 80.0L184.0 80.0L186.0 80.0L188.0 80.0L190.0 80.0L192.0 80.0L192.0 80.0L192.0 82.0L192.0 84.0L192.0 86.0L192.0 88.0L192.0 90.0L190.0 90.0L188.0 90.0L186.0 90.0L184.0 90.0L182.0 90.0L180.0 90.0L178.0 90.0L176.0 90.0L174.0 90.0L172.0 90.0L170.0 90.0L168.0 90.0L166.0 90.0L164.0 90.0L162.0 90.0L160.0 90.0L160.0 90.0L158.0 90.3L156.0 90.7L154.0 91.9L153.9 92.0L152.0 93.9L151.9 94.0L150.7 96.0L150.4 98.0L150.0 100.0L150.6 102.0L151.1 104.0L152.0 105.5L152.3 106.0L153.7 108.0L154.0 108.6L154.6 110.0L155.3 112.0L155.9 114.0L156.0 114.8L156.2 116.0L156.2 118.0L156.3 120.0L156.5 122.0L156.6 124.0L156.9 126.0L157.7 128.0L158.0 128.5L159.0 130.0L159.9 132.0L160.0 132.3L160.6 134.0L161.5 136.0L162.0 136.7L163.3 138.0L164.0 138.5L166.0 139.1L168.0 139.7L168.8 140.0L169.7 142.0L170.0 142.9L170.3 144.0L171.2 146.0L172.0 147.1L172.7 148.0L174.0 149.2L175.0 150.0L176.0 150.8L177.3 152.0L178.0 152.9L178.8 154.0L179.6 156.0L179.8 158.0L180.0 160.0L180.0 160.0L180.2 162.0L180.4 164.0L181.2 166.0L182.0 167.0L183.0 168.0L184.0 168.8L186.0 169.6L188.0 169.8L190.0 170.0L192.0 170.0L192.0 170.0L192.0 172.0L192.0 174.0L192.0 176.0L192.0 178.0L192.0 180.0L192.0 182.0L190.0 182.0L188.0 182.0L186.0 182.0L184.0 182.0L182.0 182.0L180.0 182.0L178.0 182.0L176.0 182.0L174.0 182.0L172.0 182.0L170.0 182.0L168.0 182.0L166.0 182.0L164.0 182.0L162.0 182.0L160.0 182.0L158.0 182.0L156.0 182.0L154.0 182.0L152.0 182.0L150.0 182.0L148.0 182.0L146.0 182.0L144.9 182.0L144.9 180.0L144.9 178.0L144.9 176.0L145.0 174.0L145.1 172.0L145.1 170.0L145.2 168.0L145.3 166.0L145.3 164.0L145.4 162.0L145.4 160.0L145.4 158.0L145.3 156.0L145.3 154.0L145.2 152.0L145.2 150.0L145.4 148.0L145.7 146.0L146.0 145.5L147.6 144.0L148.0 143.7L150.0 142.0L150.1 142.0L152.0 140.0L152.0 140.0L153.0 138.0L153.6 136.0L153.8 134.0L153.8 132.0L153.8 130.0L153.6 128.0L153.5 126.0L153.4 124.0L153.4 122.0L153.3 120.0L153.2 118.0L153.0 116.0L152.6 114.0L152.0 112.8L151.5 112.0L150.1 110.0L150.0 109.8L148.4 108.0L148.0 107.6L146.0 106.2L145.6 106.0L144.0 104.6L143.1 104.0L142.0 102.3L141.8 102.0L140.1 100.0L140.2 98.0L140.4 96.0L141.0 94.0L142.0 92.4L142.3 92.0L144.0 90.2L144.2 90.0L146.0 88.4L146.4 88.0L148.0 86.4L148.4 86.0L150.0 84.2L150.2 84.0L152.0 82.2L152.2 82.0L154.0 80.6L155.0 80.0L156.0 79.5L158.0 78.1L158.1 78.0L160.0 76.3L160.4 76.0Z"/>
<path fill="#e8f000" stroke="#e8f000" stroke-width="0.6" d="M106.0 18.0L108.0 18.0L110.0 18.0L110.0 20.0L110.0 22.0L110.0 24.0L110.0 24.0L110.0 26.0L110.0 28.0L110.0 30.0L110.2 32.0L110.4 34.0L111.2 36.0L112.0 37.1L112.7 38.0L114.0 39.2L115.0 40.0L116.0 40.8L117.3 42.0L118.0 42.8L118.8 44.0L119.6 46.0L119.8 48.0L120.0 49.9L120.0 50.0L120.5 52.0L121.0 54.0L122.0 55.4L122.5 56.0L124.0 57.2L125.0 58.0L126.0 58.9L126.8 60.0L127.1 62.0L127.4 64.0L127.6 66.0L127.7 68.0L127.8 70.0L128.0 71.1L128.1 72.0L128.4 74.0L128.8 76.0L129.4 78.0L130.0 79.6L130.6 80.0L132.0 81.1L133.5 82.0L134.0 82.2L136.0 82.4L137.3 82.0L138.0 81.8L140.0 81.0L141.0 80.0L142.0 79.3L143.4 78.0L144.0 77.2L145.2 76.0L146.0 75.4L148.0 74.7L150.0 74.0L150.0 74.0L152.0 73.3L154.0 72.3L154.6 72.0L156.0 71.1L157.7 70.0L158.0 69.8L160.0 68.6L162.0 68.2L162.9 68.0L164.0 67.8L166.0 67.7L168.0 67.9L168.5 68.0L170.0 68.2L172.0 68.5L174.0 68.9L176.0 68.8L177.5 68.0L178.0 67.7L180.0 66.3L180.3 66.0L182.0 64.9L183.4 64.0L184.0 63.8L186.0 63.3L188.0 63.2L190.0 63.0L192.0 63.0L192.0 64.0L192.0 66.0L192.0 68.0L192.0 70.0L192.0 72.0L192.0 74.0L192.0 76.0L192.0 78.0L192.0 80.0L190.0 80.0L188.0 80.0L186.0 80.0L184.0 80.0L182.0 80.0L180.0 80.0L178.0 79.8L176.0 79.6L174.0 79.0L172.2 78.0L172.0 77.9L170.0 76.3L169.6 76.0L168.0 75.2L166.0 74.2L164.0 74.2L162.0 75.2L160.4 76.0L160.0 76.3L158.1 78.0L158.0 78.1L156.0 79.5L155.0 80.0L154.0 80.6L152.2 82.0L152.0 82.2L150.2 84.0L150.0 84.2L148.4 86.0L148.0 86.4L146.4 88.0L146.0 88.4L144.2 90.0L144.0 90.2L142.3 92.0L142.0 92.4L141.0 94.0L140.4 96.0L140.2 98.0L140.1 100.0L141.8 102.0L142.0 102.3L143.1 104.0L144.0 104.6L145.6 106.0L146.0 106.2L148.0 107.6L148.4 108.0L150.0 109.8L150.1 110.0L151.5 112.0L152.0 112.8L152.6 114.0L153.0 116.0L153.2 118.0L153.3 120.0L153.4 122.0L153.4 124.0L153.5 126.0L153.6 128.0L153.8 130.0L153.8 132.0L153.8 134.0L153.6 136.0L153.0 138.0L152.0 140.0L152.0 140.0L150.1 142.0L150.0 142.0L148.0 143.7L147.6 144.0L146.0 145.5L145.7 146.0L145.4 148.0L145.2 150.0L145.2 152.0L145.3 154.0L145.3 156.0L145.4 158.0L145.4 160.0L145.4 162.0L145.3 164.0L145.3 166.0L145.2 168.0L145.1 170.0L145.1 172.0L145.0 174.0L144.9 176.0L144.9 178.0L144.9 180.0L144.9 182.0L144.0 182.0L142.0 182.0L141.5 182.0L141.5 180.0L141.5 178.0L141.6 176.0L141.7 174.0L141.9 172.0L142.0 170.1L142.0 170.0L142.2 168.0L142.3 166.0L142.4 164.0L142.4 162.0L142.4 160.0L142.4 158.0L142.4 156.0L142.3 154.0L142.2 152.0L142.0 150.0L142.0 148.0L142.1 146.0L142.6 144.0L143.8 142.0L144.0 141.7L145.6 140.0L146.0 139.6L147.5 138.0L148.0 137.4L148.9 136.0L149.6 134.0L149.9 132.0L150.0 130.9L150.1 130.0L150.2 128.0L150.4 126.0L150.4 124.0L150.4 122.0L150.5 120.0L150.2 118.0L150.0 116.0L150.0 116.0L149.3 114.0L148.0 112.1L148.0 112.0L146.1 110.0L146.0 109.9L144.0 108.3L143.5 108.0L142.0 107.1L140.0 106.1L139.2 106.0L138.0 105.6L136.0 105.0L134.0 104.7L132.0 104.7L130.0 104.6L128.0 104.7L126.0 104.8L124.0 104.8L122.0 104.8L120.0 104.8L118.0 105.0L116.0 105.2L114.0 105.5L112.2 106.0L112.0 106.0L110.0 106.4L108.0 106.2L106.0 106.1L105.8 106.0L104.0 105.0L103.3 104.0L102.8 102.0L102.3 100.0L102.0 98.1L102.0 98.0L101.6 96.0L101.0 94.0L100.2 92.0L100.0 91.5L99.3 90.0L98.0 88.6L97.6 88.0L96.3 86.0L96.0 84.9L95.7 84.0L95.4 82.0L95.1 80.0L95.0 78.0L94.9 76.0L94.7 74.0L94.2 72.0L94.0 71.4L93.4 70.0L92.7 68.0L92.0 66.0L92.0 65.9L91.4 64.0L90.9 62.0L90.3 60.0L90.1 58.0L90.0 57.5L89.5 56.0L88.6 54.0L88.0 52.6L87.8 52.0L87.2 50.0L86.3 48.0L86.0 47.3L84.2 48.0L84.0 48.1L83.6 50.0L83.5 52.0L83.4 54.0L83.3 56.0L83.1 58.0L82.9 60.0L82.0 61.5L81.7 62.0L80.1 64.0L80.0 64.2L79.6 66.0L79.3 68.0L79.0 70.0L79.0 72.0L79.0 74.0L79.0 76.0L79.2 78.0L79.4 80.0L80.0 81.6L80.2 82.0L81.3 84.0L82.0 85.6L82.1 86.0L82.6 88.0L83.0 90.0L83.1 92.0L83.2 94.0L83.3 96.0L83.3 98.0L83.3 100.0L83.5 102.0L83.6 104.0L84.0 105.9L84.0 106.0L84.7 108.0L85.4 110.0L85.7 112.0L86.0 114.0L86.0 114.2L86.2 116.0L86.6 118.0L86.8 120.0L86.8 122.0L86.8 124.0L86.2 126.0L86.0 126.4L84.8 128.0L84.0 129.2L83.3 130.0L82.0 131.9L81.9 132.0L80.9 134.0L80.3 136.0L80.2 138.0L80.0 139.8L80.0 140.0L79.8 142.0L79.7 144.0L79.2 146.0L78.3 148.0L78.0 148.5L77.0 150.0L76.0 151.1L74.3 152.0L74.0 152.2L72.0 152.5L70.0 152.9L68.0 152.9L66.0 152.9L64.0 152.7L62.0 152.4L60.0 152.0L60.0 152.0L58.0 151.1L56.3 150.0L56.0 149.9L54.3 148.0L54.0 147.6L53.2 146.0L52.1 144.0L52.0 143.8L51.0 142.0L50.0 140.0L50.0 140.0L49.4 138.0L48.8 136.0L48.2 134.0L48.0 133.4L47.4 132.0L46.2 130.0L46.0 129.6L45.2 128.0L44.0 126.2L43.9 126.0L42.7 124.0L42.0 122.2L41.9 122.0L41.1 120.0L40.5 118.0L40.0 116.3L39.9 116.0L39.0 114.0L38.0 112.8L37.3 112.0L36.0 110.8L35.0 110.0L34.0 109.3L32.4 108.0L32.0 107.7L30.4 106.0L30.0 105.6L28.4 104.0L28.0 103.7L26.0 102.2L25.6 102.0L24.0 101.0L22.6 100.0L22.0 99.5L20.4 98.0L20.0 97.5L18.8 96.0L18.0 95.0L17.2 94.0L16.0 92.9L14.0 92.0L13.8 92.0L12.0 91.8L10.0 91.5L8.0 91.5L8.0 90.0L8.0 88.5L10.0 88.5L12.0 88.7L14.0 88.8L16.0 89.4L17.0 90.0L18.0 90.7L19.5 92.0L20.0 92.5L21.2 94.0L22.0 95.1L22.7 96.0L24.0 97.3L25.1 98.0L26.0 98.6L28.0 99.7L28.4 100.0L30.0 101.1L31.4 102.0L32.0 102.5L33.5 104.0L34.0 104.5L36.0 106.0L36.1 106.0L38.0 106.9L39.7 108.0L40.0 108.2L41.9 110.0L42.0 110.2L43.0 112.0L43.8 114.0L44.0 114.7L44.5 116.0L45.3 118.0L46.0 119.9L46.0 120.0L46.9 122.0L47.5 124.0L48.0 125.3L48.2 126.0L48.9 128.0L49.4 130.0L50.0 131.7L50.1 132.0L50.9 134.0L51.7 136.0L52.0 136.6L52.7 138.0L53.8 140.0L54.0 140.4L55.5 142.0L56.0 142.5L58.0 143.7L58.5 144.0L60.0 145.0L62.0 145.8L62.4 146.0L64.0 146.6L66.0 147.0L68.0 147.0L70.0 147.1L72.0 146.6L73.8 146.0L74.0 145.9L75.3 144.0L75.8 142.0L76.0 140.8L76.1 140.0L76.2 138.0L76.3 136.0L76.6 134.0L77.2 132.0L78.0 130.3L78.2 130.0L79.8 128.0L80.0 127.8L81.5 126.0L82.0 125.0L82.6 124.0L82.3 122.0L82.0 120.1L82.0 120.0L81.2 118.0L80.6 116.0L80.2 114.0L80.0 112.2L80.0 112.0L79.7 110.0L79.3 108.0L79.0 106.0L78.9 104.0L78.9 102.0L78.9 100.0L78.9 98.0L78.9 96.0L78.7 94.0L78.4 92.0L78.1 90.0L78.0 89.4L77.7 88.0L77.3 86.0L76.9 84.0L76.4 82.0L76.1 80.0L76.0 78.9L75.9 78.0L75.8 76.0L75.8 74.0L75.7 72.0L75.7 70.0L75.8 68.0L75.9 66.0L76.0 65.4L76.1 64.0L76.4 62.0L76.8 60.0L76.9 58.0L77.0 56.0L77.0 54.0L77.0 52.0L77.0 50.0L77.1 48.0L77.2 46.0L77.6 44.0L78.0 43.0L78.5 42.0L80.0 40.0L80.0 40.0L82.0 38.7L83.8 38.0L84.0 37.9L86.0 37.9L86.2 38.0L88.0 38.7L90.0 40.0L90.0 40.0L91.7 42.0L92.0 42.5L92.7 44.0L93.5 46.0L94.0 47.1L94.5 48.0L95.5 50.0L96.0 51.7L96.1 52.0L96.5 54.0L96.5 56.0L96.2 58.0L96.0 59.7L96.0 60.0L96.0 60.8L96.0 62.0L96.1 64.0L96.3 66.0L96.5 68.0L96.8 70.0L97.0 72.0L97.3 74.0L97.4 76.0L97.5 78.0L97.5 80.0L97.8 82.0L98.0 83.0L98.2 84.0L99.0 86.0L100.0 87.2L101.1 88.0L102.0 88.7L103.3 90.0L103.9 92.0L104.0 92.5L104.5 94.0L105.0 96.0L105.3 98.0L105.6 100.0L106.0 100.8L108.0 101.9L108.2 102.0L110.0 102.8L111.5 102.0L112.0 101.8L114.0 100.8L116.0 100.3L118.0 100.2L119.7 100.0L120.0 100.0L122.0 99.7L124.0 99.5L126.0 98.5L126.6 98.0L128.0 96.4L128.3 96.0L128.5 94.0L128.0 92.6L127.8 92.0L127.1 90.0L126.5 88.0L126.0 86.0L126.4 84.0L127.0 82.0L127.3 80.0L126.9 78.0L126.7 76.0L126.4 74.0L126.0 72.1L126.0 72.0L125.4 70.0L125.2 68.0L124.9 66.0L124.4 64.0L124.0 62.4L123.8 62.0L122.9 60.0L122.0 59.4L120.2 58.0L120.0 57.8L118.3 56.0L118.0 55.5L117.1 54.0L116.6 52.0L116.1 50.0L116.0 49.3L115.6 48.0L115.1 46.0L114.0 44.6L113.1 44.0L112.0 43.4L110.1 42.0L110.0 41.9L108.0 40.0L108.0 40.0L107.0 38.0L106.4 36.0L106.1 34.0L106.1 32.0L106.0 30.5L106.0 30.0L106.0 28.0L106.0 26.0L106.0 24.0L106.0 22.0L106.0 20.0L106.0 18.0Z"/>
<path fill="#ffd800" stroke="#ffd800" stroke-width="0.6" d="M110.0 18.0L112.0 18.0L114.0 18.0L114.0 18.0L114.0 20.0L114.0 22.0L114.0 24.0L114.0 26.0L114.0 28.0L114.1 30.0L114.6 32.0L115.1 34.0L116.0 35.2L117.1 36.0L118.0 36.5L120.0 38.0L120.0 38.0L122.0 40.0L122.0 40.0L123.0 42.0L123.6 44.0L123.9 46.0L124.0 48.0L124.0 49.0L124.1 50.0L125.0 52.0L125.8 54.0L126.0 54.2L127.8 56.0L128.0 56.2L129.1 58.0L129.8 60.0L129.9 62.0L130.0 64.0L130.0 65.1L130.1 66.0L130.2 68.0L130.4 70.0L131.3 72.0L132.0 73.6L132.2 74.0L134.0 76.0L134.0 76.0L136.0 76.4L137.1 76.0L138.0 75.6L140.0 74.8L140.7 74.0L142.0 72.5L142.6 72.0L144.0 71.3L146.0 70.7L148.0 70.3L149.9 70.0L150.0 70.0L151.6 68.0L152.0 67.6L154.0 66.3L154.6 66.0L156.0 64.9L157.0 64.0L158.0 62.7L158.6 62.0L160.0 60.8L162.0 60.5L164.0 60.2L166.0 60.0L166.0 60.0L168.0 60.0L170.0 60.0L172.0 59.8L174.0 59.6L176.0 59.1L178.0 58.5L179.9 58.0L180.0 58.0L182.0 57.6L184.0 57.3L186.0 57.1L188.0 57.0L190.0 57.0L192.0 57.0L192.0 58.0L192.0 60.0L192.0 62.0L192.0 63.0L190.0 63.0L188.0 63.2L186.0 63.3L184.0 63.8L183.4 64.0L182.0 64.9L180.3 66.0L180.0 66.3L178.0 67.7L177.5 68.0L176.0 68.8L174.0 68.9L172.0 68.5L170.0 68.2L168.5 68.0L168.0 67.9L166.0 67.7L164.0 67.8L162.9 68.0L162.0 68.2L160.0 68.6L158.0 69.8L157.7 70.0L156.0 71.1L154.6 72.0L154.0 72.3L152.0 73.3L150.0 74.0L150.0 74.0L148.0 74.7L146.0 75.4L145.2 76.0L144.0 77.2L143.4 78.0L142.0 79.3L141.0 80.0L140.0 81.0L138.0 81.8L137.3 82.0L136.0 82.4L134.0 82.2L133.5 82.0L132.0 81.1L130.6 80.0L130.0 79.6L129.4 78.0L128.8 76.0L128.4 74.0L128.1 72.0L128.0 71.1L127.8 70.0L127.7 68.0L127.6 66.0L127.4 64.0L127.1 62.0L126.8 60.0L126.0 58.9L125.0 58.0L124.0 57.2L122.5 56.0L122.0 55.4L121.0 54.0L120.5 52.0L120.0 50.0L120.0 49.9L119.8 48.0L119.6 46.0L118.8 44.0L118.0 42.8L117.3 42.0L116.0 40.8L115.0 40.0L114.0 39.2L112.7 38.0L112.0 37.1L111.2 36.0L110.4 34.0L110.2 32.0L110.0 30.0L110.0 28.0L110.0 26.0L110.0 24.0L110.0 24.0L110.0 22.0L110.0 20.0L110.0 18.0ZM86.0 47.3L86.3 48.0L87.2 50.0L87.8 52.0L88.0 52.6L88.6 54.0L89.5 56.0L90.0 57.5L90.1 58.0L90.3 60.0L90.9 62.0L91.4 64.0L92.0 65.9L92.0 66.0L92.7 68.0L93.4 70.0L94.0 71.4L94.2 72.0L94.7 74.0L94.9 76.0L95.0 78.0L95.1 80.0L95.4 82.0L95.7 84.0L96.0 84.9L96.3 86.0L97.6 88.0L98.0 88.6L99.3 90.0L100.0 91.5L100.2 92.0L101.0 94.0L101.6 96.0L102.0 98.0L102.0 98.1L102.3 100.0L102.8 102.0L103.3 104.0L104.0 105.0L105.8 106.0L106.0 106.1L108.0 106.2L110.0 106.4L112.0 106.0L112.2 106.0L114.0 105.5L116.0 105.2L118.0 105.0L120.0 104.8L122.0 104.8L124.0 104.8L126.0 104.8L128.0 104.7L130.0 104.6L132.0 104.7L134.0 104.7L136.0 105.0L138.0 105.6L139.2 106.0L140.0 106.1L142.0 107.1L143.5 108.0L144.0 108.3L146.0 109.9L146.1 110.0L148.0 112.0L148.0 112.1L149.3 114.0L150.0 116.0L150.0 116.0L150.2 118.0L150.5 120.0L150.4 122.0L150.4 124.0L150.4 126.0L150.2 128.0L150.1 130.0L150.0 130.9L149.9 132.0L149.6 134.0L148.9 136.0L148.0 137.4L147.5 138.0L146.0 139.6L145.6 140.0L144.0 141.7L143.8 142.0L142.6 144.0L142.1 146.0L142.0 148.0L142.0 150.0L142.2 152.0L142.3 154.0L142.4 156.0L142.4 158.0L142.4 160.0L142.4 162.0L142.4 164.0L142.3 166.0L142.2 168.0L142.0 170.0L142.0 170.1L141.9 172.0L141.7 174.0L141.6 176.0L141.5 178.0L141.5 180.0L141.5 182.0L140.0 182.0L138.5 182.0L138.5 180.0L138.6 178.0L138.6 176.0L138.8 174.0L139.1 172.0L139.3 170.0L139.6 168.0L139.8 166.0L139.9 164.0L140.0 162.0L140.0 160.0L140.0 158.0L139.9 156.0L139.8 154.0L139.6 152.0L139.4 150.0L139.2 148.0L139.1 146.0L139.3 144.0L140.0 142.2L140.1 142.0L141.1 140.0L142.0 138.7L142.6 138.0L144.0 136.5L144.5 136.0L145.7 134.0L146.0 133.2L146.3 132.0L146.7 130.0L147.1 128.0L147.5 126.0L147.7 124.0L147.7 122.0L147.8 120.0L147.5 118.0L147.3 116.0L146.4 114.0L146.0 113.5L144.3 112.0L144.0 111.7L142.3 110.0L142.0 109.8L140.0 108.5L138.0 108.2L137.1 108.0L136.0 107.8L134.0 107.6L132.0 107.6L130.0 107.5L128.0 107.5L126.0 107.4L124.0 107.4L122.0 107.4L120.0 107.4L118.0 107.6L116.0 107.7L114.0 107.9L112.9 108.0L112.0 108.1L110.0 108.3L108.0 108.3L106.0 108.3L104.0 108.0L103.9 108.0L102.0 107.2L100.8 106.0L100.2 104.0L100.0 102.6L99.7 102.0L99.0 100.0L98.0 98.3L97.9 98.0L97.1 96.0L96.5 94.0L96.0 92.5L95.8 92.0L95.0 90.0L94.0 88.9L92.8 88.0L92.0 86.9L91.6 86.0L91.2 84.0L91.3 82.0L91.3 80.0L91.1 78.0L91.0 76.0L90.4 74.0L90.0 73.2L88.0 72.1L87.8 72.0L86.0 70.2L84.2 72.0L84.0 72.3L83.7 74.0L83.6 76.0L83.8 78.0L84.0 79.4L84.1 80.0L85.8 82.0L86.0 82.2L87.7 84.0L88.0 85.1L88.2 86.0L88.2 88.0L88.2 90.0L88.2 92.0L88.2 94.0L88.2 96.0L88.2 98.0L88.2 100.0L88.3 102.0L88.4 104.0L88.7 106.0L89.0 108.0L89.3 110.0L89.4 112.0L89.5 114.0L89.5 116.0L89.7 118.0L89.7 120.0L89.5 122.0L89.3 124.0L88.6 126.0L88.0 127.0L87.4 128.0L86.4 130.0L86.0 130.9L85.4 132.0L84.3 134.0L84.0 134.9L83.6 136.0L83.4 138.0L83.2 140.0L83.1 142.0L83.1 144.0L82.9 146.0L82.6 148.0L82.2 150.0L82.0 150.8L81.7 152.0L80.9 154.0L80.0 155.8L79.8 156.0L78.0 158.0L78.0 158.0L76.0 159.5L75.0 160.0L74.0 160.8L72.8 162.0L72.0 162.9L71.2 164.0L70.4 166.0L70.2 168.0L70.0 170.0L70.0 172.0L70.0 174.0L70.0 176.0L70.0 178.0L70.0 180.0L70.0 182.0L70.0 182.0L68.0 182.0L66.0 182.0L64.0 182.0L62.0 182.0L60.0 182.0L58.0 182.0L56.0 182.0L54.0 182.0L52.0 182.0L50.0 182.0L48.0 182.0L46.0 182.0L44.0 182.0L42.0 182.0L40.0 182.0L40.0 182.0L40.0 180.0L40.0 178.0L40.0 176.0L40.0 176.0L40.0 174.0L40.0 172.0L40.0 170.0L40.2 168.0L40.4 166.0L41.2 164.0L42.0 162.9L42.8 162.0L44.0 160.8L45.0 160.0L46.0 159.4L47.6 158.0L48.0 157.6L49.0 156.0L49.5 154.0L49.5 152.0L49.5 150.0L49.1 148.0L48.8 146.0L48.4 144.0L48.0 142.3L47.9 142.0L47.5 140.0L47.0 138.0L46.6 136.0L46.0 134.3L45.9 134.0L44.4 132.0L44.0 131.4L42.9 130.0L42.0 128.6L41.5 128.0L40.0 126.2L39.7 126.0L38.0 124.3L37.8 124.0L37.0 122.0L36.4 120.0L36.0 118.5L35.8 118.0L35.1 116.0L34.0 114.7L33.0 114.0L32.0 113.5L30.0 112.0L29.9 112.0L28.0 110.1L28.0 110.0L26.3 108.0L26.0 107.5L24.9 106.0L24.0 105.3L22.0 104.2L21.7 104.0L20.0 103.0L18.4 102.0L18.0 101.6L17.0 100.0L16.0 98.6L15.5 98.0L14.1 96.0L14.0 95.9L12.0 95.4L10.0 94.9L8.0 94.9L8.0 94.0L8.0 92.0L8.0 91.5L10.0 91.5L12.0 91.8L13.8 92.0L14.0 92.0L16.0 92.9L17.2 94.0L18.0 95.0L18.8 96.0L20.0 97.5L20.4 98.0L22.0 99.5L22.6 100.0L24.0 101.0L25.6 102.0L26.0 102.2L28.0 103.7L28.4 104.0L30.0 105.6L30.4 106.0L32.0 107.7L32.4 108.0L34.0 109.3L35.0 110.0L36.0 110.8L37.3 112.0L38.0 112.8L39.0 114.0L39.9 116.0L40.0 116.3L40.5 118.0L41.1 120.0L41.9 122.0L42.0 122.2L42.7 124.0L43.9 126.0L44.0 126.2L45.2 128.0L46.0 129.6L46.2 130.0L47.4 132.0L48.0 133.4L48.2 134.0L48.8 136.0L49.4 138.0L50.0 140.0L50.0 140.0L51.0 142.0L52.0 143.8L52.1 144.0L53.2 146.0L54.0 147.6L54.3 148.0L56.0 149.9L56.3 150.0L58.0 151.1L60.0 152.0L60.0 152.0L62.0 152.4L64.0 152.7L66.0 152.9L68.0 152.9L70.0 152.9L72.0 152.5L74.0 152.2L74.3 152.0L76.0 151.1L77.0 150.0L78.0 148.5L78.3 148.0L79.2 146.0L79.7 144.0L79.8 142.0L80.0 140.0L80.0 139.8L80.2 138.0L80.3 136.0L80.9 134.0L81.9 132.0L82.0 131.9L83.3 130.0L84.0 129.2L84.8 128.0L86.0 126.4L86.2 126.0L86.8 124.0L86.8 122.0L86.8 120.0L86.6 118.0L86.2 116.0L86.0 114.2L86.0 114.0L85.7 112.0L85.4 110.0L84.7 108.0L84.0 106.0L84.0 105.9L83.6 104.0L83.5 102.0L83.3 100.0L83.3 98.0L83.3 96.0L83.2 94.0L83.1 92.0L83.0 90.0L82.6 88.0L82.1 86.0L82.0 85.6L81.3 84.0L80.2 82.0L80.0 81.6L79.4 80.0L79.2 78.0L79.0 76.0L79.0 74.0L79.0 72.0L79.0 70.0L79.3 68.0L79.6 66.0L80.0 64.2L80.1 64.0L81.7 62.0L82.0 61.5L82.9 60.0L83.1 58.0L83.3 56.0L83.4 54.0L83.5 52.0L83.6 50.0L84.0 48.1L84.2 48.0Z"/>
<path fill="#ff9500" stroke="#ff9500" stroke-width="0.6" d="M116.0 18.0L118.0 18.0L120.0 18.0L122.0 18.0L124.0 18.0L126.0 18.0L128.0 18.0L130.0 18.0L132.0 18.0L134.0 18.0L136.0 18.0L138.0 18.0L140.0 18.0L142.0 18.0L144.0 18.0L146.0 18.0L148.0 18.0L150.0 18.0L152.0 18.0L154.0 18.0L156.0 18.0L158.0 18.0L160.0 18.0L162.0 18.0L164.0 18.0L166.0 18.0L168.0 18.0L170.0 18.0L170.0 20.0L169.8 22.0L169.6 24.0L168.8 26.0L168.0 27.0L167.0 28.0L166.0 28.8L164.0 29.6L162.0 29.8L160.0 30.0L158.0 30.0L156.0 30.0L154.0 29.9L152.0 29.6L150.0 29.4L148.0 28.4L147.0 28.0L146.0 27.6L144.0 26.8L142.5 26.0L142.0 25.7L140.0 24.2L138.7 26.0L138.1 28.0L138.0 28.4L137.6 30.0L137.6 32.0L137.5 34.0L137.5 36.0L137.5 38.0L137.5 40.0L137.7 42.0L137.8 44.0L138.0 44.6L138.4 46.0L139.8 48.0L140.0 48.2L141.8 50.0L142.0 50.2L144.0 51.6L145.4 52.0L146.0 52.2L148.0 52.3L150.0 52.5L152.0 52.4L154.0 52.2L155.4 52.0L156.0 51.9L158.0 51.3L160.0 50.5L162.0 50.2L162.8 50.0L164.0 49.7L166.0 48.8L167.1 48.0L168.0 47.3L169.2 46.0L170.0 45.0L170.7 44.0L172.0 42.6L172.6 42.0L174.0 40.7L175.0 40.0L176.0 39.2L177.4 38.0L178.0 37.4L179.2 36.0L180.0 35.0L180.8 34.0L182.0 32.7L182.9 32.0L184.0 31.2L186.0 30.4L188.0 30.2L190.0 30.0L192.0 30.0L192.0 32.0L192.0 34.0L192.0 36.0L192.0 38.0L192.0 40.0L192.0 42.0L192.0 44.0L192.0 46.0L192.0 48.0L192.0 50.0L192.0 52.0L192.0 54.0L192.0 56.0L192.0 57.0L190.0 57.0L188.0 57.0L186.0 57.1L184.0 57.3L182.0 57.6L180.0 58.0L179.9 58.0L178.0 58.5L176.0 59.1L174.0 59.6L172.0 59.8L170.0 60.0L168.0 60.0L166.0 60.0L166.0 60.0L164.0 60.2L162.0 60.5L160.0 60.8L158.6 62.0L158.0 62.7L157.0 64.0L156.0 64.9L154.6 66.0L154.0 66.3L152.0 67.6L151.6 68.0L150.0 70.0L149.9 70.0L148.0 70.3L146.0 70.7L144.0 71.3L142.6 72.0L142.0 72.5L140.7 74.0L140.0 74.8L138.0 75.6L137.1 76.0L136.0 76.4L134.0 76.0L134.0 76.0L132.2 74.0L132.0 73.6L131.3 72.0L130.4 70.0L130.2 68.0L130.1 66.0L130.0 65.1L130.0 64.0L129.9 62.0L129.8 60.0L129.1 58.0L128.0 56.2L127.8 56.0L126.0 54.2L125.8 54.0L125.0 52.0L124.1 50.0L124.0 49.0L124.0 48.0L123.9 46.0L123.6 44.0L123.0 42.0L122.0 40.0L122.0 40.0L120.0 38.0L120.0 38.0L118.0 36.5L117.1 36.0L116.0 35.2L115.1 34.0L114.6 32.0L114.1 30.0L114.0 28.0L114.0 26.0L114.0 24.0L114.0 22.0L114.0 20.0L114.0 18.0ZM86.0 70.2L87.8 72.0L88.0 72.1L90.0 73.2L90.4 74.0L91.0 76.0L91.1 78.0L91.3 80.0L91.3 82.0L91.2 84.0L91.6 86.0L92.0 86.9L92.8 88.0L94.0 88.9L95.0 90.0L95.8 92.0L96.0 92.5L96.5 94.0L97.1 96.0L97.9 98.0L98.0 98.3L99.0 100.0L99.7 102.0L100.0 102.6L100.2 104.0L100.8 106.0L102.0 107.2L103.9 108.0L104.0 108.0L106.0 108.3L108.0 108.3L110.0 108.3L112.0 108.1L112.9 108.0L114.0 107.9L116.0 107.7L118.0 107.6L120.0 107.4L122.0 107.4L124.0 107.4L126.0 107.4L128.0 107.5L130.0 107.5L132.0 107.6L134.0 107.6L136.0 107.8L137.1 108.0L138.0 108.2L140.0 108.5L142.0 109.8L142.3 110.0L144.0 111.7L144.3 112.0L146.0 113.5L146.4 114.0L147.3 116.0L147.5 118.0L147.8 120.0L147.7 122.0L147.7 124.0L147.5 126.0L147.1 128.0L146.7 130.0L146.3 132.0L146.0 133.2L145.7 134.0L144.5 136.0L144.0 136.5L142.6 138.0L142.0 138.7L141.1 140.0L140.1 142.0L140.0 142.2L139.3 144.0L139.1 146.0L139.2 148.0L139.4 150.0L139.6 152.0L139.8 154.0L139.9 156.0L140.0 158.0L140.0 160.0L140.0 162.0L139.9 164.0L139.8 166.0L139.6 168.0L139.3 170.0L139.1 172.0L138.8 174.0L138.6 176.0L138.6 178.0L138.5 180.0L138.5 182.0L138.0 182.0L136.0 182.0L135.1 182.0L135.1 180.0L135.3 178.0L135.4 176.0L135.8 174.0L136.0 173.5L136.3 172.0L136.7 170.0L137.0 168.0L137.3 166.0L137.5 164.0L137.5 162.0L137.6 160.0L137.5 158.0L137.5 156.0L137.3 154.0L137.0 152.0L136.7 150.0L136.5 148.0L136.2 146.0L136.1 144.0L136.3 142.0L136.7 140.0L137.4 138.0L138.0 136.7L138.5 136.0L140.0 134.0L140.0 134.0L140.9 132.0L141.9 130.0L142.0 129.7L142.7 128.0L143.9 126.0L144.0 125.7L144.4 124.0L144.5 122.0L144.7 120.0L144.2 118.0L144.0 117.0L143.6 116.0L142.0 114.5L141.6 114.0L140.0 112.4L138.9 112.0L138.0 111.7L136.0 110.8L134.0 110.1L132.6 110.0L132.0 110.0L130.0 109.9L128.0 109.8L126.0 109.7L124.0 109.7L122.0 109.7L120.0 109.7L118.0 109.8L116.0 109.9L115.1 110.0L114.0 110.2L112.0 110.6L110.0 110.9L108.0 111.2L106.0 111.6L105.0 112.0L104.0 112.5L102.4 114.0L102.0 114.4L100.5 116.0L100.0 116.4L98.0 117.7L97.6 118.0L96.0 119.8L95.9 120.0L94.0 121.5L93.6 122.0L92.5 124.0L92.0 124.9L91.4 126.0L90.0 127.6L89.7 128.0L88.6 130.0L88.0 131.9L88.0 132.0L87.2 134.0L86.7 136.0L86.5 138.0L86.3 140.0L86.3 142.0L86.3 144.0L86.3 146.0L86.3 148.0L86.3 150.0L86.5 152.0L86.8 154.0L87.2 156.0L87.5 158.0L87.9 160.0L88.0 160.6L88.3 162.0L89.0 164.0L89.5 166.0L89.7 168.0L90.0 170.0L90.0 172.0L90.0 174.0L90.0 176.0L90.0 178.0L90.0 180.0L90.0 182.0L88.0 182.0L86.0 182.0L84.0 182.0L82.0 182.0L80.0 182.0L78.0 182.0L76.0 182.0L74.0 182.0L72.0 182.0L70.0 182.0L70.0 180.0L70.0 178.0L70.0 176.0L70.0 174.0L70.0 172.0L70.0 170.0L70.2 168.0L70.4 166.0L71.2 164.0L72.0 162.9L72.8 162.0L74.0 160.8L75.0 160.0L76.0 159.5L78.0 158.0L78.0 158.0L79.8 156.0L80.0 155.8L80.9 154.0L81.7 152.0L82.0 150.8L82.2 150.0L82.6 148.0L82.9 146.0L83.1 144.0L83.1 142.0L83.2 140.0L83.4 138.0L83.6 136.0L84.0 134.9L84.3 134.0L85.4 132.0L86.0 130.9L86.4 130.0L87.4 128.0L88.0 127.0L88.6 126.0L89.3 124.0L89.5 122.0L89.7 120.0L89.7 118.0L89.5 116.0L89.5 114.0L89.4 112.0L89.3 110.0L89.0 108.0L88.7 106.0L88.4 104.0L88.3 102.0L88.2 100.0L88.2 98.0L88.2 96.0L88.2 94.0L88.2 92.0L88.2 90.0L88.2 88.0L88.2 86.0L88.0 85.1L87.7 84.0L86.0 82.2L85.8 82.0L84.1 80.0L84.0 79.4L83.8 78.0L83.6 76.0L83.7 74.0L84.0 72.3L84.2 72.0ZM10.0 94.9L12.0 95.4L14.0 95.9L14.1 96.0L15.5 98.0L16.0 98.6L17.0 100.0L18.0 101.6L18.4 102.0L20.0 103.0L21.7 104.0L22.0 104.2L24.0 105.3L24.9 106.0L26.0 107.5L26.3 108.0L28.0 110.0L28.0 110.1L29.9 112.0L30.0 112.0L32.0 113.5L33.0 114.0L34.0 114.7L35.1 116.0L35.8 118.0L36.0 118.5L36.4 120.0L37.0 122.0L37.8 124.0L38.0 124.3L39.7 126.0L40.0 126.2L41.5 128.0L42.0 128.6L42.9 130.0L44.0 131.4L44.4 132.0L45.9 134.0L46.0 134.3L46.6 136.0L47.0 138.0L47.5 140.0L47.9 142.0L48.0 142.3L48.4 144.0L48.8 146.0L49.1 148.0L49.5 150.0L49.5 152.0L49.5 154.0L49.0 156.0L48.0 157.6L47.6 158.0L46.0 159.4L45.0 160.0L44.0 160.8L42.8 162.0L42.0 162.9L41.2 164.0L40.4 166.0L40.2 168.0L40.0 170.0L40.0 172.0L40.0 174.0L40.0 176.0L40.0 176.0L40.0 178.0L40.0 180.0L40.0 182.0L38.0 182.0L36.0 182.0L34.0 182.0L32.0 182.0L30.0 182.0L28.0 182.0L26.0 182.0L24.0 182.0L22.0 182.0L20.0 182.0L18.0 182.0L16.0 182.0L14.0 182.0L12.0 182.0L10.0 182.0L8.0 182.0L8.0 180.0L8.0 178.0L8.0 176.0L8.0 174.0L8.0 172.0L8.0 170.0L8.0 168.0L8.0 166.0L8.0 164.0L8.0 162.0L8.0 160.0L8.0 158.0L8.0 156.0L8.0 154.0L8.0 152.0L8.0 150.0L8.0 148.0L8.0 146.0L8.0 144.0L8.0 142.0L8.0 140.0L8.0 138.0L8.0 136.0L8.0 134.0L8.0 132.0L8.0 130.0L8.0 128.0L8.0 126.0L8.0 124.0L8.0 122.0L8.0 120.0L8.0 118.0L8.0 116.0L8.0 114.0L8.0 112.0L8.0 110.0L8.0 108.0L8.0 106.0L8.0 104.0L8.0 102.0L8.0 100.0L8.0 98.0L8.0 96.0L8.0 94.9ZM28.3 130.0L28.1 132.0L28.0 132.7L27.9 134.0L28.0 135.5L28.0 136.0L28.6 138.0L29.4 140.0L29.7 142.0L30.0 143.3L30.1 144.0L30.7 146.0L31.5 148.0L32.0 149.3L32.3 150.0L34.0 151.4L35.8 152.0L36.0 152.0L38.0 152.2L40.0 152.3L41.0 152.0L42.0 151.7L44.0 150.9L44.8 150.0L45.0 148.0L45.1 146.0L45.0 144.0L44.7 142.0L44.5 140.0L44.0 138.1L43.9 138.0L43.0 136.0L42.0 134.6L41.7 134.0L40.4 132.0L40.0 131.1L38.6 130.0L38.0 129.8L36.0 128.8L34.0 128.1L32.0 128.2L30.0 128.3Z"/>
<path fill="#ff4c00" stroke="#ff4c00" stroke-width="0.6" d="M170.0 18.0L172.0 18.0L174.0 18.0L176.0 18.0L178.0 18.0L180.0 18.0L182.0 18.0L184.0 18.0L186.0 18.0L188.0 18.0L190.0 18.0L192.0 18.0L192.0 20.0L192.0 22.0L192.0 24.0L192.0 26.0L192.0 28.0L192.0 30.0L192.0 30.0L190.0 30.0L188.0 30.2L186.0 30.4L184.0 31.2L182.9 32.0L182.0 32.7L180.8 34.0L180.0 35.0L179.2 36.0L178.0 37.4L177.4 38.0L176.0 39.2L175.0 40.0L174.0 40.7L172.6 42.0L172.0 42.6L170.7 44.0L170.0 45.0L169.2 46.0L168.0 47.3L167.1 48.0L166.0 48.8L164.0 49.7L162.8 50.0L162.0 50.2L160.0 50.5L158.0 51.3L156.0 51.9L155.4 52.0L154.0 52.2L152.0 52.4L150.0 52.5L148.0 52.3L146.0 52.2L145.4 52.0L144.0 51.6L142.0 50.2L141.8 50.0L140.0 48.2L139.8 48.0L138.4 46.0L138.0 44.6L137.8 44.0L137.7 42.0L137.5 40.0L137.5 38.0L137.5 36.0L137.5 34.0L137.6 32.0L137.6 30.0L138.0 28.4L138.1 28.0L138.7 26.0L140.0 24.2L142.0 25.7L142.5 26.0L144.0 26.8L146.0 27.6L147.0 28.0L148.0 28.4L150.0 29.4L152.0 29.6L154.0 29.9L156.0 30.0L158.0 30.0L160.0 30.0L162.0 29.8L164.0 29.6L166.0 28.8L167.0 28.0L168.0 27.0L168.8 26.0L169.6 24.0L169.8 22.0L170.0 20.0L170.0 18.0ZM116.0 109.9L118.0 109.8L120.0 109.7L122.0 109.7L124.0 109.7L126.0 109.7L128.0 109.8L130.0 109.9L132.0 110.0L132.6 110.0L134.0 110.1L136.0 110.8L138.0 111.7L138.9 112.0L140.0 112.4L141.6 114.0L142.0 114.5L143.6 116.0L144.0 117.0L144.2 118.0L144.7 120.0L144.5 122.0L144.4 124.0L144.0 125.7L143.9 126.0L142.7 128.0L142.0 129.7L141.9 130.0L140.9 132.0L140.0 134.0L140.0 134.0L138.5 136.0L138.0 136.7L137.4 138.0L136.7 140.0L136.3 142.0L136.1 144.0L136.2 146.0L136.5 148.0L136.7 150.0L137.0 152.0L137.3 154.0L137.5 156.0L137.5 158.0L137.6 160.0L137.5 162.0L137.5 164.0L137.3 166.0L137.0 168.0L136.7 170.0L136.3 172.0L136.0 173.5L135.8 174.0L135.4 176.0L135.3 178.0L135.1 180.0L135.1 182.0L134.0 182.0L132.0 182.0L130.0 182.0L128.0 182.0L126.0 182.0L124.0 182.0L122.0 182.0L120.0 182.0L118.0 182.0L116.0 182.0L114.0 182.0L112.0 182.0L110.0 182.0L108.0 182.0L106.0 182.0L104.0 182.0L102.0 182.0L100.0 182.0L98.0 182.0L96.0 182.0L94.0 182.0L92.0 182.0L90.0 182.0L90.0 182.0L90.0 180.0L90.0 178.0L90.0 176.0L90.0 174.0L90.0 172.0L90.0 170.0L89.7 168.0L89.5 166.0L89.0 164.0L88.3 162.0L88.0 160.6L87.9 160.0L87.5 158.0L87.2 156.0L86.8 154.0L86.5 152.0L86.3 150.0L86.3 148.0L86.3 146.0L86.3 144.0L86.3 142.0L86.3 140.0L86.5 138.0L86.7 136.0L87.2 134.0L88.0 132.0L88.0 131.9L88.6 130.0L89.7 128.0L90.0 127.6L91.4 126.0L92.0 124.9L92.5 124.0L93.6 122.0L94.0 121.5L95.9 120.0L96.0 119.8L97.6 118.0L98.0 117.7L100.0 116.4L100.5 116.0L102.0 114.4L102.4 114.0L104.0 112.5L105.0 112.0L106.0 111.6L108.0 111.2L110.0 110.9L112.0 110.6L114.0 110.2L115.1 110.0ZM116.5 116.0L116.0 116.4L114.0 117.2L112.0 117.7L111.0 118.0L110.0 118.3L108.2 120.0L108.0 120.6L107.6 122.0L107.1 124.0L106.6 126.0L106.2 128.0L106.0 128.6L104.0 128.9L103.7 128.0L102.9 126.0L102.0 124.9L101.0 124.0L100.0 123.6L99.3 124.0L98.0 124.8L96.0 125.6L95.7 126.0L94.1 128.0L94.0 128.0L92.4 130.0L92.0 130.9L91.4 132.0L90.0 133.8L90.0 134.0L89.6 136.0L89.6 138.0L89.5 140.0L89.5 142.0L89.5 144.0L89.6 146.0L89.7 148.0L89.8 150.0L90.0 150.5L91.2 152.0L92.0 153.3L92.3 154.0L93.0 156.0L93.6 158.0L94.0 159.5L94.2 160.0L96.0 161.5L98.0 161.8L98.9 162.0L100.0 162.2L100.8 162.0L102.0 161.7L104.0 161.0L106.0 160.5L108.0 160.3L110.0 160.0L112.0 160.2L114.0 160.4L116.0 161.2L117.1 162.0L118.0 162.7L119.2 164.0L120.0 165.0L120.8 166.0L122.0 167.3L122.9 168.0L124.0 168.8L126.0 169.5L128.0 169.7L130.0 169.9L132.0 168.0L132.0 168.0L134.0 166.0L134.0 166.0L134.4 164.0L134.5 162.0L134.6 160.0L134.5 158.0L134.4 156.0L134.1 154.0L134.0 153.5L133.1 152.0L132.1 150.0L132.0 149.8L131.3 148.0L130.6 146.0L130.2 144.0L130.1 142.0L130.0 140.2L130.0 140.0L130.0 139.8L130.2 138.0L130.4 136.0L130.9 134.0L131.6 132.0L132.0 130.6L132.2 130.0L132.3 128.0L132.4 126.0L132.4 124.0L132.2 122.0L132.0 120.8L131.9 120.0L130.3 118.0L130.0 117.7L128.1 116.0L128.0 115.9L126.0 114.6L124.0 114.0L122.0 114.0L120.0 114.0L118.0 115.2ZM30.0 128.3L32.0 128.2L34.0 128.1L36.0 128.8L38.0 129.8L38.6 130.0L40.0 131.1L40.4 132.0L41.7 134.0L42.0 134.6L43.0 136.0L43.9 138.0L44.0 138.1L44.5 140.0L44.7 142.0L45.0 144.0L45.1 146.0L45.0 148.0L44.8 150.0L44.0 150.9L42.0 151.7L41.0 152.0L40.0 152.3L38.0 152.2L36.0 152.0L35.8 152.0L34.0 151.4L32.3 150.0L32.0 149.3L31.5 148.0L30.7 146.0L30.1 144.0L30.0 143.3L29.7 142.0L29.4 140.0L28.6 138.0L28.0 136.0L28.0 135.5L27.9 134.0L28.0 132.7L28.1 132.0L28.3 130.0Z"/>
<path fill="#ff0000" stroke="#ff0000" stroke-width="0.6" d="M118.0 115.2L120.0 114.0L122.0 114.0L124.0 114.0L126.0 114.6L128.0 115.9L128.1 116.0L130.0 117.7L130.3 118.0L131.9 120.0L132.0 120.8L132.2 122.0L132.4 124.0L132.4 126.0L132.3 128.0L132.2 130.0L132.0 130.6L131.6 132.0L130.9 134.0L130.4 136.0L130.2 138.0L130.0 139.8L130.0 140.0L130.0 140.2L130.1 142.0L130.2 144.0L130.6 146.0L131.3 148.0L132.0 149.8L132.1 150.0L133.1 152.0L134.0 153.5L134.1 154.0L134.4 156.0L134.5 158.0L134.6 160.0L134.5 162.0L134.4 164.0L134.0 166.0L134.0 166.0L132.0 168.0L132.0 168.0L130.0 169.9L128.0 169.7L126.0 169.5L124.0 168.8L122.9 168.0L122.0 167.3L120.8 166.0L120.0 165.0L119.2 164.0L118.0 162.7L117.1 162.0L116.0 161.2L114.0 160.4L112.0 160.2L110.0 160.0L108.0 160.3L106.0 160.5L104.0 161.0L102.0 161.7L100.8 162.0L100.0 162.2L98.9 162.0L98.0 161.8L96.0 161.5L94.2 160.0L94.0 159.5L93.6 158.0L93.0 156.0L92.3 154.0L92.0 153.3L91.2 152.0L90.0 150.5L89.8 150.0L89.7 148.0L89.6 146.0L89.5 144.0L89.5 142.0L89.5 140.0L89.6 138.0L89.6 136.0L90.0 134.0L90.0 133.8L91.4 132.0L92.0 130.9L92.4 130.0L94.0 128.0L94.1 128.0L95.7 126.0L96.0 125.6L98.0 124.8L99.3 124.0L100.0 123.6L101.0 124.0L102.0 124.9L102.9 126.0L103.7 128.0L104.0 128.9L106.0 128.6L106.2 128.0L106.6 126.0L107.1 124.0L107.6 122.0L108.0 120.6L108.2 120.0L110.0 118.3L111.0 118.0L112.0 117.7L114.0 117.2L116.0 116.4L116.5 116.0Z"/>
<path d="M56.3 62.0 L62.4 65.5 L69.2 67.2 L74.4 67.2 L78.7 65.5 L84.7 65.5 L91.6 64.6 L98.5 63.8 L103.6 62.0 L107.1 59.5 L106.2 54.6 M79.6 50.0 L80.4 58.6 L84.7 60.3 L88.2 63.8 M56.3 62.0 L57.2 72.4 L58.9 80.1 M46.9 80.1 L58.9 80.1 L65.8 81.0 L76.1 80.1 L78.7 79.2 M77.8 65.5 L78.7 79.2 L78.7 93.0 L79.6 106.8 L80.4 112.0 M58.9 80.1 L62.4 84.4 L65.8 89.6 L67.5 96.4 L69.2 101.6 L71.8 105.0 L74.4 106.8 L79.6 106.8 M78.7 79.2 L84.7 80.1 L89.9 87.8 L93.3 90.4 L98.5 91.3 L101.9 91.3 M98.5 63.8 L99.3 75.8 L100.2 84.4 L99.3 91.3 L101.9 96.4 M50.6 96.5 L57.2 98.0 L62.0 99.0 L67.5 96.4 M115.5 50.5 L118.0 55.0 L121.4 60.2 L125.4 59.4 L129.3 61.0 L133.3 60.2 L135.7 62.6 L138.1 61.0 L141.3 58.6 L146.1 57.8 L152.5 57.0 L158.9 56.2 L166.5 55.5 M121.4 60.2 L123.0 65.8 L125.4 70.6 L127.7 75.4 L128.5 81.7 L128.5 86.5 L129.3 91.3 M129.3 88.1 L134.9 90.5 L139.7 89.7 L142.9 87.3 L144.5 81.7 L144.5 75.4 L147.7 72.2 L150.9 69.8 L155.7 69.0 L162.1 69.0 L168.5 70.6 L174.0 73.0 M142.9 87.3 L144.5 91.2 L146.0 98.9 L147.5 105.1 L153.7 108.2 L158.4 111.3 L163.0 109.7 L169.2 103.5 L173.6 98.9 M158.4 111.3 L159.9 115.9 L156.8 120.5 L155.3 126.0 L154.0 134.5 M106.2 54.6 L104.6 64.2 L107.8 69.0 L112.6 75.4 L114.2 81.7 L112.6 86.5 L109.4 89.7 L106.2 92.9 L104.6 97.7 M114.2 81.7 L122.2 83.3 L128.5 83.3 M106.2 92.9 L112.6 92.9 L119.0 94.5 L123.8 92.9 L129.3 91.3 M106.2 97.7 L112.6 99.3 L123.8 99.3 L128.5 102.5 L127.5 108.2 M95.0 106.6 L101.2 108.2 L104.3 111.3 L105.8 117.5 L104.3 122.1 L103.5 128.6 M107.4 102.0 L110.5 102.8 L113.5 103.5 L118.2 105.1 L125.9 106.6 L130.5 109.7 L136.7 108.2 L142.9 107.4 L147.5 105.1 M127.5 108.2 L129.0 112.8 L132.1 117.5 L133.6 122.1 L135.2 126.7 L136.7 128.5 M105.8 85.0 L106.6 92.7 M101.4 92.9 L105.0 100.0 L107.4 102.0 M46.3 111.6 L49.1 115.3 L51.8 124.5 L52.8 131.8 L50.9 139.2 M51.8 126.3 L59.2 124.5 L64.7 122.6 L70.2 119.0 L75.8 115.3 L77.6 111.6 L79.6 106.8 M75.8 110.7 L83.1 111.6 L88.7 110.7 L94.2 107.9 L95.0 106.6 M90.5 95.0 L89.6 104.2 L90.5 111.6 L89.5 116.0 M70.2 119.0 L73.9 126.3 L75.8 133.7 L73.9 141.0 L75.8 146.6 L77.6 153.9 L81.3 159.5 L85.0 166.0 M73.9 126.3 L81.3 124.5 L86.8 120.8 L90.5 118.0 L96.0 117.1 L103.4 116.2 M50.9 139.2 L55.0 140.0 L61.0 142.9 L66.6 148.4 L73.9 146.6 M26.0 128.1 L27.9 137.4 L31.6 141.0 L38.9 142.9 L46.3 141.0 L50.9 139.2 M31.6 141.0 L29.7 148.4 L30.3 151.0 M88.7 137.4 L96.0 137.4 L101.6 135.5 L103.5 134.0 M88.7 137.4 L86.8 130.0 L86.8 120.8 M88.7 137.4 L90.0 146.0 L93.0 152.0 L97.0 157.0 L99.5 160.0" fill="none" stroke="#2e2a10" stroke-opacity="0.85" stroke-width="0.75" stroke-linejoin="round"/>
</g>
<polygon points="29.1,67.7 31.7,68.6 33.4,72.0 36.8,72.9 41.1,74.6 45.4,76.3 46.6,76.5 47.1,82.4 48.0,89.2 47.5,93.9 50.6,96.5 53.2,103.0 54.9,104.7 51.4,108.2 48.0,111.6 44.6,114.5 42.8,115.2 41.1,119.3 39.4,122.0 36.8,124.6 33.4,127.2 30.8,130.6 28.2,128.4 25.6,131.5 22.2,134.1 18.8,135.8 16.5,138.0 15.8,142.7 14.5,142.7 13.6,140.1 12.3,136.7 12.3,133.2 14.5,129.8 17.9,127.2 17.0,123.8 14.5,118.6 13.2,115.2 13.6,111.7 15.3,109.9 17.9,105.6 17.0,101.3 18.8,97.8 21.3,93.5 22.2,89.2 23.9,84.1 26.5,79.8 27.4,77.2 26.5,73.8 27.4,70.3" fill="#9fdaf5" stroke="#6499ee" stroke-width="0.8"/>
<polygon points="29.6,96.9 32.6,97.8 33.5,102.7 32.1,106.7 32.6,112.6 32.5,115.2 33.4,119.5 30.8,122.0 26.5,122.0 24.8,118.6 25.6,115.2 26.2,114.0 27.6,111.6 29.1,105.7 29.6,100.8" fill="#ffffff"/>
<path d="M40.0 82.8 L47.0 82.5 M38.4 102.6 L53.0 103.0 M39.0 113.0 L47.0 112.0" fill="none" stroke="#6a8fb0" stroke-width="0.5"/>
<polygon points="136.5,24.6 138.0,24.3 142.3,23.7 144.7,24.3 145.3,27.4 147.8,32.3 150.0,34.8 152.0,40.0 152.9,44.3 155.5,47.7 158.9,50.3 163.2,52.0 166.6,52.9 167.5,56.3 167.5,60.6 169.2,64.1 171.8,68.4 174.4,72.6 175.2,76.9 174.4,82.1 175.2,86.4 174.4,89.8 172.6,93.3 172.6,96.7 174.4,100.1 177.8,103.6 180.3,107.5 178.5,110.1 176.8,114.4 175.9,119.6 175.9,124.7 174.2,127.3 171.6,129.9 168.2,131.6 163.9,132.5 161.3,133.3 156.1,134.2 152.7,135.0 149.2,133.3 146.7,130.7 144.9,129.0 140.6,127.3 137.2,128.2 133.8,129.9 129.5,130.7 125.2,131.6 123.6,133.8 119.3,135.5 115.0,134.6 111.6,132.9 109.9,129.5 105.6,128.6 103.0,128.6 103.0,132.0 103.9,136.3 103.9,140.6 102.1,145.8 101.3,150.1 101.3,154.4 100.4,158.7 97.8,162.1 94.4,163.9 91.0,163.9 87.5,165.6 84.1,168.2 80.6,166.4 77.2,165.6 73.8,166.4 68.6,168.2 65.2,166.4 60.0,167.0 54.9,168.5 53.2,165.0 52.3,159.9 51.4,155.6 48.0,153.0 42.8,151.3 39.4,150.4 34.2,149.6 30.8,150.4 29.9,153.9 29.1,159.9 27.4,160.7 25.6,158.2 21.3,156.4 17.9,154.7 18.8,151.3 17.9,147.0 15.3,144.4 15.3,142.7 14.5,139.2 14.9,135.8 16.2,133.2 18.8,131.1 22.2,129.8 24.4,126.8 26.5,124.6 30.8,124.2 34.2,122.0 37.7,115.2 39.0,110.0 38.5,104.7 37.0,97.8 36.0,93.0 36.8,89.2 42.0,82.4 46.3,76.3 49.6,67.8 52.9,64.5 55.4,61.3 57.8,60.5 62.7,59.6 64.4,56.4 66.8,53.9 70.9,51.5 75.8,50.6 80.7,49.0 85.6,47.4 89.7,46.5 91.8,45.2 94.9,46.4 97.4,50.1 99.2,55.7 100.5,56.9 104.8,55.0 109.1,53.2 112.1,51.4 116.4,49.5 119.5,47.0 120.7,42.7 123.2,41.5 126.9,38.4 130.6,33.5 133.0,31.1 135.5,26.0" fill="none" stroke="#000" stroke-width="1.2" stroke-linejoin="round"/>
<rect x="5.5" y="6.5" width="183.4" height="180" fill="none" stroke="#333" stroke-width="1.3"/>
<text x="7.6" y="18.0" font-family="Liberation Serif, serif" font-size="10" fill="#1a1a1a" stroke="#1a1a1a" stroke-width="0.15">(c)</text>
<text x="92.0" y="17.5" font-family="Liberation Serif, serif" font-size="9.6" fill="#1a1a1a" stroke="#1a1a1a" stroke-width="0.2" text-anchor="middle">2003-2012</text>
<g>
<polygon points="175.4,15.6 176.8,19.5 175.4,20.9" fill="#222"/>
<polygon points="175.4,15.6 174.0,19.5 175.4,20.9" fill="#999"/>
<polygon points="180.7,20.9 176.8,22.3 175.4,20.9" fill="#222"/>
<polygon points="180.7,20.9 176.8,19.5 175.4,20.9" fill="#888"/>
<polygon points="175.4,26.2 174.0,22.3 175.4,20.9" fill="#222"/>
<polygon points="175.4,26.2 176.8,22.3 175.4,20.9" fill="#888"/>
<polygon points="170.1,20.9 174.0,19.5 175.4,20.9" fill="#222"/>
<polygon points="170.1,20.9 174.0,22.3 175.4,20.9" fill="#999"/>
<circle cx="175.4" cy="20.9" r="1.3" fill="#111"/>
</g>
<text x="175.4" y="14.6" font-family="Liberation Sans, sans-serif" font-size="2.6" fill="#556" text-anchor="middle">N</text>
<text x="175.4" y="29.5" font-family="Liberation Sans, sans-serif" font-size="2.6" fill="#556" text-anchor="middle">S</text>
<text x="168.1" y="21.9" font-family="Liberation Sans, sans-serif" font-size="2.6" fill="#556" text-anchor="middle">W</text>
<text x="182.2" y="21.9" font-family="Liberation Sans, sans-serif" font-size="2.6" fill="#556" text-anchor="middle">E</text>
<g transform="translate(0,-3)">
<rect x="109.5" y="181.2" width="62.3" height="2.3" fill="#000"/>
<rect x="121.8" y="181.9" width="12.2" height="0.9" fill="#fff"/>
<rect x="146.4" y="181.9" width="12.3" height="0.9" fill="#fff"/>
<text x="109.6" y="179.2" font-family="Liberation Sans, sans-serif" font-size="4.2" fill="#333" text-anchor="middle">0</text>
<text x="121.6" y="179.2" font-family="Liberation Sans, sans-serif" font-size="4.2" fill="#333" text-anchor="middle">15</text>
<text x="134.0" y="179.2" font-family="Liberation Sans, sans-serif" font-size="4.2" fill="#333" text-anchor="middle">30</text>
<text x="146.4" y="179.2" font-family="Liberation Sans, sans-serif" font-size="4.2" fill="#333" text-anchor="middle">60</text>
<text x="158.7" y="179.2" font-family="Liberation Sans, sans-serif" font-size="4.2" fill="#333" text-anchor="middle">90</text>
<text x="171.4" y="179.2" font-family="Liberation Sans, sans-serif" font-size="4.2" fill="#333" text-anchor="middle">120</text>
<text x="175.4" y="183.8" font-family="Liberation Sans, sans-serif" font-size="4.2" fill="#333">Km</text>
</g>
<path d="M188.9 19.4 h1.8 M188.9 101 h1.8 M188.9 182.4 h1.8 M25.2 186.5 v1.6 M106.9 186.5 v1.6 M188.7 186.5 v1.6" stroke="#222" stroke-width="0.9"/>
<text x="0" y="0" font-family="Liberation Sans, sans-serif" font-size="4.6" fill="#444" text-anchor="middle" transform="translate(197.6,19.2) rotate(-90)">1° S</text>
<text x="0" y="0" font-family="Liberation Sans, sans-serif" font-size="4.6" fill="#444" text-anchor="middle" transform="translate(197.6,101.2) rotate(-90)">2° S</text>
<text x="0" y="0" font-family="Liberation Sans, sans-serif" font-size="4.6" fill="#444" text-anchor="middle" transform="translate(197.6,182.6) rotate(-90)">3° S</text>
<text x="25.2" y="195.8" font-family="Liberation Sans, sans-serif" font-size="4.6" fill="#444" text-anchor="middle">29° E</text>
<text x="106.9" y="195.8" font-family="Liberation Sans, sans-serif" font-size="4.6" fill="#444" text-anchor="middle">30° E</text>
<text x="188.7" y="195.8" font-family="Liberation Sans, sans-serif" font-size="4.6" fill="#444" text-anchor="middle">31° E</text>
</g>
<g transform="translate(252,207)">
<clipPath id="clipd"><polygon points="136.5,24.6 138.0,24.3 142.3,23.7 144.7,24.3 145.3,27.4 147.8,32.3 150.0,34.8 152.0,40.0 152.9,44.3 155.5,47.7 158.9,50.3 163.2,52.0 166.6,52.9 167.5,56.3 167.5,60.6 169.2,64.1 171.8,68.4 174.4,72.6 175.2,76.9 174.4,82.1 175.2,86.4 174.4,89.8 172.6,93.3 172.6,96.7 174.4,100.1 177.8,103.6 180.3,107.5 178.5,110.1 176.8,114.4 175.9,119.6 175.9,124.7 174.2,127.3 171.6,129.9 168.2,131.6 163.9,132.5 161.3,133.3 156.1,134.2 152.7,135.0 149.2,133.3 146.7,130.7 144.9,129.0 140.6,127.3 137.2,128.2 133.8,129.9 129.5,130.7 125.2,131.6 123.6,133.8 119.3,135.5 115.0,134.6 111.6,132.9 109.9,129.5 105.6,128.6 103.0,128.6 103.0,132.0 103.9,136.3 103.9,140.6 102.1,145.8 101.3,150.1 101.3,154.4 100.4,158.7 97.8,162.1 94.4,163.9 91.0,163.9 87.5,165.6 84.1,168.2 80.6,166.4 77.2,165.6 73.8,166.4 68.6,168.2 65.2,166.4 60.0,167.0 54.9,168.5 53.2,165.0 52.3,159.9 51.4,155.6 48.0,153.0 42.8,151.3 39.4,150.4 34.2,149.6 30.8,150.4 29.9,153.9 29.1,159.9 27.4,160.7 25.6,158.2 21.3,156.4 17.9,154.7 18.8,151.3 17.9,147.0 15.3,144.4 15.3,142.7 14.5,139.2 14.9,135.8 16.2,133.2 18.8,131.1 22.2,129.8 24.4,126.8 26.5,124.6 30.8,124.2 34.2,122.0 37.7,115.2 39.0,110.0 38.5,104.7 37.0,97.8 36.0,93.0 36.8,89.2 42.0,82.4 46.3,76.3 49.6,67.8 52.9,64.5 55.4,61.3 57.8,60.5 62.7,59.6 64.4,56.4 66.8,53.9 70.9,51.5 75.8,50.6 80.7,49.0 85.6,47.4 89.7,46.5 91.8,45.2 94.9,46.4 97.4,50.1 99.2,55.7 100.5,56.9 104.8,55.0 109.1,53.2 112.1,51.4 116.4,49.5 119.5,47.0 120.7,42.7 123.2,41.5 126.9,38.4 130.6,33.5 133.0,31.1 135.5,26.0"/></clipPath>
<g clip-path="url(#clipd)">
<path fill="#38a800" stroke="#38a800" stroke-width="0.6" d="M104.0 59.9L106.0 58.6L108.0 58.3L110.0 58.1L112.0 59.7L112.3 60.0L112.6 62.0L112.8 64.0L112.9 66.0L112.9 68.0L112.9 70.0L112.6 72.0L112.2 74.0L112.0 74.3L111.0 76.0L110.0 76.9L108.0 76.6L106.0 76.3L105.6 76.0L104.0 74.0L104.0 73.8L103.8 72.0L103.5 70.0L103.5 68.0L103.4 66.0L103.5 64.0L103.7 62.0L104.0 60.0ZM54.0 73.8L56.0 73.0L58.0 72.7L60.0 72.5L62.0 73.1L64.0 73.7L64.2 74.0L65.2 76.0L65.6 78.0L66.0 79.6L66.1 80.0L66.0 80.7L65.8 82.0L65.4 84.0L64.2 86.0L64.0 86.2L62.0 86.7L60.0 87.2L58.0 87.5L56.0 88.0L54.0 87.0L53.2 86.0L52.0 84.1L52.0 84.0L50.6 82.0L50.0 81.3L48.9 80.0L50.0 78.5L50.5 78.0L52.0 76.0L52.0 76.0L53.7 74.0ZM60.0 118.5L62.0 118.6L64.0 118.6L66.0 119.8L66.2 120.0L66.5 122.0L66.8 124.0L67.1 126.0L67.2 128.0L67.4 130.0L67.1 132.0L66.9 134.0L66.0 135.7L65.7 136.0L64.0 136.7L62.0 136.7L60.0 136.7L59.4 136.0L58.6 134.0L58.4 132.0L58.1 130.0L58.2 128.0L58.2 126.0L58.3 124.0L58.6 122.0L58.8 120.0Z"/>
<path fill="#6fc400" stroke="#6fc400" stroke-width="0.6" d="M10.0 18.0L12.0 18.0L14.0 18.0L16.0 18.0L18.0 18.0L20.0 18.0L22.0 18.0L24.0 18.0L26.0 18.0L28.0 18.0L30.0 18.0L30.0 18.0L30.0 20.0L30.2 22.0L30.4 24.0L31.2 26.0L32.0 27.1L32.7 28.0L34.0 29.2L35.0 30.0L36.0 30.8L37.4 32.0L38.0 32.6L39.2 34.0L40.0 35.0L40.8 36.0L42.0 37.4L42.6 38.0L44.0 39.2L45.0 40.0L46.0 40.8L47.4 42.0L48.0 42.6L49.2 44.0L50.0 45.0L50.8 46.0L52.0 47.4L52.6 48.0L54.0 49.2L55.0 50.0L56.0 50.8L57.4 52.0L58.0 52.6L59.2 54.0L60.0 55.0L60.7 56.0L62.0 57.5L62.5 58.0L64.0 59.3L64.5 60.0L66.0 61.9L66.0 62.0L67.0 64.0L67.5 66.0L67.9 68.0L68.0 68.7L68.2 70.0L68.8 72.0L69.2 74.0L69.6 76.0L70.0 77.9L70.0 78.0L70.5 80.0L70.6 82.0L70.7 84.0L70.6 86.0L70.4 88.0L70.1 90.0L70.1 92.0L70.0 94.0L70.0 94.4L69.9 96.0L69.9 98.0L69.9 100.0L69.5 102.0L69.2 104.0L68.4 106.0L68.0 106.8L67.3 108.0L66.2 110.0L68.0 111.7L68.3 112.0L70.0 113.8L70.1 114.0L70.7 116.0L71.2 118.0L71.6 120.0L72.0 121.8L72.1 122.0L72.5 124.0L73.2 126.0L74.0 128.0L74.0 128.0L74.6 130.0L74.6 132.0L74.6 134.0L74.7 136.0L75.0 138.0L75.3 140.0L75.5 142.0L75.8 144.0L75.0 146.0L74.0 146.8L72.0 147.1L70.0 147.5L68.0 147.2L66.0 147.1L64.0 146.7L62.0 146.2L60.9 146.0L60.0 145.8L58.0 145.2L56.0 144.5L55.7 144.0L55.0 142.0L54.3 140.0L54.0 138.7L53.9 138.0L53.6 136.0L53.4 134.0L53.3 132.0L53.1 130.0L53.2 128.0L53.3 126.0L53.3 124.0L53.4 122.0L53.4 120.0L53.6 118.0L53.8 116.0L54.0 114.8L54.2 114.0L54.7 112.0L55.5 110.0L54.7 108.0L54.0 106.2L53.9 106.0L53.9 104.0L54.0 103.8L54.8 102.0L55.8 100.0L56.0 98.9L56.3 98.0L56.9 96.0L56.0 95.4L54.0 94.2L53.8 94.0L52.0 93.2L50.3 92.0L50.0 91.7L48.0 91.1L46.0 90.4L44.0 90.0L42.0 90.0L41.1 90.0L40.0 90.0L39.9 90.0L38.0 90.2L36.0 90.3L34.0 90.8L32.0 91.7L31.4 92.0L30.0 92.6L28.0 92.4L26.0 92.2L25.8 92.0L24.0 90.3L23.8 90.0L22.5 88.0L22.0 87.5L20.0 86.4L18.9 86.0L18.0 85.6L16.0 85.0L14.0 84.8L12.0 84.7L10.0 84.6L8.0 84.6L8.0 84.0L8.0 82.0L8.0 80.0L8.0 78.0L8.0 76.0L8.0 74.0L8.0 72.0L8.0 70.0L8.0 68.0L8.0 66.0L8.0 64.0L8.0 62.0L8.0 60.0L8.0 58.0L8.0 56.0L8.0 54.0L8.0 52.0L8.0 50.0L8.0 48.0L8.0 46.0L8.0 44.0L8.0 42.0L8.0 40.0L8.0 38.0L8.0 36.0L8.0 34.0L8.0 32.0L8.0 30.0L8.0 28.0L8.0 26.0L8.0 24.0L8.0 22.0L8.0 20.0L8.0 18.0ZM53.7 74.0L52.0 76.0L52.0 76.0L50.5 78.0L50.0 78.5L48.9 80.0L50.0 81.3L50.6 82.0L52.0 84.0L52.0 84.1L53.2 86.0L54.0 87.0L56.0 88.0L58.0 87.5L60.0 87.2L62.0 86.7L64.0 86.2L64.2 86.0L65.4 84.0L65.8 82.0L66.0 80.7L66.1 80.0L66.0 79.6L65.6 78.0L65.2 76.0L64.2 74.0L64.0 73.7L62.0 73.1L60.0 72.5L58.0 72.7L56.0 73.0L54.0 73.8ZM58.8 120.0L58.6 122.0L58.3 124.0L58.2 126.0L58.2 128.0L58.1 130.0L58.4 132.0L58.6 134.0L59.4 136.0L60.0 136.7L62.0 136.7L64.0 136.7L65.7 136.0L66.0 135.7L66.9 134.0L67.1 132.0L67.4 130.0L67.2 128.0L67.1 126.0L66.8 124.0L66.5 122.0L66.2 120.0L66.0 119.8L64.0 118.6L62.0 118.6L60.0 118.5ZM104.0 53.1L106.0 52.6L108.0 52.5L110.0 52.3L112.0 52.6L114.0 53.0L115.5 54.0L116.0 54.8L116.3 56.0L116.2 58.0L116.1 60.0L116.1 62.0L116.0 64.0L116.0 65.4L116.0 66.0L116.0 68.0L116.0 70.0L115.9 72.0L115.8 74.0L115.4 76.0L114.8 78.0L114.1 80.0L114.0 80.2L112.0 81.6L111.2 82.0L110.0 82.5L108.0 82.2L106.9 82.0L106.0 81.9L104.0 80.9L102.7 80.0L102.0 79.0L101.3 78.0L100.0 76.0L100.0 75.9L99.7 74.0L99.6 72.0L99.4 70.0L99.3 68.0L99.2 66.0L99.1 64.0L99.1 62.0L99.1 60.0L99.4 58.0L99.8 56.0L100.0 55.5L102.0 54.1L102.1 54.0ZM104.0 60.0L103.7 62.0L103.5 64.0L103.4 66.0L103.5 68.0L103.5 70.0L103.8 72.0L104.0 73.8L104.0 74.0L105.6 76.0L106.0 76.3L108.0 76.6L110.0 76.9L111.0 76.0L112.0 74.3L112.2 74.0L112.6 72.0L112.9 70.0L112.9 68.0L112.9 66.0L112.8 64.0L112.6 62.0L112.3 60.0L112.0 59.7L110.0 58.1L108.0 58.3L106.0 58.6L104.0 59.9ZM154.0 95.8L156.0 94.9L158.0 94.8L160.0 94.6L162.0 94.6L164.0 94.6L166.0 94.7L168.0 95.0L170.0 95.2L171.8 96.0L172.0 96.2L174.0 97.4L175.7 98.0L176.0 98.1L178.0 98.7L180.0 99.5L182.0 99.7L184.0 99.9L185.9 100.0L186.0 100.0L188.0 100.0L190.0 100.0L192.0 100.0L192.0 102.0L192.0 104.0L192.0 106.0L192.0 108.0L192.0 110.0L192.0 112.0L192.0 114.0L192.0 116.0L192.0 118.0L192.0 120.0L192.0 122.0L192.0 124.0L192.0 126.0L192.0 128.0L192.0 130.0L192.0 132.0L192.0 134.0L192.0 136.0L192.0 138.0L192.0 140.0L192.0 142.0L192.0 144.0L192.0 146.0L192.0 148.0L192.0 150.0L192.0 152.0L192.0 154.0L192.0 156.0L192.0 158.0L192.0 160.0L192.0 162.0L192.0 164.0L192.0 166.0L192.0 167.0L190.0 167.0L188.0 166.7L186.0 166.3L185.4 166.0L184.0 164.6L183.7 164.0L183.3 162.0L183.0 160.0L182.9 158.0L182.8 156.0L182.4 154.0L182.0 153.0L181.5 152.0L180.0 150.0L180.0 150.0L178.0 148.1L177.9 148.0L176.0 146.8L174.9 146.0L174.0 144.8L173.6 144.0L173.3 142.0L173.0 140.0L172.8 138.0L172.5 136.0L172.0 134.6L171.7 134.0L170.0 132.5L168.6 132.0L168.0 131.8L166.0 131.4L164.0 131.3L162.0 131.5L160.0 131.9L159.2 130.0L158.7 128.0L158.1 126.0L158.0 125.6L157.6 124.0L157.3 122.0L157.1 120.0L157.1 118.0L157.1 116.0L157.0 114.0L156.8 112.0L156.7 110.0L156.0 108.4L155.9 108.0L155.3 106.0L154.7 104.0L154.2 102.0L154.0 101.1L153.8 100.0L153.8 98.0L153.8 96.0Z"/>
<path fill="#a8d800" stroke="#a8d800" stroke-width="0.6" d="M32.0 18.0L34.0 18.0L36.0 18.0L38.0 18.0L40.0 18.0L42.0 18.0L44.0 18.0L46.0 18.0L48.0 18.0L50.0 18.0L52.0 18.0L54.0 18.0L56.0 18.0L58.0 18.0L60.0 18.0L62.0 18.0L64.0 18.0L66.0 18.0L68.0 18.0L70.0 18.0L70.0 18.0L70.0 20.0L70.2 22.0L70.4 24.0L71.2 26.0L72.0 27.1L72.7 28.0L74.0 29.2L75.0 30.0L76.0 30.9L77.0 32.0L78.0 33.7L78.2 34.0L78.1 36.0L78.0 36.2L77.4 38.0L77.0 40.0L76.1 42.0L76.0 42.3L75.2 44.0L74.0 45.4L73.5 46.0L72.0 47.6L71.8 48.0L70.9 50.0L70.8 52.0L70.7 54.0L70.8 56.0L71.0 58.0L71.2 60.0L71.4 62.0L71.6 64.0L71.6 66.0L71.6 68.0L71.7 70.0L71.9 72.0L72.0 73.5L72.0 74.0L72.5 76.0L73.4 78.0L74.0 79.0L74.7 80.0L75.0 82.0L75.4 84.0L75.7 86.0L75.8 88.0L75.9 90.0L76.0 90.9L76.1 92.0L76.3 94.0L76.6 96.0L76.9 98.0L77.3 100.0L77.5 102.0L77.9 104.0L77.9 106.0L77.2 108.0L76.2 110.0L76.0 110.4L75.6 112.0L75.3 114.0L75.5 116.0L76.0 117.6L76.2 118.0L77.3 120.0L78.0 121.5L78.2 122.0L78.8 124.0L78.7 126.0L78.3 128.0L78.1 130.0L78.0 130.8L77.8 132.0L77.6 134.0L77.8 136.0L78.0 136.9L78.3 138.0L79.1 140.0L79.9 142.0L80.0 142.1L80.8 144.0L81.3 146.0L81.3 148.0L81.3 150.0L81.1 152.0L80.9 154.0L80.3 156.0L80.0 156.6L78.0 157.0L76.0 157.3L74.0 157.5L72.0 157.5L70.0 157.5L68.0 157.2L66.0 156.9L64.1 156.0L64.0 155.9L62.5 154.0L62.0 153.2L61.2 152.0L60.0 150.4L58.0 150.0L58.0 150.0L56.0 149.9L54.0 148.8L53.4 148.0L52.3 146.0L52.0 144.8L51.8 144.0L51.4 142.0L51.0 140.0L50.7 138.0L50.2 136.0L50.0 134.8L49.9 134.0L49.6 132.0L49.2 130.0L49.1 128.0L49.1 126.0L49.1 124.0L49.1 122.0L49.1 120.0L49.0 118.0L48.9 116.0L48.8 114.0L48.5 112.0L48.2 110.0L48.0 109.1L47.7 108.0L47.2 106.0L46.6 104.0L46.0 102.7L45.3 102.0L44.0 100.8L42.0 100.4L40.0 100.0L40.0 100.0L38.0 99.7L36.0 99.4L34.0 98.9L32.0 98.4L30.0 98.0L29.9 98.0L28.0 97.5L26.0 97.0L24.0 96.0L24.0 96.0L22.4 94.0L22.0 93.3L21.0 92.0L20.0 91.0L18.8 90.0L18.0 89.4L16.0 88.3L14.7 88.0L14.0 87.9L12.0 87.7L10.0 87.6L8.0 87.6L8.0 86.0L8.0 84.6L10.0 84.6L12.0 84.7L14.0 84.8L16.0 85.0L18.0 85.6L18.9 86.0L20.0 86.4L22.0 87.5L22.5 88.0L23.8 90.0L24.0 90.3L25.8 92.0L26.0 92.2L28.0 92.4L30.0 92.6L31.4 92.0L32.0 91.7L34.0 90.8L36.0 90.3L38.0 90.2L39.9 90.0L40.0 90.0L41.1 90.0L42.0 90.0L44.0 90.0L46.0 90.4L48.0 91.1L50.0 91.7L50.3 92.0L52.0 93.2L53.8 94.0L54.0 94.2L56.0 95.4L56.9 96.0L56.3 98.0L56.0 98.9L55.8 100.0L54.8 102.0L54.0 103.8L53.9 104.0L53.9 106.0L54.0 106.2L54.7 108.0L55.5 110.0L54.7 112.0L54.2 114.0L54.0 114.8L53.8 116.0L53.6 118.0L53.4 120.0L53.4 122.0L53.3 124.0L53.3 126.0L53.2 128.0L53.1 130.0L53.3 132.0L53.4 134.0L53.6 136.0L53.9 138.0L54.0 138.7L54.3 140.0L55.0 142.0L55.7 144.0L56.0 144.5L58.0 145.2L60.0 145.8L60.9 146.0L62.0 146.2L64.0 146.7L66.0 147.1L68.0 147.2L70.0 147.5L72.0 147.1L74.0 146.8L75.0 146.0L75.8 144.0L75.5 142.0L75.3 140.0L75.0 138.0L74.7 136.0L74.6 134.0L74.6 132.0L74.6 130.0L74.0 128.0L74.0 128.0L73.2 126.0L72.5 124.0L72.1 122.0L72.0 121.8L71.6 120.0L71.2 118.0L70.7 116.0L70.1 114.0L70.0 113.8L68.3 112.0L68.0 111.7L66.2 110.0L67.3 108.0L68.0 106.8L68.4 106.0L69.2 104.0L69.5 102.0L69.9 100.0L69.9 98.0L69.9 96.0L70.0 94.4L70.0 94.0L70.1 92.0L70.1 90.0L70.4 88.0L70.6 86.0L70.7 84.0L70.6 82.0L70.5 80.0L70.0 78.0L70.0 77.9L69.6 76.0L69.2 74.0L68.8 72.0L68.2 70.0L68.0 68.7L67.9 68.0L67.5 66.0L67.0 64.0L66.0 62.0L66.0 61.9L64.5 60.0L64.0 59.3L62.5 58.0L62.0 57.5L60.7 56.0L60.0 55.0L59.2 54.0L58.0 52.6L57.4 52.0L56.0 50.8L55.0 50.0L54.0 49.2L52.6 48.0L52.0 47.4L50.8 46.0L50.0 45.0L49.2 44.0L48.0 42.6L47.4 42.0L46.0 40.8L45.0 40.0L44.0 39.2L42.6 38.0L42.0 37.4L40.8 36.0L40.0 35.0L39.2 34.0L38.0 32.6L37.4 32.0L36.0 30.8L35.0 30.0L34.0 29.2L32.7 28.0L32.0 27.1L31.2 26.0L30.4 24.0L30.2 22.0L30.0 20.0L30.0 18.0ZM110.0 45.4L112.0 45.5L114.0 45.5L114.7 46.0L116.0 47.4L116.3 48.0L117.4 50.0L118.0 50.7L119.0 52.0L120.0 53.3L120.3 54.0L120.0 55.4L119.9 56.0L118.5 58.0L118.0 59.5L117.9 60.0L117.7 62.0L117.6 64.0L117.5 66.0L117.5 68.0L117.5 70.0L117.4 72.0L117.4 74.0L117.3 76.0L117.1 78.0L116.9 80.0L117.0 82.0L117.2 84.0L117.1 86.0L116.0 87.7L115.5 88.0L114.0 88.5L112.0 88.6L110.0 88.6L108.6 88.0L108.0 87.7L106.0 87.0L105.0 86.0L104.0 85.2L103.0 84.0L102.0 83.1L100.5 82.0L100.0 81.7L99.0 80.0L98.5 78.0L98.0 76.0L98.0 76.0L97.6 74.0L97.4 72.0L97.0 70.0L96.8 68.0L96.6 66.0L96.4 64.0L96.2 62.0L96.1 60.0L96.2 58.0L96.3 56.0L96.7 54.0L97.6 52.0L98.0 51.3L99.2 50.0L100.0 49.0L101.9 48.0L102.0 48.0L104.0 47.3L106.0 46.7L108.0 46.1L108.2 46.0ZM102.1 54.0L102.0 54.1L100.0 55.5L99.8 56.0L99.4 58.0L99.1 60.0L99.1 62.0L99.1 64.0L99.2 66.0L99.3 68.0L99.4 70.0L99.6 72.0L99.7 74.0L100.0 75.9L100.0 76.0L101.3 78.0L102.0 79.0L102.7 80.0L104.0 80.9L106.0 81.9L106.9 82.0L108.0 82.2L110.0 82.5L111.2 82.0L112.0 81.6L114.0 80.2L114.1 80.0L114.8 78.0L115.4 76.0L115.8 74.0L115.9 72.0L116.0 70.0L116.0 68.0L116.0 66.0L116.0 65.4L116.0 64.0L116.1 62.0L116.1 60.0L116.2 58.0L116.3 56.0L116.0 54.8L115.5 54.0L114.0 53.0L112.0 52.6L110.0 52.3L108.0 52.5L106.0 52.6L104.0 53.1ZM114.0 91.8L116.0 91.9L116.2 92.0L118.0 92.5L120.0 93.0L120.7 94.0L120.7 96.0L120.0 97.2L119.0 98.0L118.0 99.0L117.4 100.0L116.0 100.4L114.0 100.6L112.0 100.4L110.0 100.1L109.8 100.0L109.4 98.0L109.1 96.0L109.3 94.0L110.0 92.5L112.0 92.1L112.9 92.0ZM152.0 91.6L154.0 90.9L156.0 90.7L158.0 90.6L160.0 90.6L162.0 90.6L164.0 90.6L166.0 90.6L168.0 90.7L170.0 90.8L172.0 91.0L174.0 91.3L176.0 91.3L178.0 91.0L180.0 90.5L182.0 90.3L184.0 90.1L186.0 90.0L188.0 90.0L190.0 90.0L192.0 90.0L192.0 92.0L192.0 94.0L192.0 96.0L192.0 98.0L192.0 100.0L192.0 100.0L190.0 100.0L188.0 100.0L186.0 100.0L185.9 100.0L184.0 99.9L182.0 99.7L180.0 99.5L178.0 98.7L176.0 98.1L175.7 98.0L174.0 97.4L172.0 96.2L171.8 96.0L170.0 95.2L168.0 95.0L166.0 94.7L164.0 94.6L162.0 94.6L160.0 94.6L158.0 94.8L156.0 94.9L154.0 95.8L153.8 96.0L153.8 98.0L153.8 100.0L154.0 101.1L154.2 102.0L154.7 104.0L155.3 106.0L155.9 108.0L156.0 108.4L156.7 110.0L156.8 112.0L157.0 114.0L157.1 116.0L157.1 118.0L157.1 120.0L157.3 122.0L157.6 124.0L158.0 125.6L158.1 126.0L158.7 128.0L159.2 130.0L160.0 131.9L162.0 131.5L164.0 131.3L166.0 131.4L168.0 131.8L168.6 132.0L170.0 132.5L171.7 134.0L172.0 134.6L172.5 136.0L172.8 138.0L173.0 140.0L173.3 142.0L173.6 144.0L174.0 144.8L174.9 146.0L176.0 146.8L177.9 148.0L178.0 148.1L180.0 150.0L180.0 150.0L181.5 152.0L182.0 153.0L182.4 154.0L182.8 156.0L182.9 158.0L183.0 160.0L183.3 162.0L183.7 164.0L184.0 164.6L185.4 166.0L186.0 166.3L188.0 166.7L190.0 167.0L192.0 167.0L192.0 168.0L192.0 170.0L192.0 172.0L192.0 173.0L190.0 173.0L188.0 172.9L186.0 172.8L184.0 172.4L183.0 172.0L182.0 171.5L180.0 170.0L180.0 170.0L178.5 168.0L178.0 167.0L177.6 166.0L177.2 164.0L177.1 162.0L177.0 160.0L176.7 158.0L176.4 156.0L176.0 155.2L175.1 154.0L174.0 153.2L172.1 152.0L172.0 151.9L170.0 150.0L170.0 150.0L168.5 148.0L168.0 147.0L167.6 146.0L167.2 144.0L167.0 142.0L166.7 140.0L166.0 138.6L165.0 138.0L164.0 137.6L162.8 138.0L162.0 138.2L160.0 138.6L159.1 138.0L158.0 137.0L157.3 136.0L156.5 134.0L156.0 132.0L156.0 131.9L155.7 130.0L155.2 128.0L154.6 126.0L154.3 124.0L154.2 122.0L154.0 120.0L154.0 118.0L154.0 116.0L154.0 115.9L153.9 114.0L153.8 112.0L153.7 110.0L153.1 108.0L152.0 106.0L152.0 106.0L150.8 104.0L150.0 102.0L150.0 101.9L148.5 100.0L148.0 98.2L147.9 98.0L147.6 96.0L148.0 95.1L148.4 94.0L150.0 92.2L150.6 92.0Z"/>
<path fill="#e8f000" stroke="#e8f000" stroke-width="0.6" d="M72.0 18.0L74.0 18.0L76.0 18.0L78.0 18.0L80.0 18.0L82.0 18.0L84.0 18.0L86.0 18.0L88.0 18.0L90.0 18.0L92.0 18.0L94.0 18.0L96.0 18.0L98.0 18.0L100.0 18.0L102.0 18.0L104.0 18.0L106.0 18.0L107.0 18.0L107.0 20.0L107.0 22.0L107.0 24.0L107.0 26.0L107.0 28.0L107.0 30.0L107.2 32.0L107.3 34.0L108.0 36.0L108.0 36.0L110.0 38.0L110.0 38.0L112.0 39.3L113.7 40.0L114.0 40.1L116.0 41.1L117.1 42.0L118.0 42.9L118.9 44.0L120.0 45.7L120.1 46.0L121.0 48.0L121.9 50.0L122.0 50.3L122.7 52.0L123.4 54.0L123.1 56.0L122.0 57.4L121.4 58.0L120.0 59.3L119.6 60.0L119.4 62.0L119.1 64.0L119.0 66.0L119.0 68.0L119.0 70.0L119.0 72.0L118.9 74.0L118.9 76.0L119.0 78.0L119.0 80.0L119.8 82.0L120.0 82.2L121.4 84.0L122.0 85.2L122.4 86.0L123.4 88.0L124.0 88.9L125.0 90.0L126.0 91.6L126.2 92.0L127.6 94.0L128.0 95.3L128.2 96.0L128.0 96.5L127.2 98.0L126.0 99.7L125.8 100.0L124.0 100.5L122.0 101.1L120.0 101.7L119.0 102.0L118.0 102.4L116.0 103.4L114.0 103.9L112.0 103.7L110.0 103.5L108.0 102.7L106.7 102.0L106.0 101.6L104.6 100.0L104.3 98.0L104.1 96.0L104.0 95.7L103.8 94.0L103.4 92.0L103.0 90.0L102.0 88.3L101.8 88.0L100.7 86.0L100.0 85.3L99.2 84.0L98.0 82.3L97.8 82.0L96.9 80.0L96.5 78.0L96.0 76.1L96.0 76.0L95.5 74.0L95.0 72.0L94.5 70.0L94.1 68.0L94.0 67.3L93.7 66.0L93.3 64.0L92.9 62.0L92.4 60.0L92.3 58.0L92.2 56.0L92.2 54.0L92.2 52.0L92.3 50.0L92.4 48.0L92.5 46.0L92.3 44.0L92.0 43.3L91.4 42.0L90.0 40.0L89.9 40.0L88.0 39.1L86.0 38.5L84.0 39.2L83.4 40.0L82.0 41.9L81.9 42.0L80.6 44.0L80.0 45.0L79.4 46.0L78.0 47.8L77.8 48.0L76.0 49.6L75.6 50.0L74.8 52.0L74.3 54.0L74.1 56.0L74.1 58.0L74.2 60.0L74.2 62.0L74.3 64.0L74.3 66.0L74.2 68.0L74.1 70.0L74.3 72.0L74.6 74.0L75.3 76.0L76.0 77.2L76.5 78.0L77.8 80.0L78.0 81.3L78.1 82.0L78.5 84.0L78.8 86.0L79.1 88.0L79.4 90.0L79.9 92.0L80.0 92.5L80.5 94.0L81.2 96.0L81.7 98.0L82.0 99.1L82.2 100.0L82.7 102.0L83.2 104.0L83.7 106.0L84.0 106.8L84.4 108.0L85.2 110.0L85.6 112.0L86.0 113.4L86.1 114.0L86.3 116.0L86.2 118.0L86.1 120.0L86.0 120.4L85.5 122.0L84.9 124.0L84.0 125.8L83.9 126.0L82.3 128.0L82.0 128.5L81.3 130.0L80.7 132.0L80.2 134.0L80.4 136.0L81.5 138.0L82.0 138.7L83.0 140.0L83.8 142.0L84.0 142.5L84.4 144.0L84.6 146.0L84.6 148.0L84.6 150.0L84.6 152.0L84.6 154.0L84.6 156.0L84.6 158.0L84.5 160.0L84.2 162.0L84.0 162.9L83.4 164.0L82.0 165.0L80.5 166.0L80.0 166.2L78.0 166.6L76.0 167.2L74.0 167.9L73.8 168.0L72.0 169.1L71.0 170.0L70.6 172.0L70.2 174.0L70.0 176.0L70.0 176.0L70.0 178.0L70.0 180.0L70.0 182.0L68.0 182.0L66.0 182.0L64.0 182.0L62.0 182.0L60.0 182.0L58.0 182.0L56.0 182.0L54.0 182.0L52.0 182.0L50.0 182.0L48.0 182.0L46.0 182.0L44.0 182.0L42.0 182.0L40.0 182.0L40.0 182.0L40.0 180.0L40.0 178.0L40.0 176.0L40.0 176.0L40.0 174.0L40.0 172.0L40.0 170.0L40.2 168.0L40.4 166.0L41.2 164.0L42.0 162.9L42.7 162.0L44.0 160.8L45.0 160.0L46.0 159.2L47.2 158.0L48.0 156.9L48.5 156.0L49.0 154.0L48.9 152.0L48.8 150.0L49.0 148.0L49.1 146.0L49.0 144.0L48.8 142.0L48.7 140.0L48.4 138.0L48.2 136.0L48.0 135.2L47.7 134.0L46.9 132.0L46.0 130.4L45.8 130.0L45.4 128.0L45.1 126.0L44.7 124.0L44.4 122.0L44.0 120.0L44.0 120.0L43.8 118.0L43.6 116.0L43.3 114.0L42.6 112.0L42.0 110.6L41.7 110.0L40.0 108.2L39.7 108.0L38.0 106.9L36.0 106.0L36.0 106.0L34.0 104.6L33.3 104.0L32.0 102.9L30.4 102.0L30.0 101.8L28.0 100.8L26.0 100.0L26.0 100.0L24.0 99.0L22.8 98.0L22.0 97.3L20.8 96.0L20.0 95.0L19.2 94.0L18.0 92.7L17.1 92.0L16.0 91.2L14.0 90.4L12.0 90.2L10.0 90.0L8.0 90.0L8.0 90.0L8.0 88.0L8.0 87.6L10.0 87.6L12.0 87.7L14.0 87.9L14.7 88.0L16.0 88.3L18.0 89.4L18.8 90.0L20.0 91.0L21.0 92.0L22.0 93.3L22.4 94.0L24.0 96.0L24.0 96.0L26.0 97.0L28.0 97.5L29.9 98.0L30.0 98.0L32.0 98.4L34.0 98.9L36.0 99.4L38.0 99.7L40.0 100.0L40.0 100.0L42.0 100.4L44.0 100.8L45.3 102.0L46.0 102.7L46.6 104.0L47.2 106.0L47.7 108.0L48.0 109.1L48.2 110.0L48.5 112.0L48.8 114.0L48.9 116.0L49.0 118.0L49.1 120.0L49.1 122.0L49.1 124.0L49.1 126.0L49.1 128.0L49.2 130.0L49.6 132.0L49.9 134.0L50.0 134.8L50.2 136.0L50.7 138.0L51.0 140.0L51.4 142.0L51.8 144.0L52.0 144.8L52.3 146.0L53.4 148.0L54.0 148.8L56.0 149.9L58.0 150.0L58.0 150.0L60.0 150.4L61.2 152.0L62.0 153.2L62.5 154.0L64.0 155.9L64.1 156.0L66.0 156.9L68.0 157.2L70.0 157.5L72.0 157.5L74.0 157.5L76.0 157.3L78.0 157.0L80.0 156.6L80.3 156.0L80.9 154.0L81.1 152.0L81.3 150.0L81.3 148.0L81.3 146.0L80.8 144.0L80.0 142.1L79.9 142.0L79.1 140.0L78.3 138.0L78.0 136.9L77.8 136.0L77.6 134.0L77.8 132.0L78.0 130.8L78.1 130.0L78.3 128.0L78.7 126.0L78.8 124.0L78.2 122.0L78.0 121.5L77.3 120.0L76.2 118.0L76.0 117.6L75.5 116.0L75.3 114.0L75.6 112.0L76.0 110.4L76.2 110.0L77.2 108.0L77.9 106.0L77.9 104.0L77.5 102.0L77.3 100.0L76.9 98.0L76.6 96.0L76.3 94.0L76.1 92.0L76.0 90.9L75.9 90.0L75.8 88.0L75.7 86.0L75.4 84.0L75.0 82.0L74.7 80.0L74.0 79.0L73.4 78.0L72.5 76.0L72.0 74.0L72.0 73.5L71.9 72.0L71.7 70.0L71.6 68.0L71.6 66.0L71.6 64.0L71.4 62.0L71.2 60.0L71.0 58.0L70.8 56.0L70.7 54.0L70.8 52.0L70.9 50.0L71.8 48.0L72.0 47.6L73.5 46.0L74.0 45.4L75.2 44.0L76.0 42.3L76.1 42.0L77.0 40.0L77.4 38.0L78.0 36.2L78.1 36.0L78.2 34.0L78.0 33.7L77.0 32.0L76.0 30.9L75.0 30.0L74.0 29.2L72.7 28.0L72.0 27.1L71.2 26.0L70.4 24.0L70.2 22.0L70.0 20.0L70.0 18.0ZM108.2 46.0L108.0 46.1L106.0 46.7L104.0 47.3L102.0 48.0L101.9 48.0L100.0 49.0L99.2 50.0L98.0 51.3L97.6 52.0L96.7 54.0L96.3 56.0L96.2 58.0L96.1 60.0L96.2 62.0L96.4 64.0L96.6 66.0L96.8 68.0L97.0 70.0L97.4 72.0L97.6 74.0L98.0 76.0L98.0 76.0L98.5 78.0L99.0 80.0L100.0 81.7L100.5 82.0L102.0 83.1L103.0 84.0L104.0 85.2L105.0 86.0L106.0 87.0L108.0 87.7L108.6 88.0L110.0 88.6L112.0 88.6L114.0 88.5L115.5 88.0L116.0 87.7L117.1 86.0L117.2 84.0L117.0 82.0L116.9 80.0L117.1 78.0L117.3 76.0L117.4 74.0L117.4 72.0L117.5 70.0L117.5 68.0L117.5 66.0L117.6 64.0L117.7 62.0L117.9 60.0L118.0 59.5L118.5 58.0L119.9 56.0L120.0 55.4L120.3 54.0L120.0 53.3L119.0 52.0L118.0 50.7L117.4 50.0L116.3 48.0L116.0 47.4L114.7 46.0L114.0 45.5L112.0 45.5L110.0 45.4ZM112.9 92.0L112.0 92.1L110.0 92.5L109.3 94.0L109.1 96.0L109.4 98.0L109.8 100.0L110.0 100.1L112.0 100.4L114.0 100.6L116.0 100.4L117.4 100.0L118.0 99.0L119.0 98.0L120.0 97.2L120.7 96.0L120.7 94.0L120.0 93.0L118.0 92.5L116.2 92.0L116.0 91.9L114.0 91.8ZM156.0 75.5L158.0 75.0L160.0 74.5L162.0 74.3L164.0 74.1L166.0 74.1L168.0 74.3L170.0 74.6L172.0 76.0L172.0 76.0L173.8 78.0L174.0 78.2L176.0 79.3L178.0 79.6L180.0 80.0L182.0 80.0L184.0 80.0L186.0 80.0L188.0 80.0L190.0 80.0L192.0 80.0L192.0 80.0L192.0 82.0L192.0 84.0L192.0 86.0L192.0 88.0L192.0 90.0L192.0 90.0L190.0 90.0L188.0 90.0L186.0 90.0L184.0 90.1L182.0 90.3L180.0 90.5L178.0 91.0L176.0 91.3L174.0 91.3L172.0 91.0L170.0 90.8L168.0 90.7L166.0 90.6L164.0 90.6L162.0 90.6L160.0 90.6L158.0 90.6L156.0 90.7L154.0 90.9L152.0 91.6L150.6 92.0L150.0 92.2L148.4 94.0L148.0 95.1L147.6 96.0L147.9 98.0L148.0 98.2L148.5 100.0L150.0 101.9L150.0 102.0L150.8 104.0L152.0 106.0L152.0 106.0L153.1 108.0L153.7 110.0L153.8 112.0L153.9 114.0L154.0 115.9L154.0 116.0L154.0 118.0L154.0 120.0L154.2 122.0L154.3 124.0L154.6 126.0L155.2 128.0L155.7 130.0L156.0 131.9L156.0 132.0L156.5 134.0L157.3 136.0L158.0 137.0L159.1 138.0L160.0 138.6L162.0 138.2L162.8 138.0L164.0 137.6L165.0 138.0L166.0 138.6L166.7 140.0L167.0 142.0L167.2 144.0L167.6 146.0L168.0 147.0L168.5 148.0L170.0 150.0L170.0 150.0L172.0 151.9L172.1 152.0L174.0 153.2L175.1 154.0L176.0 155.2L176.4 156.0L176.7 158.0L177.0 160.0L177.1 162.0L177.2 164.0L177.6 166.0L178.0 167.0L178.5 168.0L180.0 170.0L180.0 170.0L182.0 171.5L183.0 172.0L184.0 172.4L186.0 172.8L188.0 172.9L190.0 173.0L192.0 173.0L192.0 174.0L192.0 176.0L192.0 178.0L192.0 180.0L192.0 182.0L190.0 182.0L188.0 182.0L186.0 182.0L184.0 182.0L182.0 182.0L180.0 182.0L178.0 182.0L176.0 182.0L174.0 182.0L172.0 182.0L170.0 182.0L168.0 182.0L166.0 182.0L164.0 182.0L162.0 182.0L160.0 182.0L158.0 182.0L156.0 182.0L154.0 182.0L152.0 182.0L150.0 182.0L148.0 182.0L146.0 182.0L144.0 182.0L144.0 180.0L144.1 178.0L144.1 176.0L144.2 174.0L144.4 172.0L144.5 170.0L144.6 168.0L144.8 166.0L144.8 164.0L144.8 162.0L144.9 160.0L144.8 158.0L144.8 156.0L144.8 154.0L144.6 152.0L144.5 150.0L144.7 148.0L144.9 146.0L145.8 144.0L146.0 143.8L148.0 142.3L148.3 142.0L150.0 140.1L150.1 140.0L151.7 138.0L152.0 137.2L152.3 136.0L152.8 134.0L153.1 132.0L153.3 130.0L153.0 128.0L152.8 126.0L152.6 124.0L152.6 122.0L152.5 120.0L152.5 118.0L152.5 116.0L152.4 114.0L152.2 112.0L152.0 110.0L152.0 110.0L150.9 108.0L150.0 106.8L148.0 106.0L147.9 106.0L146.0 104.9L144.0 104.0L143.9 104.0L142.0 102.2L141.8 102.0L140.1 100.0L140.9 98.0L141.6 96.0L142.0 95.7L143.8 94.0L144.0 93.9L146.0 92.4L146.4 92.0L148.0 90.2L148.1 90.0L148.6 88.0L149.1 86.0L149.5 84.0L149.9 82.0L150.0 81.3L150.6 80.0L152.0 79.1L153.2 78.0L154.0 77.1L155.2 76.0ZM10.0 140.1L12.0 141.4L13.1 142.0L14.0 142.4L15.6 144.0L16.0 144.5L16.9 146.0L17.8 148.0L18.0 148.3L19.3 150.0L19.4 152.0L19.4 154.0L18.8 156.0L18.0 157.0L17.0 158.0L16.0 158.8L14.0 159.6L12.0 159.8L10.0 160.0L8.0 160.0L8.0 158.0L8.0 156.0L8.0 154.0L8.0 152.0L8.0 150.0L8.0 148.0L8.0 146.0L8.0 144.0L8.0 142.0L8.0 140.0Z"/>
<path fill="#ffd800" stroke="#ffd800" stroke-width="0.6" d="M108.0 18.0L110.0 18.0L112.0 18.0L113.0 18.0L113.0 20.0L113.0 22.0L113.0 24.0L113.0 26.0L113.0 28.0L113.0 30.0L113.5 32.0L114.0 34.0L114.0 34.1L116.0 35.8L116.3 36.0L118.0 36.7L120.0 38.0L120.0 38.0L121.9 40.0L122.0 40.2L123.0 42.0L123.6 44.0L124.0 45.1L124.3 46.0L125.3 48.0L126.0 49.7L126.2 50.0L127.1 52.0L127.9 54.0L127.7 56.0L126.0 57.8L125.8 58.0L124.0 59.8L123.8 60.0L123.2 62.0L122.5 64.0L122.1 66.0L122.1 68.0L122.0 70.0L122.0 72.0L122.0 73.2L122.0 74.0L122.0 74.1L122.2 76.0L122.5 78.0L122.8 80.0L124.0 81.7L124.2 82.0L125.6 84.0L126.0 84.6L127.3 86.0L128.0 86.7L128.9 88.0L129.9 90.0L130.0 90.1L132.0 90.8L134.0 91.6L136.0 91.8L138.0 91.5L140.0 91.2L142.0 90.4L143.0 90.0L144.0 88.7L144.3 88.0L145.0 86.0L145.5 84.0L145.7 82.0L145.9 80.0L146.0 79.8L146.8 78.0L148.0 76.3L148.4 76.0L150.0 74.6L150.5 74.0L152.0 72.4L152.6 72.0L154.0 71.3L156.0 70.8L158.0 70.6L160.0 70.4L162.0 70.1L162.5 70.0L164.0 69.5L166.0 69.1L168.0 69.0L170.0 68.9L172.0 69.0L174.0 69.2L176.0 68.9L177.6 68.0L178.0 67.8L180.0 66.3L180.3 66.0L182.0 64.9L183.4 64.0L184.0 63.8L186.0 63.3L188.0 63.2L190.0 63.0L192.0 63.0L192.0 64.0L192.0 66.0L192.0 68.0L192.0 70.0L192.0 72.0L192.0 74.0L192.0 76.0L192.0 78.0L192.0 80.0L190.0 80.0L188.0 80.0L186.0 80.0L184.0 80.0L182.0 80.0L180.0 80.0L178.0 79.6L176.0 79.3L174.0 78.2L173.8 78.0L172.0 76.0L172.0 76.0L170.0 74.6L168.0 74.3L166.0 74.1L164.0 74.1L162.0 74.3L160.0 74.5L158.0 75.0L156.0 75.5L155.2 76.0L154.0 77.1L153.2 78.0L152.0 79.1L150.6 80.0L150.0 81.3L149.9 82.0L149.5 84.0L149.1 86.0L148.6 88.0L148.1 90.0L148.0 90.2L146.4 92.0L146.0 92.4L144.0 93.9L143.8 94.0L142.0 95.7L141.6 96.0L140.9 98.0L140.1 100.0L141.8 102.0L142.0 102.2L143.9 104.0L144.0 104.0L146.0 104.9L147.9 106.0L148.0 106.0L150.0 106.8L150.9 108.0L152.0 110.0L152.0 110.0L152.2 112.0L152.4 114.0L152.5 116.0L152.5 118.0L152.5 120.0L152.6 122.0L152.6 124.0L152.8 126.0L153.0 128.0L153.3 130.0L153.1 132.0L152.8 134.0L152.3 136.0L152.0 137.2L151.7 138.0L150.1 140.0L150.0 140.1L148.3 142.0L148.0 142.3L146.0 143.8L145.8 144.0L144.9 146.0L144.7 148.0L144.5 150.0L144.6 152.0L144.8 154.0L144.8 156.0L144.8 158.0L144.9 160.0L144.8 162.0L144.8 164.0L144.8 166.0L144.6 168.0L144.5 170.0L144.4 172.0L144.2 174.0L144.1 176.0L144.1 178.0L144.0 180.0L144.0 182.0L144.0 182.0L142.0 182.0L140.0 182.0L140.0 180.0L140.1 178.0L140.1 176.0L140.3 174.0L140.6 172.0L140.9 170.0L141.1 168.0L141.3 166.0L141.4 164.0L141.5 162.0L141.5 160.0L141.5 158.0L141.4 156.0L141.3 154.0L141.1 152.0L140.9 150.0L140.7 148.0L140.6 146.0L140.9 144.0L141.8 142.0L142.0 141.6L142.9 140.0L144.0 138.8L144.9 138.0L146.0 137.0L147.0 136.0L148.0 135.1L149.1 134.0L150.0 133.2L150.6 132.0L151.3 130.0L151.2 128.0L151.1 126.0L151.1 124.0L151.0 122.0L151.0 120.0L151.0 118.0L151.0 116.0L150.9 114.0L150.6 112.0L150.3 110.0L150.0 109.5L148.0 108.7L146.3 108.0L146.0 107.9L144.0 107.4L142.0 107.1L140.0 106.7L138.0 106.2L137.4 106.0L136.0 105.3L134.0 104.0L134.0 104.0L132.0 102.8L130.0 102.1L128.0 102.4L126.0 102.5L124.0 102.9L122.0 103.4L120.0 103.9L119.7 104.0L118.0 105.1L116.5 106.0L116.0 106.3L114.0 106.8L112.0 106.7L110.0 106.7L108.0 106.3L106.3 106.0L106.0 105.9L104.0 105.0L102.8 104.0L102.0 102.6L101.7 102.0L101.1 100.0L100.9 98.0L100.8 96.0L100.4 94.0L100.0 92.8L99.7 92.0L99.0 90.0L98.0 88.0L98.0 88.0L97.2 86.0L96.2 84.0L96.0 83.5L95.3 82.0L94.6 80.0L94.0 78.0L94.0 77.8L93.4 76.0L92.8 74.0L92.2 72.0L92.0 71.5L91.5 70.0L91.0 68.0L90.5 66.0L90.0 64.1L89.9 64.0L88.5 62.0L88.0 61.2L87.4 60.0L87.0 58.0L86.5 56.0L86.0 54.6L85.5 54.0L84.0 53.1L82.0 53.4L80.0 53.6L79.7 54.0L78.8 56.0L78.6 58.0L78.4 60.0L78.3 62.0L78.1 64.0L78.0 64.5L77.7 66.0L77.3 68.0L76.9 70.0L77.1 72.0L77.4 74.0L78.0 75.7L78.1 76.0L79.4 78.0L80.0 79.0L80.8 80.0L81.2 82.0L81.7 84.0L82.0 85.2L82.2 86.0L83.2 88.0L84.0 89.1L84.7 90.0L85.2 92.0L85.6 94.0L86.0 96.0L86.0 96.4L86.1 98.0L86.3 100.0L86.9 102.0L87.5 104.0L88.0 105.4L88.2 106.0L88.7 108.0L89.2 110.0L89.7 112.0L90.0 112.9L90.3 114.0L90.5 116.0L90.2 118.0L90.0 119.8L90.0 120.0L89.2 122.0L88.5 124.0L88.0 124.9L87.4 126.0L86.0 128.0L86.0 128.0L84.5 130.0L84.0 131.4L83.8 132.0L83.1 134.0L83.4 136.0L84.0 136.8L84.8 138.0L86.0 139.9L86.0 140.0L86.3 142.0L86.6 144.0L86.7 146.0L86.8 148.0L86.8 150.0L86.8 152.0L86.8 154.0L87.0 156.0L87.2 158.0L87.4 160.0L87.4 162.0L87.4 164.0L87.0 166.0L86.0 167.7L85.7 168.0L84.0 169.3L82.6 170.0L82.0 171.1L81.5 172.0L80.5 174.0L80.0 176.0L80.0 178.0L80.0 180.0L80.0 182.0L80.0 182.0L78.0 182.0L76.0 182.0L74.0 182.0L72.0 182.0L70.0 182.0L70.0 182.0L70.0 180.0L70.0 178.0L70.0 176.0L70.0 176.0L70.2 174.0L70.6 172.0L71.0 170.0L72.0 169.1L73.8 168.0L74.0 167.9L76.0 167.2L78.0 166.6L80.0 166.2L80.5 166.0L82.0 165.0L83.4 164.0L84.0 162.9L84.2 162.0L84.5 160.0L84.6 158.0L84.6 156.0L84.6 154.0L84.6 152.0L84.6 150.0L84.6 148.0L84.6 146.0L84.4 144.0L84.0 142.5L83.8 142.0L83.0 140.0L82.0 138.7L81.5 138.0L80.4 136.0L80.2 134.0L80.7 132.0L81.3 130.0L82.0 128.5L82.3 128.0L83.9 126.0L84.0 125.8L84.9 124.0L85.5 122.0L86.0 120.4L86.1 120.0L86.2 118.0L86.3 116.0L86.1 114.0L86.0 113.4L85.6 112.0L85.2 110.0L84.4 108.0L84.0 106.8L83.7 106.0L83.2 104.0L82.7 102.0L82.2 100.0L82.0 99.1L81.7 98.0L81.2 96.0L80.5 94.0L80.0 92.5L79.9 92.0L79.4 90.0L79.1 88.0L78.8 86.0L78.5 84.0L78.1 82.0L78.0 81.3L77.8 80.0L76.5 78.0L76.0 77.2L75.3 76.0L74.6 74.0L74.3 72.0L74.1 70.0L74.2 68.0L74.3 66.0L74.3 64.0L74.2 62.0L74.2 60.0L74.1 58.0L74.1 56.0L74.3 54.0L74.8 52.0L75.6 50.0L76.0 49.6L77.8 48.0L78.0 47.8L79.4 46.0L80.0 45.0L80.6 44.0L81.9 42.0L82.0 41.9L83.4 40.0L84.0 39.2L86.0 38.5L88.0 39.1L89.9 40.0L90.0 40.0L91.4 42.0L92.0 43.3L92.3 44.0L92.5 46.0L92.4 48.0L92.3 50.0L92.2 52.0L92.2 54.0L92.2 56.0L92.3 58.0L92.4 60.0L92.9 62.0L93.3 64.0L93.7 66.0L94.0 67.3L94.1 68.0L94.5 70.0L95.0 72.0L95.5 74.0L96.0 76.0L96.0 76.1L96.5 78.0L96.9 80.0L97.8 82.0L98.0 82.3L99.2 84.0L100.0 85.3L100.7 86.0L101.8 88.0L102.0 88.3L103.0 90.0L103.4 92.0L103.8 94.0L104.0 95.7L104.1 96.0L104.3 98.0L104.6 100.0L106.0 101.6L106.7 102.0L108.0 102.7L110.0 103.5L112.0 103.7L114.0 103.9L116.0 103.4L118.0 102.4L119.0 102.0L120.0 101.7L122.0 101.1L124.0 100.5L125.8 100.0L126.0 99.7L127.2 98.0L128.0 96.5L128.2 96.0L128.0 95.3L127.6 94.0L126.2 92.0L126.0 91.6L125.0 90.0L124.0 88.9L123.4 88.0L122.4 86.0L122.0 85.2L121.4 84.0L120.0 82.2L119.8 82.0L119.0 80.0L119.0 78.0L118.9 76.0L118.9 74.0L119.0 72.0L119.0 70.0L119.0 68.0L119.0 66.0L119.1 64.0L119.4 62.0L119.6 60.0L120.0 59.3L121.4 58.0L122.0 57.4L123.1 56.0L123.4 54.0L122.7 52.0L122.0 50.3L121.9 50.0L121.0 48.0L120.1 46.0L120.0 45.7L118.9 44.0L118.0 42.9L117.1 42.0L116.0 41.1L114.0 40.1L113.7 40.0L112.0 39.3L110.0 38.0L110.0 38.0L108.0 36.0L108.0 36.0L107.3 34.0L107.2 32.0L107.0 30.0L107.0 28.0L107.0 26.0L107.0 24.0L107.0 22.0L107.0 20.0L107.0 18.0ZM10.0 90.0L12.0 90.2L14.0 90.4L16.0 91.2L17.1 92.0L18.0 92.7L19.2 94.0L20.0 95.0L20.8 96.0L22.0 97.3L22.8 98.0L24.0 99.0L26.0 100.0L26.0 100.0L28.0 100.8L30.0 101.8L30.4 102.0L32.0 102.9L33.3 104.0L34.0 104.6L36.0 106.0L36.0 106.0L38.0 106.9L39.7 108.0L40.0 108.2L41.7 110.0L42.0 110.6L42.6 112.0L43.3 114.0L43.6 116.0L43.8 118.0L44.0 120.0L44.0 120.0L44.4 122.0L44.7 124.0L45.1 126.0L45.4 128.0L45.8 130.0L46.0 130.4L46.9 132.0L47.7 134.0L48.0 135.2L48.2 136.0L48.4 138.0L48.7 140.0L48.8 142.0L49.0 144.0L49.1 146.0L49.0 148.0L48.8 150.0L48.9 152.0L49.0 154.0L48.5 156.0L48.0 156.9L47.2 158.0L46.0 159.2L45.0 160.0L44.0 160.8L42.7 162.0L42.0 162.9L41.2 164.0L40.4 166.0L40.2 168.0L40.0 170.0L40.0 172.0L40.0 174.0L40.0 176.0L40.0 176.0L40.0 178.0L40.0 180.0L40.0 182.0L38.0 182.0L36.0 182.0L34.0 182.0L32.0 182.0L30.0 182.0L28.0 182.0L26.0 182.0L24.0 182.0L22.0 182.0L20.0 182.0L18.0 182.0L16.0 182.0L14.0 182.0L12.0 182.0L10.0 182.0L8.0 182.0L8.0 180.0L8.0 178.0L8.0 176.0L8.0 174.0L8.0 172.0L8.0 170.0L8.0 168.0L8.0 166.0L8.0 164.0L8.0 162.0L8.0 160.0L8.0 160.0L10.0 160.0L12.0 159.8L14.0 159.6L16.0 158.8L17.0 158.0L18.0 157.0L18.8 156.0L19.4 154.0L19.4 152.0L19.3 150.0L18.0 148.3L17.8 148.0L16.9 146.0L16.0 144.5L15.6 144.0L14.0 142.4L13.1 142.0L12.0 141.4L10.0 140.1L8.0 140.0L8.0 140.0L8.0 138.0L8.0 136.0L8.0 134.0L8.0 132.0L8.0 130.0L8.0 128.0L8.0 126.0L8.0 124.0L8.0 122.0L8.0 120.0L8.0 118.0L8.0 116.0L8.0 114.0L8.0 113.0L10.0 113.0L12.0 113.3L14.0 113.7L14.7 114.0L16.0 115.3L16.4 116.0L16.8 118.0L17.1 120.0L16.5 122.0L16.0 124.0L16.0 124.0L15.6 126.0L15.5 128.0L15.4 130.0L15.5 132.0L15.7 134.0L16.0 135.1L16.1 136.0L16.7 138.0L17.2 140.0L18.0 141.1L18.7 142.0L20.0 143.3L20.8 144.0L22.0 145.8L22.1 146.0L23.5 148.0L24.0 148.6L25.3 150.0L26.0 151.1L26.8 152.0L28.0 153.0L29.9 154.0L30.0 154.1L32.0 154.1L34.0 154.2L34.8 154.0L36.0 153.8L38.0 153.1L39.9 152.0L40.0 152.0L42.0 150.4L42.4 150.0L44.0 149.1L45.1 148.0L46.0 146.9L46.4 146.0L46.7 144.0L46.7 142.0L46.8 140.0L46.5 138.0L46.2 136.0L46.0 135.4L45.4 134.0L44.1 132.0L44.0 131.9L42.9 130.0L42.6 128.0L42.3 126.0L42.0 124.6L41.9 124.0L41.3 122.0L40.6 120.0L40.2 118.0L40.0 117.2L39.7 116.0L38.8 114.0L38.0 112.9L37.2 112.0L36.0 110.8L35.0 110.0L34.0 109.3L32.3 108.0L32.0 107.7L30.2 106.0L30.0 105.8L28.0 104.1L27.9 104.0L26.0 103.0L24.0 102.0L23.9 102.0L22.0 100.8L21.1 100.0L20.0 99.0L19.0 98.0L18.0 96.6L17.6 96.0L16.1 94.0L16.0 94.0L14.0 93.0L12.0 92.7L10.0 92.4L8.0 92.4L8.0 92.0L8.0 90.0Z"/>
<path fill="#ff9500" stroke="#ff9500" stroke-width="0.6" d="M114.0 18.0L116.0 18.0L118.0 18.0L120.0 18.0L122.0 18.0L124.0 18.0L126.0 18.0L128.0 18.0L130.0 18.0L132.0 18.0L134.0 18.0L136.0 18.0L138.0 18.0L140.0 18.0L142.0 18.0L144.0 18.0L146.0 18.0L148.0 18.0L150.0 18.0L152.0 18.0L154.0 18.0L156.0 18.0L158.0 18.0L160.0 18.0L162.0 18.0L164.0 18.0L166.0 18.0L168.0 18.0L170.0 18.0L170.0 20.0L169.8 22.0L169.6 24.0L168.8 26.0L168.0 27.0L167.0 28.0L166.0 28.8L164.0 29.6L162.0 29.8L160.0 30.0L158.0 30.0L156.0 30.0L154.0 29.9L152.0 29.6L150.0 29.4L148.0 28.6L146.0 28.0L145.5 28.0L144.0 27.9L142.6 28.0L142.0 28.1L140.0 28.3L138.3 30.0L138.0 30.9L137.7 32.0L137.1 34.0L136.2 36.0L136.0 36.2L134.0 38.0L134.0 38.0L132.1 40.0L132.0 40.6L131.7 42.0L131.3 44.0L131.5 46.0L132.0 47.2L132.3 48.0L132.8 50.0L133.4 52.0L133.8 54.0L134.0 54.7L134.5 56.0L135.5 58.0L136.0 58.8L136.9 60.0L137.5 62.0L138.0 62.3L140.0 62.6L142.0 62.6L144.0 62.5L146.0 62.5L148.0 62.5L150.0 62.5L152.0 62.5L154.0 62.5L156.0 62.4L158.0 62.3L160.0 62.2L160.6 62.0L162.0 61.6L164.0 60.9L166.0 60.4L168.0 60.2L169.9 60.0L170.0 60.0L172.0 59.8L174.0 59.6L176.0 59.1L178.0 58.5L179.9 58.0L180.0 58.0L182.0 57.6L184.0 57.3L186.0 57.1L188.0 57.0L190.0 57.0L192.0 57.0L192.0 58.0L192.0 60.0L192.0 62.0L192.0 63.0L190.0 63.0L188.0 63.2L186.0 63.3L184.0 63.8L183.4 64.0L182.0 64.9L180.3 66.0L180.0 66.3L178.0 67.8L177.6 68.0L176.0 68.9L174.0 69.2L172.0 69.0L170.0 68.9L168.0 69.0L166.0 69.1L164.0 69.5L162.5 70.0L162.0 70.1L160.0 70.4L158.0 70.6L156.0 70.8L154.0 71.3L152.6 72.0L152.0 72.4L150.5 74.0L150.0 74.6L148.4 76.0L148.0 76.3L146.8 78.0L146.0 79.8L145.9 80.0L145.7 82.0L145.5 84.0L145.0 86.0L144.3 88.0L144.0 88.7L143.0 90.0L142.0 90.4L140.0 91.2L138.0 91.5L136.0 91.8L134.0 91.6L132.0 90.8L130.0 90.1L129.9 90.0L128.9 88.0L128.0 86.7L127.3 86.0L126.0 84.6L125.6 84.0L124.2 82.0L124.0 81.7L122.8 80.0L122.5 78.0L122.2 76.0L122.0 74.1L122.0 74.0L122.0 73.2L122.0 72.0L122.0 70.0L122.1 68.0L122.1 66.0L122.5 64.0L123.2 62.0L123.8 60.0L124.0 59.8L125.8 58.0L126.0 57.8L127.7 56.0L127.9 54.0L127.1 52.0L126.2 50.0L126.0 49.7L125.3 48.0L124.3 46.0L124.0 45.1L123.6 44.0L123.0 42.0L122.0 40.2L121.9 40.0L120.0 38.0L120.0 38.0L118.0 36.7L116.3 36.0L116.0 35.8L114.0 34.1L114.0 34.0L113.5 32.0L113.0 30.0L113.0 28.0L113.0 26.0L113.0 24.0L113.0 22.0L113.0 20.0L113.0 18.0ZM135.9 64.0L135.2 66.0L136.0 66.9L136.1 66.0L136.0 64.0L136.0 63.9ZM80.0 53.6L82.0 53.4L84.0 53.1L85.5 54.0L86.0 54.6L86.5 56.0L87.0 58.0L87.4 60.0L88.0 61.2L88.5 62.0L89.9 64.0L90.0 64.1L90.5 66.0L91.0 68.0L91.5 70.0L92.0 71.5L92.2 72.0L92.8 74.0L93.4 76.0L94.0 77.8L94.0 78.0L94.6 80.0L95.3 82.0L96.0 83.5L96.2 84.0L97.2 86.0L98.0 88.0L98.0 88.0L99.0 90.0L99.7 92.0L100.0 92.8L100.4 94.0L100.8 96.0L100.9 98.0L101.1 100.0L101.7 102.0L102.0 102.6L102.8 104.0L104.0 105.0L106.0 105.9L106.3 106.0L108.0 106.3L110.0 106.7L112.0 106.7L114.0 106.8L116.0 106.3L116.5 106.0L118.0 105.1L119.7 104.0L120.0 103.9L122.0 103.4L124.0 102.9L126.0 102.5L128.0 102.4L130.0 102.1L132.0 102.8L134.0 104.0L134.0 104.0L136.0 105.3L137.4 106.0L138.0 106.2L140.0 106.7L142.0 107.1L144.0 107.4L146.0 107.9L146.3 108.0L148.0 108.7L150.0 109.5L150.3 110.0L150.6 112.0L150.9 114.0L151.0 116.0L151.0 118.0L151.0 120.0L151.0 122.0L151.1 124.0L151.1 126.0L151.2 128.0L151.3 130.0L150.6 132.0L150.0 133.2L149.1 134.0L148.0 135.1L147.0 136.0L146.0 137.0L144.9 138.0L144.0 138.8L142.9 140.0L142.0 141.6L141.8 142.0L140.9 144.0L140.6 146.0L140.7 148.0L140.9 150.0L141.1 152.0L141.3 154.0L141.4 156.0L141.5 158.0L141.5 160.0L141.5 162.0L141.4 164.0L141.3 166.0L141.1 168.0L140.9 170.0L140.6 172.0L140.3 174.0L140.1 176.0L140.1 178.0L140.0 180.0L140.0 182.0L140.0 182.0L138.0 182.0L136.0 182.0L136.0 182.0L136.0 180.0L136.0 179.7L136.1 178.0L136.2 176.0L136.5 174.0L137.0 172.0L137.4 170.0L137.8 168.0L138.0 166.9L138.2 166.0L138.4 164.0L138.4 162.0L138.5 160.0L138.4 158.0L138.4 156.0L138.2 154.0L138.0 152.9L137.8 152.0L137.5 150.0L137.2 148.0L136.8 146.0L136.7 144.0L137.1 142.0L137.5 140.0L138.0 139.1L138.7 138.0L140.0 136.7L140.6 136.0L142.0 134.2L142.3 134.0L144.0 132.5L144.6 132.0L146.0 131.1L147.3 130.0L147.6 128.0L147.9 126.0L148.0 125.0L148.1 124.0L148.0 122.1L148.0 122.0L147.9 120.0L147.9 118.0L147.9 116.0L147.3 114.0L146.1 112.0L146.0 111.8L144.0 110.0L144.0 110.0L142.0 109.9L140.0 109.8L138.0 109.6L136.0 109.3L134.0 108.9L132.1 108.0L132.0 107.9L130.0 106.2L128.7 106.0L128.0 105.9L126.0 105.8L124.0 106.0L123.8 106.0L122.0 106.8L120.0 107.3L119.0 108.0L118.0 108.5L116.0 109.1L114.0 109.4L112.0 109.5L110.0 109.5L108.0 109.5L106.0 109.4L104.0 109.2L102.0 108.7L100.0 108.1L98.0 108.0L97.2 108.0L96.0 108.0L96.0 108.0L94.2 110.0L94.3 112.0L94.4 114.0L94.3 116.0L94.1 118.0L94.0 118.8L93.9 120.0L93.2 122.0L92.5 124.0L92.0 124.7L91.0 126.0L90.0 126.7L89.0 128.0L88.0 129.4L87.5 130.0L86.9 132.0L86.2 134.0L86.5 136.0L87.5 138.0L88.0 139.6L88.1 140.0L88.3 142.0L88.4 144.0L88.5 146.0L88.5 148.0L88.5 150.0L88.6 152.0L88.7 154.0L88.9 156.0L89.3 158.0L89.7 160.0L89.9 162.0L90.0 162.5L90.3 164.0L90.4 166.0L90.4 168.0L90.2 170.0L90.2 172.0L90.1 174.0L90.0 176.0L90.0 178.0L90.0 180.0L90.0 182.0L90.0 182.0L88.0 182.0L86.0 182.0L84.0 182.0L82.0 182.0L80.0 182.0L80.0 180.0L80.0 178.0L80.0 176.0L80.5 174.0L81.5 172.0L82.0 171.1L82.6 170.0L84.0 169.3L85.7 168.0L86.0 167.7L87.0 166.0L87.4 164.0L87.4 162.0L87.4 160.0L87.2 158.0L87.0 156.0L86.8 154.0L86.8 152.0L86.8 150.0L86.8 148.0L86.7 146.0L86.6 144.0L86.3 142.0L86.0 140.0L86.0 139.9L84.8 138.0L84.0 136.8L83.4 136.0L83.1 134.0L83.8 132.0L84.0 131.4L84.5 130.0L86.0 128.0L86.0 128.0L87.4 126.0L88.0 124.9L88.5 124.0L89.2 122.0L90.0 120.0L90.0 119.8L90.2 118.0L90.5 116.0L90.3 114.0L90.0 112.9L89.7 112.0L89.2 110.0L88.7 108.0L88.2 106.0L88.0 105.4L87.5 104.0L86.9 102.0L86.3 100.0L86.1 98.0L86.0 96.4L86.0 96.0L85.6 94.0L85.2 92.0L84.7 90.0L84.0 89.1L83.2 88.0L82.2 86.0L82.0 85.2L81.7 84.0L81.2 82.0L80.8 80.0L80.0 79.0L79.4 78.0L78.1 76.0L78.0 75.7L77.4 74.0L77.1 72.0L76.9 70.0L77.3 68.0L77.7 66.0L78.0 64.5L78.1 64.0L78.3 62.0L78.4 60.0L78.6 58.0L78.8 56.0L79.7 54.0ZM80.0 70.0L80.0 70.4L80.6 72.0L81.0 74.0L82.0 75.2L82.4 76.0L83.7 78.0L84.0 79.0L84.5 80.0L85.2 82.0L85.7 84.0L86.0 84.5L87.4 86.0L88.0 86.8L88.6 88.0L89.2 90.0L89.3 92.0L89.4 94.0L89.5 96.0L89.7 98.0L89.9 100.0L90.0 100.2L92.0 100.9L94.0 101.7L96.0 100.2L96.1 100.0L96.2 98.0L96.3 96.0L96.1 94.0L96.0 93.6L95.3 92.0L94.6 90.0L94.0 88.9L93.0 88.0L92.1 86.0L92.0 85.6L91.7 84.0L91.3 82.0L91.1 80.0L90.7 78.0L90.3 76.0L90.0 74.7L89.3 74.0L88.0 72.7L87.5 72.0L86.5 70.0L86.0 69.4L84.0 68.6L82.0 69.2L80.0 69.9ZM10.0 92.4L12.0 92.7L14.0 93.0L16.0 94.0L16.1 94.0L17.6 96.0L18.0 96.6L19.0 98.0L20.0 99.0L21.1 100.0L22.0 100.8L23.9 102.0L24.0 102.0L26.0 103.0L27.9 104.0L28.0 104.1L30.0 105.8L30.2 106.0L32.0 107.7L32.3 108.0L34.0 109.3L35.0 110.0L36.0 110.8L37.2 112.0L38.0 112.9L38.8 114.0L39.7 116.0L40.0 117.2L40.2 118.0L40.6 120.0L41.3 122.0L41.9 124.0L42.0 124.6L42.3 126.0L42.6 128.0L42.9 130.0L44.0 131.9L44.1 132.0L45.4 134.0L46.0 135.4L46.2 136.0L46.5 138.0L46.8 140.0L46.7 142.0L46.7 144.0L46.4 146.0L46.0 146.9L45.1 148.0L44.0 149.1L42.4 150.0L42.0 150.4L40.0 152.0L39.9 152.0L38.0 153.1L36.0 153.8L34.8 154.0L34.0 154.2L32.0 154.1L30.0 154.1L29.9 154.0L28.0 153.0L26.8 152.0L26.0 151.1L25.3 150.0L24.0 148.6L23.5 148.0L22.1 146.0L22.0 145.8L20.8 144.0L20.0 143.3L18.7 142.0L18.0 141.1L17.2 140.0L16.7 138.0L16.1 136.0L16.0 135.1L15.7 134.0L15.5 132.0L15.4 130.0L15.5 128.0L15.6 126.0L16.0 124.0L16.0 124.0L16.5 122.0L17.1 120.0L16.8 118.0L16.4 116.0L16.0 115.3L14.7 114.0L14.0 113.7L12.0 113.3L10.0 113.0L8.0 113.0L8.0 112.0L8.0 110.0L8.0 108.0L8.0 107.0L10.0 107.0L12.0 107.0L14.0 107.1L16.0 107.3L18.0 107.9L18.1 108.0L20.0 109.9L20.1 110.0L22.0 111.9L22.0 112.0L22.9 114.0L23.4 116.0L23.9 118.0L24.0 118.6L24.5 120.0L24.0 120.6L23.1 122.0L22.0 123.2L21.2 124.0L20.0 125.4L19.8 126.0L19.6 128.0L19.4 130.0L19.4 132.0L19.5 134.0L19.7 136.0L20.0 137.1L20.6 138.0L21.6 140.0L22.0 140.3L23.8 142.0L24.0 142.3L25.3 144.0L26.0 144.8L27.3 146.0L28.0 146.6L29.2 148.0L30.0 149.4L32.0 149.6L34.0 149.8L36.0 148.7L36.7 148.0L38.0 147.2L40.0 146.3L40.6 146.0L42.0 144.7L42.8 144.0L43.5 142.0L44.0 140.4L44.1 140.0L44.0 139.7L43.2 138.0L42.5 136.0L42.0 135.0L41.6 134.0L40.7 132.0L40.2 130.0L40.0 128.5L39.8 128.0L38.9 126.0L38.0 124.3L37.9 124.0L36.8 122.0L36.2 120.0L36.0 119.3L35.5 118.0L34.9 116.0L34.0 114.9L32.7 114.0L32.0 113.7L30.0 112.2L29.6 112.0L28.0 110.6L27.6 110.0L26.0 108.2L25.7 108.0L24.1 106.0L24.0 106.0L22.0 105.4L20.1 104.0L20.0 104.0L18.0 102.9L17.2 102.0L16.3 100.0L16.0 99.5L14.7 98.0L14.0 97.0L12.4 96.0L12.0 95.9L10.0 95.4L8.0 95.4L8.0 94.0L8.0 92.4Z"/>
<path fill="#ff4c00" stroke="#ff4c00" stroke-width="0.6" d="M170.0 18.0L172.0 18.0L174.0 18.0L176.0 18.0L178.0 18.0L180.0 18.0L182.0 18.0L184.0 18.0L186.0 18.0L188.0 18.0L190.0 18.0L192.0 18.0L192.0 20.0L192.0 22.0L192.0 24.0L192.0 26.0L192.0 28.0L192.0 30.0L192.0 32.0L192.0 34.0L192.0 36.0L192.0 38.0L192.0 40.0L192.0 42.0L192.0 44.0L192.0 46.0L192.0 48.0L192.0 50.0L192.0 52.0L192.0 54.0L192.0 56.0L192.0 57.0L190.0 57.0L188.0 57.0L186.0 57.1L184.0 57.3L182.0 57.6L180.0 58.0L179.9 58.0L178.0 58.5L176.0 59.1L174.0 59.6L172.0 59.8L170.0 60.0L169.9 60.0L168.0 60.2L166.0 60.4L164.0 60.9L162.0 61.6L160.6 62.0L160.0 62.2L158.0 62.3L156.0 62.4L154.0 62.5L152.0 62.5L150.0 62.5L148.0 62.5L146.0 62.5L144.0 62.5L142.0 62.6L140.0 62.6L138.0 62.3L137.5 62.0L136.9 60.0L136.0 58.8L135.5 58.0L134.5 56.0L134.0 54.7L133.8 54.0L133.4 52.0L132.8 50.0L132.3 48.0L132.0 47.2L131.5 46.0L131.3 44.0L131.7 42.0L132.0 40.6L132.1 40.0L134.0 38.0L134.0 38.0L136.0 36.2L136.2 36.0L137.1 34.0L137.7 32.0L138.0 30.9L138.3 30.0L140.0 28.3L142.0 28.1L142.6 28.0L144.0 27.9L145.5 28.0L146.0 28.0L148.0 28.6L150.0 29.4L152.0 29.6L154.0 29.9L156.0 30.0L158.0 30.0L160.0 30.0L162.0 29.8L164.0 29.6L166.0 28.8L167.0 28.0L168.0 27.0L168.8 26.0L169.6 24.0L169.8 22.0L170.0 20.0L170.0 18.0ZM136.0 63.9L136.0 64.0L136.1 66.0L136.0 66.9L135.2 66.0L135.9 64.0ZM80.0 69.9L82.0 69.2L84.0 68.6L86.0 69.4L86.5 70.0L87.5 72.0L88.0 72.7L89.3 74.0L90.0 74.7L90.3 76.0L90.7 78.0L91.1 80.0L91.3 82.0L91.7 84.0L92.0 85.6L92.1 86.0L93.0 88.0L94.0 88.9L94.6 90.0L95.3 92.0L96.0 93.6L96.1 94.0L96.3 96.0L96.2 98.0L96.1 100.0L96.0 100.2L94.0 101.7L92.0 100.9L90.0 100.2L89.9 100.0L89.7 98.0L89.5 96.0L89.4 94.0L89.3 92.0L89.2 90.0L88.6 88.0L88.0 86.8L87.4 86.0L86.0 84.5L85.7 84.0L85.2 82.0L84.5 80.0L84.0 79.0L83.7 78.0L82.4 76.0L82.0 75.2L81.0 74.0L80.6 72.0L80.0 70.4L80.0 70.0ZM10.0 95.4L12.0 95.9L12.4 96.0L14.0 97.0L14.7 98.0L16.0 99.5L16.3 100.0L17.2 102.0L18.0 102.9L20.0 104.0L20.1 104.0L22.0 105.4L24.0 106.0L24.1 106.0L25.7 108.0L26.0 108.2L27.6 110.0L28.0 110.6L29.6 112.0L30.0 112.2L32.0 113.7L32.7 114.0L34.0 114.9L34.9 116.0L35.5 118.0L36.0 119.3L36.2 120.0L36.8 122.0L37.9 124.0L38.0 124.3L38.9 126.0L39.8 128.0L40.0 128.5L40.2 130.0L40.7 132.0L41.6 134.0L42.0 135.0L42.5 136.0L43.2 138.0L44.0 139.7L44.1 140.0L44.0 140.4L43.5 142.0L42.8 144.0L42.0 144.7L40.6 146.0L40.0 146.3L38.0 147.2L36.7 148.0L36.0 148.7L34.0 149.8L32.0 149.6L30.0 149.4L29.2 148.0L28.0 146.6L27.3 146.0L26.0 144.8L25.3 144.0L24.0 142.3L23.8 142.0L22.0 140.3L21.6 140.0L20.6 138.0L20.0 137.1L19.7 136.0L19.5 134.0L19.4 132.0L19.4 130.0L19.6 128.0L19.8 126.0L20.0 125.4L21.2 124.0L22.0 123.2L23.1 122.0L24.0 120.6L24.5 120.0L24.0 118.6L23.9 118.0L23.4 116.0L22.9 114.0L22.0 112.0L22.0 111.9L20.1 110.0L20.0 109.9L18.1 108.0L18.0 107.9L16.0 107.3L14.0 107.1L12.0 107.0L10.0 107.0L8.0 107.0L8.0 106.0L8.0 104.0L8.0 102.0L8.0 100.0L8.0 98.0L8.0 96.0L8.0 95.4ZM124.0 106.0L126.0 105.8L128.0 105.9L128.7 106.0L130.0 106.2L132.0 107.9L132.1 108.0L134.0 108.9L136.0 109.3L138.0 109.6L140.0 109.8L142.0 109.9L144.0 110.0L144.0 110.0L146.0 111.8L146.1 112.0L147.3 114.0L147.9 116.0L147.9 118.0L147.9 120.0L148.0 122.0L148.0 122.1L148.1 124.0L148.0 125.0L147.9 126.0L147.6 128.0L147.3 130.0L146.0 131.1L144.6 132.0L144.0 132.5L142.3 134.0L142.0 134.2L140.6 136.0L140.0 136.7L138.7 138.0L138.0 139.1L137.5 140.0L137.1 142.0L136.7 144.0L136.8 146.0L137.2 148.0L137.5 150.0L137.8 152.0L138.0 152.9L138.2 154.0L138.4 156.0L138.4 158.0L138.5 160.0L138.4 162.0L138.4 164.0L138.2 166.0L138.0 166.9L137.8 168.0L137.4 170.0L137.0 172.0L136.5 174.0L136.2 176.0L136.1 178.0L136.0 179.7L136.0 180.0L136.0 182.0L134.0 182.0L132.0 182.0L130.0 182.0L128.0 182.0L126.0 182.0L124.0 182.0L122.0 182.0L120.0 182.0L118.0 182.0L116.0 182.0L114.0 182.0L112.0 182.0L110.0 182.0L108.0 182.0L106.0 182.0L104.0 182.0L102.0 182.0L100.0 182.0L98.0 182.0L96.0 182.0L94.0 182.0L92.0 182.0L90.0 182.0L90.0 180.0L90.0 178.0L90.0 176.0L90.1 174.0L90.2 172.0L90.2 170.0L90.4 168.0L90.4 166.0L90.3 164.0L90.0 162.5L89.9 162.0L89.7 160.0L89.3 158.0L88.9 156.0L88.7 154.0L88.6 152.0L88.5 150.0L88.5 148.0L88.5 146.0L88.4 144.0L88.3 142.0L88.1 140.0L88.0 139.6L87.5 138.0L86.5 136.0L86.2 134.0L86.9 132.0L87.5 130.0L88.0 129.4L89.0 128.0L90.0 126.7L91.0 126.0L92.0 124.7L92.5 124.0L93.2 122.0L93.9 120.0L94.0 118.8L94.1 118.0L94.3 116.0L94.4 114.0L94.3 112.0L94.2 110.0L96.0 108.0L96.0 108.0L97.2 108.0L98.0 108.0L100.0 108.1L102.0 108.7L104.0 109.2L106.0 109.4L108.0 109.5L110.0 109.5L112.0 109.5L114.0 109.4L116.0 109.1L118.0 108.5L119.0 108.0L120.0 107.3L122.0 106.8L123.8 106.0ZM115.3 114.0L114.0 114.4L112.0 115.7L111.5 116.0L110.0 116.9L108.0 117.4L106.0 117.9L105.7 118.0L104.0 118.8L102.7 120.0L102.0 120.8L100.7 122.0L100.0 122.5L98.8 124.0L98.0 125.1L97.3 126.0L96.0 127.1L95.0 128.0L94.0 128.6L92.0 129.9L91.8 130.0L90.3 132.0L90.0 132.4L89.6 134.0L89.6 136.0L89.9 138.0L90.0 138.4L90.8 140.0L91.0 142.0L91.2 144.0L91.3 146.0L91.3 148.0L91.3 150.0L91.6 152.0L91.9 154.0L92.0 154.2L92.5 156.0L93.2 158.0L93.7 160.0L94.0 161.7L94.1 162.0L94.7 164.0L95.9 166.0L96.0 166.1L98.0 166.5L100.0 166.8L101.1 166.0L102.0 164.9L102.7 164.0L104.0 162.2L104.3 162.0L106.0 160.9L108.0 160.4L110.0 160.0L112.0 160.2L114.0 160.4L116.0 161.2L117.1 162.0L118.0 162.7L119.2 164.0L120.0 165.0L120.8 166.0L122.0 167.3L122.9 168.0L124.0 168.8L126.0 169.6L128.0 169.8L130.0 169.9L132.0 168.5L132.6 168.0L134.0 166.9L134.4 166.0L134.8 164.0L135.0 162.0L135.1 160.0L135.0 158.0L134.9 156.0L134.5 154.0L134.0 152.5L133.7 152.0L132.4 150.0L132.0 149.1L131.5 148.0L130.7 146.0L130.3 144.0L130.4 142.0L130.4 140.0L131.1 138.0L131.8 136.0L132.0 135.0L132.2 134.0L132.3 132.0L132.5 130.0L132.5 128.0L132.5 126.0L132.4 124.0L132.1 122.0L132.0 121.5L131.7 120.0L130.0 118.3L129.1 118.0L128.0 117.7L126.0 117.2L124.0 116.3L123.6 116.0L122.0 114.7L121.2 114.0L120.0 113.4L118.0 113.6L116.0 113.8Z"/>
<path fill="#ff0000" stroke="#ff0000" stroke-width="0.6" d="M116.0 113.8L118.0 113.6L120.0 113.4L121.2 114.0L122.0 114.7L123.6 116.0L124.0 116.3L126.0 117.2L128.0 117.7L129.1 118.0L130.0 118.3L131.7 120.0L132.0 121.5L132.1 122.0L132.4 124.0L132.5 126.0L132.5 128.0L132.5 130.0L132.3 132.0L132.2 134.0L132.0 135.0L131.8 136.0L131.1 138.0L130.4 140.0L130.4 142.0L130.3 144.0L130.7 146.0L131.5 148.0L132.0 149.1L132.4 150.0L133.7 152.0L134.0 152.5L134.5 154.0L134.9 156.0L135.0 158.0L135.1 160.0L135.0 162.0L134.8 164.0L134.4 166.0L134.0 166.9L132.6 168.0L132.0 168.5L130.0 169.9L128.0 169.8L126.0 169.6L124.0 168.8L122.9 168.0L122.0 167.3L120.8 166.0L120.0 165.0L119.2 164.0L118.0 162.7L117.1 162.0L116.0 161.2L114.0 160.4L112.0 160.2L110.0 160.0L108.0 160.4L106.0 160.9L104.3 162.0L104.0 162.2L102.7 164.0L102.0 164.9L101.1 166.0L100.0 166.8L98.0 166.5L96.0 166.1L95.9 166.0L94.7 164.0L94.1 162.0L94.0 161.7L93.7 160.0L93.2 158.0L92.5 156.0L92.0 154.2L91.9 154.0L91.6 152.0L91.3 150.0L91.3 148.0L91.3 146.0L91.2 144.0L91.0 142.0L90.8 140.0L90.0 138.4L89.9 138.0L89.6 136.0L89.6 134.0L90.0 132.4L90.3 132.0L91.8 130.0L92.0 129.9L94.0 128.6L95.0 128.0L96.0 127.1L97.3 126.0L98.0 125.1L98.8 124.0L100.0 122.5L100.7 122.0L102.0 120.8L102.7 120.0L104.0 118.8L105.7 118.0L106.0 117.9L108.0 117.4L110.0 116.9L111.5 116.0L112.0 115.7L114.0 114.4L115.3 114.0Z"/>
<path d="M56.3 62.0 L62.4 65.5 L69.2 67.2 L74.4 67.2 L78.7 65.5 L84.7 65.5 L91.6 64.6 L98.5 63.8 L103.6 62.0 L107.1 59.5 L106.2 54.6 M79.6 50.0 L80.4 58.6 L84.7 60.3 L88.2 63.8 M56.3 62.0 L57.2 72.4 L58.9 80.1 M46.9 80.1 L58.9 80.1 L65.8 81.0 L76.1 80.1 L78.7 79.2 M77.8 65.5 L78.7 79.2 L78.7 93.0 L79.6 106.8 L80.4 112.0 M58.9 80.1 L62.4 84.4 L65.8 89.6 L67.5 96.4 L69.2 101.6 L71.8 105.0 L74.4 106.8 L79.6 106.8 M78.7 79.2 L84.7 80.1 L89.9 87.8 L93.3 90.4 L98.5 91.3 L101.9 91.3 M98.5 63.8 L99.3 75.8 L100.2 84.4 L99.3 91.3 L101.9 96.4 M50.6 96.5 L57.2 98.0 L62.0 99.0 L67.5 96.4 M115.5 50.5 L118.0 55.0 L121.4 60.2 L125.4 59.4 L129.3 61.0 L133.3 60.2 L135.7 62.6 L138.1 61.0 L141.3 58.6 L146.1 57.8 L152.5 57.0 L158.9 56.2 L166.5 55.5 M121.4 60.2 L123.0 65.8 L125.4 70.6 L127.7 75.4 L128.5 81.7 L128.5 86.5 L129.3 91.3 M129.3 88.1 L134.9 90.5 L139.7 89.7 L142.9 87.3 L144.5 81.7 L144.5 75.4 L147.7 72.2 L150.9 69.8 L155.7 69.0 L162.1 69.0 L168.5 70.6 L174.0 73.0 M142.9 87.3 L144.5 91.2 L146.0 98.9 L147.5 105.1 L153.7 108.2 L158.4 111.3 L163.0 109.7 L169.2 103.5 L173.6 98.9 M158.4 111.3 L159.9 115.9 L156.8 120.5 L155.3 126.0 L154.0 134.5 M106.2 54.6 L104.6 64.2 L107.8 69.0 L112.6 75.4 L114.2 81.7 L112.6 86.5 L109.4 89.7 L106.2 92.9 L104.6 97.7 M114.2 81.7 L122.2 83.3 L128.5 83.3 M106.2 92.9 L112.6 92.9 L119.0 94.5 L123.8 92.9 L129.3 91.3 M106.2 97.7 L112.6 99.3 L123.8 99.3 L128.5 102.5 L127.5 108.2 M95.0 106.6 L101.2 108.2 L104.3 111.3 L105.8 117.5 L104.3 122.1 L103.5 128.6 M107.4 102.0 L110.5 102.8 L113.5 103.5 L118.2 105.1 L125.9 106.6 L130.5 109.7 L136.7 108.2 L142.9 107.4 L147.5 105.1 M127.5 108.2 L129.0 112.8 L132.1 117.5 L133.6 122.1 L135.2 126.7 L136.7 128.5 M105.8 85.0 L106.6 92.7 M101.4 92.9 L105.0 100.0 L107.4 102.0 M46.3 111.6 L49.1 115.3 L51.8 124.5 L52.8 131.8 L50.9 139.2 M51.8 126.3 L59.2 124.5 L64.7 122.6 L70.2 119.0 L75.8 115.3 L77.6 111.6 L79.6 106.8 M75.8 110.7 L83.1 111.6 L88.7 110.7 L94.2 107.9 L95.0 106.6 M90.5 95.0 L89.6 104.2 L90.5 111.6 L89.5 116.0 M70.2 119.0 L73.9 126.3 L75.8 133.7 L73.9 141.0 L75.8 146.6 L77.6 153.9 L81.3 159.5 L85.0 166.0 M73.9 126.3 L81.3 124.5 L86.8 120.8 L90.5 118.0 L96.0 117.1 L103.4 116.2 M50.9 139.2 L55.0 140.0 L61.0 142.9 L66.6 148.4 L73.9 146.6 M26.0 128.1 L27.9 137.4 L31.6 141.0 L38.9 142.9 L46.3 141.0 L50.9 139.2 M31.6 141.0 L29.7 148.4 L30.3 151.0 M88.7 137.4 L96.0 137.4 L101.6 135.5 L103.5 134.0 M88.7 137.4 L86.8 130.0 L86.8 120.8 M88.7 137.4 L90.0 146.0 L93.0 152.0 L97.0 157.0 L99.5 160.0" fill="none" stroke="#2e2a10" stroke-opacity="0.85" stroke-width="0.75" stroke-linejoin="round"/>
</g>
<polygon points="29.1,67.7 31.7,68.6 33.4,72.0 36.8,72.9 41.1,74.6 45.4,76.3 46.6,76.5 47.1,82.4 48.0,89.2 47.5,93.9 50.6,96.5 53.2,103.0 54.9,104.7 51.4,108.2 48.0,111.6 44.6,114.5 42.8,115.2 41.1,119.3 39.4,122.0 36.8,124.6 33.4,127.2 30.8,130.6 28.2,128.4 25.6,131.5 22.2,134.1 18.8,135.8 16.5,138.0 15.8,142.7 14.5,142.7 13.6,140.1 12.3,136.7 12.3,133.2 14.5,129.8 17.9,127.2 17.0,123.8 14.5,118.6 13.2,115.2 13.6,111.7 15.3,109.9 17.9,105.6 17.0,101.3 18.8,97.8 21.3,93.5 22.2,89.2 23.9,84.1 26.5,79.8 27.4,77.2 26.5,73.8 27.4,70.3" fill="#9fdaf5" stroke="#6499ee" stroke-width="0.8"/>
<polygon points="29.6,96.9 32.6,97.8 33.5,102.7 32.1,106.7 32.6,112.6 32.5,115.2 33.4,119.5 30.8,122.0 26.5,122.0 24.8,118.6 25.6,115.2 26.2,114.0 27.6,111.6 29.1,105.7 29.6,100.8" fill="#ffffff"/>
<path d="M40.0 82.8 L47.0 82.5 M38.4 102.6 L53.0 103.0 M39.0 113.0 L47.0 112.0" fill="none" stroke="#6a8fb0" stroke-width="0.5"/>
<polygon points="136.5,24.6 138.0,24.3 142.3,23.7 144.7,24.3 145.3,27.4 147.8,32.3 150.0,34.8 152.0,40.0 152.9,44.3 155.5,47.7 158.9,50.3 163.2,52.0 166.6,52.9 167.5,56.3 167.5,60.6 169.2,64.1 171.8,68.4 174.4,72.6 175.2,76.9 174.4,82.1 175.2,86.4 174.4,89.8 172.6,93.3 172.6,96.7 174.4,100.1 177.8,103.6 180.3,107.5 178.5,110.1 176.8,114.4 175.9,119.6 175.9,124.7 174.2,127.3 171.6,129.9 168.2,131.6 163.9,132.5 161.3,133.3 156.1,134.2 152.7,135.0 149.2,133.3 146.7,130.7 144.9,129.0 140.6,127.3 137.2,128.2 133.8,129.9 129.5,130.7 125.2,131.6 123.6,133.8 119.3,135.5 115.0,134.6 111.6,132.9 109.9,129.5 105.6,128.6 103.0,128.6 103.0,132.0 103.9,136.3 103.9,140.6 102.1,145.8 101.3,150.1 101.3,154.4 100.4,158.7 97.8,162.1 94.4,163.9 91.0,163.9 87.5,165.6 84.1,168.2 80.6,166.4 77.2,165.6 73.8,166.4 68.6,168.2 65.2,166.4 60.0,167.0 54.9,168.5 53.2,165.0 52.3,159.9 51.4,155.6 48.0,153.0 42.8,151.3 39.4,150.4 34.2,149.6 30.8,150.4 29.9,153.9 29.1,159.9 27.4,160.7 25.6,158.2 21.3,156.4 17.9,154.7 18.8,151.3 17.9,147.0 15.3,144.4 15.3,142.7 14.5,139.2 14.9,135.8 16.2,133.2 18.8,131.1 22.2,129.8 24.4,126.8 26.5,124.6 30.8,124.2 34.2,122.0 37.7,115.2 39.0,110.0 38.5,104.7 37.0,97.8 36.0,93.0 36.8,89.2 42.0,82.4 46.3,76.3 49.6,67.8 52.9,64.5 55.4,61.3 57.8,60.5 62.7,59.6 64.4,56.4 66.8,53.9 70.9,51.5 75.8,50.6 80.7,49.0 85.6,47.4 89.7,46.5 91.8,45.2 94.9,46.4 97.4,50.1 99.2,55.7 100.5,56.9 104.8,55.0 109.1,53.2 112.1,51.4 116.4,49.5 119.5,47.0 120.7,42.7 123.2,41.5 126.9,38.4 130.6,33.5 133.0,31.1 135.5,26.0" fill="none" stroke="#000" stroke-width="1.2" stroke-linejoin="round"/>
<rect x="5.5" y="6.5" width="183.4" height="180" fill="none" stroke="#333" stroke-width="1.3"/>
<text x="7.6" y="18.0" font-family="Liberation Serif, serif" font-size="10" fill="#1a1a1a" stroke="#1a1a1a" stroke-width="0.15">(d)</text>
<text x="91.6" y="17.5" font-family="Liberation Serif, serif" font-size="9.6" fill="#1a1a1a" stroke="#1a1a1a" stroke-width="0.2" text-anchor="middle">2013-2022</text>
<g>
<polygon points="176.0,18.7 177.4,22.6 176.0,24.0" fill="#222"/>
<polygon points="176.0,18.7 174.6,22.6 176.0,24.0" fill="#999"/>
<polygon points="181.3,24.0 177.4,25.4 176.0,24.0" fill="#222"/>
<polygon points="181.3,24.0 177.4,22.6 176.0,24.0" fill="#888"/>
<polygon points="176.0,29.3 174.6,25.4 176.0,24.0" fill="#222"/>
<polygon points="176.0,29.3 177.4,25.4 176.0,24.0" fill="#888"/>
<polygon points="170.7,24.0 174.6,22.6 176.0,24.0" fill="#222"/>
<polygon points="170.7,24.0 174.6,25.4 176.0,24.0" fill="#999"/>
<circle cx="176.0" cy="24.0" r="1.3" fill="#111"/>
</g>
<text x="176.0" y="17.7" font-family="Liberation Sans, sans-serif" font-size="2.6" fill="#556" text-anchor="middle">N</text>
<text x="176.0" y="32.6" font-family="Liberation Sans, sans-serif" font-size="2.6" fill="#556" text-anchor="middle">S</text>
<text x="168.7" y="25.0" font-family="Liberation Sans, sans-serif" font-size="2.6" fill="#556" text-anchor="middle">W</text>
<text x="182.8" y="25.0" font-family="Liberation Sans, sans-serif" font-size="2.6" fill="#556" text-anchor="middle">E</text>
<g transform="translate(0,-3)">
<rect x="109.5" y="181.2" width="62.3" height="2.3" fill="#000"/>
<rect x="121.8" y="181.9" width="12.2" height="0.9" fill="#fff"/>
<rect x="146.4" y="181.9" width="12.3" height="0.9" fill="#fff"/>
<text x="109.6" y="179.2" font-family="Liberation Sans, sans-serif" font-size="4.2" fill="#333" text-anchor="middle">0</text>
<text x="121.6" y="179.2" font-family="Liberation Sans, sans-serif" font-size="4.2" fill="#333" text-anchor="middle">15</text>
<text x="134.0" y="179.2" font-family="Liberation Sans, sans-serif" font-size="4.2" fill="#333" text-anchor="middle">30</text>
<text x="146.4" y="179.2" font-family="Liberation Sans, sans-serif" font-size="4.2" fill="#333" text-anchor="middle">60</text>
<text x="158.7" y="179.2" font-family="Liberation Sans, sans-serif" font-size="4.2" fill="#333" text-anchor="middle">90</text>
<text x="171.4" y="179.2" font-family="Liberation Sans, sans-serif" font-size="4.2" fill="#333" text-anchor="middle">120</text>
<text x="175.4" y="183.8" font-family="Liberation Sans, sans-serif" font-size="4.2" fill="#333">Km</text>
</g>
<path d="M188.9 19.4 h1.8 M188.9 101 h1.8 M188.9 182.4 h1.8 M25.2 186.5 v1.6 M106.9 186.5 v1.6 M188.7 186.5 v1.6" stroke="#222" stroke-width="0.9"/>
<text x="0" y="0" font-family="Liberation Sans, sans-serif" font-size="4.6" fill="#444" text-anchor="middle" transform="translate(197.6,19.2) rotate(-90)">1° S</text>
<text x="0" y="0" font-family="Liberation Sans, sans-serif" font-size="4.6" fill="#444" text-anchor="middle" transform="translate(197.6,101.2) rotate(-90)">2° S</text>
<text x="0" y="0" font-family="Liberation Sans, sans-serif" font-size="4.6" fill="#444" text-anchor="middle" transform="translate(197.6,182.6) rotate(-90)">3° S</text>
<text x="25.2" y="195.8" font-family="Liberation Sans, sans-serif" font-size="4.6" fill="#444" text-anchor="middle">29° E</text>
<text x="106.9" y="195.8" font-family="Liberation Sans, sans-serif" font-size="4.6" fill="#444" text-anchor="middle">30° E</text>
<text x="188.7" y="195.8" font-family="Liberation Sans, sans-serif" font-size="4.6" fill="#444" text-anchor="middle">31° E</text>
</g>
<rect x="475" y="190.5" width="68.7" height="153.7" rx="1" fill="#fff" stroke="#999" stroke-width="1"/>
<text x="477.3" y="200.5" font-family="Liberation Serif, serif" font-size="9.4" fill="#111">Temperature (ºC)</text>
<rect x="479" y="210.2" width="11.5" height="16.4" fill="#38a800" stroke="#8a8a6a" stroke-width="0.4"/>
<rect x="479" y="226.6" width="11.5" height="16.4" fill="#6fc400" stroke="#8a8a6a" stroke-width="0.4"/>
<rect x="479" y="243.0" width="11.5" height="16.4" fill="#a8d800" stroke="#8a8a6a" stroke-width="0.4"/>
<rect x="479" y="259.4" width="11.5" height="16.4" fill="#e8f000" stroke="#8a8a6a" stroke-width="0.4"/>
<rect x="479" y="275.8" width="11.5" height="16.4" fill="#ffd800" stroke="#8a8a6a" stroke-width="0.4"/>
<rect x="479" y="292.2" width="11.5" height="16.4" fill="#ff9500" stroke="#8a8a6a" stroke-width="0.4"/>
<rect x="479" y="308.6" width="11.5" height="16.4" fill="#ff4c00" stroke="#8a8a6a" stroke-width="0.4"/>
<rect x="479" y="325.0" width="11.5" height="16.4" fill="#ff0000" stroke="#8a8a6a" stroke-width="0.4"/>
<text x="491.7" y="214.5" font-family="Liberation Sans, sans-serif" font-size="8.9" fill="#111">8</text>
<text x="494.2" y="228.6" font-family="Liberation Sans, sans-serif" font-size="8.9" fill="#111">9</text>
<text x="494.2" y="245.2" font-family="Liberation Sans, sans-serif" font-size="8.9" fill="#111">10</text>
<text x="494.2" y="262.1" font-family="Liberation Sans, sans-serif" font-size="8.9" fill="#111">11</text>
<text x="494.2" y="277.8" font-family="Liberation Sans, sans-serif" font-size="8.9" fill="#111">12</text>
<text x="494.2" y="294.1" font-family="Liberation Sans, sans-serif" font-size="8.9" fill="#111">13</text>
<text x="494.2" y="310.1" font-family="Liberation Sans, sans-serif" font-size="8.9" fill="#111">14</text>
<text x="494.2" y="326.6" font-family="Liberation Sans, sans-serif" font-size="8.9" fill="#111">15</text>
<text x="494.2" y="341.1" font-family="Liberation Sans, sans-serif" font-size="8.9" fill="#111">16</text>
</svg>
</body></html>
